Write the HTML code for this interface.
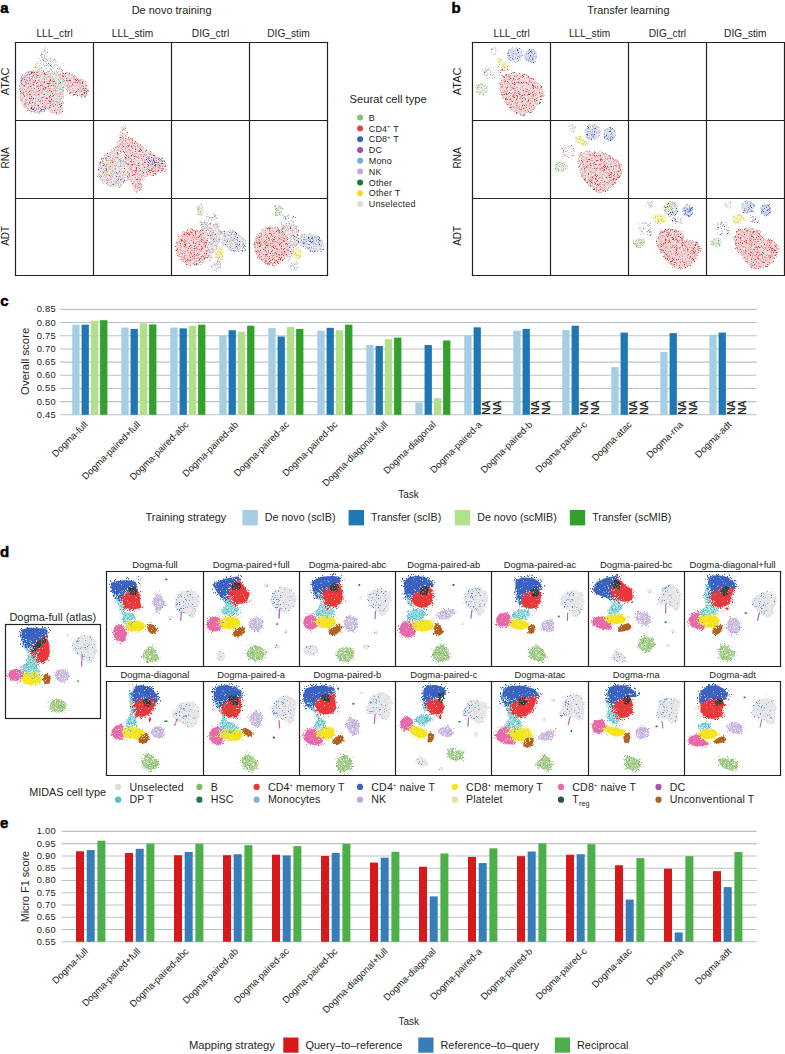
<!DOCTYPE html>
<html><head><meta charset="utf-8"><style>
html,body{margin:0;padding:0;background:#fff;}
svg{display:block;font-family:"Liberation Sans", sans-serif;}
</style></head><body>
<svg width="785" height="1054" viewBox="0 0 785 1054">
<rect width="785" height="1054" fill="#fff"/>
<path d="M22.3 76.8L28.9 73.0L40.3 72.0L47.9 73.9L54.5 81.5L55.5 89.1L53.6 98.5L48.8 107.1L41.3 111.8L33.7 111.8L25.1 108.0L21.3 100.4L20.9 87.2Z" fill="#f5e3e4"/>
<path d="M60.9 74.4L68.4 72.5L76.0 77.2L83.6 80.1L87.4 84.8L87.4 92.4L84.6 96.2L76.0 94.3L70.3 93.3L63.7 87.7L60.9 81.0Z" fill="#f5e0e2"/>
<path d="M49.3 71.8L59.7 73.7L63.5 85.1L63.5 98.4L62.6 104.1L55.9 102.2L54.1 88.9Z" fill="#f3edee"/>
<path d="M46.3 99.6L55.8 99.6L62.4 103.4L62.4 111.9L57.6 114.8L49.1 111.9Z" fill="#f2e2e4"/>
<path d="M98.1 176.0L99.9 162.9L105.5 154.4L113.0 150.7L122.4 154.4L125.2 165.7L124.3 179.7L122.4 185.3L113.0 187.2L105.5 183.5L99.9 179.7Z" fill="#f0eaed"/>
<path d="M115.0 150.2L120.6 141.8L124.3 136.2L131.8 139.9L138.4 143.7L144.9 149.3L152.4 154.9L161.8 159.6L165.5 164.3L163.6 170.8L156.1 173.6L146.8 175.5L141.2 179.3L141.2 188.6L137.4 191.4L133.7 187.7L131.8 181.1L127.1 179.3L127.1 165.2L124.3 154.0Z" fill="#f6e0e1"/>
<path d="M144.2 158.6L155.4 156.7L164.8 162.3L162.9 168.9L149.8 168.9Z" fill="#e7e2eb"/>
<path d="M208.7 247.3L208.3 251.2L207.1 254.8L205.2 258.1L202.7 260.9L199.6 262.9L196.2 264.2L192.6 264.6L189.1 264.2L185.7 262.9L182.6 260.9L180.1 258.1L178.1 254.8L176.9 251.2L176.5 247.3L176.9 243.5L178.1 239.8L180.1 236.5L182.6 233.8L185.7 231.7L189.1 230.4L192.6 230.0L196.2 230.4L199.6 231.7L202.7 233.8L205.2 236.5L207.1 239.8L208.3 243.5Z" fill="#f7ddde"/>
<path d="M200.0 222.5L217.8 224.4L220.6 230.9L218.7 245.0L213.1 252.4L210.3 260.9L207.5 256.2L210.3 240.3L201.9 230.9Z" fill="#f4edef"/>
<path d="M222.2 231.9L233.4 231.0L244.6 239.4L244.6 250.7L233.4 251.6L222.2 244.1Z" fill="#e8e9ed"/>
<path d="M214.6 247.8L221.2 246.9L223.0 253.4L222.1 259.0L218.4 260.9L215.6 257.2Z" fill="#f9f6d8"/>
<path d="M196.5 206.3L201.1 204.5L203.9 209.1L203.0 214.7L197.4 214.7Z" fill="#e9f2e4"/>
<path d="M288.3 245.8L287.9 249.9L286.7 253.7L284.7 257.2L282.0 260.1L278.9 262.3L275.4 263.6L271.6 264.1L267.9 263.6L264.4 262.3L261.3 260.1L258.6 257.2L256.6 253.7L255.4 249.9L255.0 245.8L255.4 241.7L256.6 237.9L258.6 234.4L261.3 231.5L264.4 229.4L267.9 228.0L271.6 227.6L275.4 228.0L278.9 229.4L282.0 231.5L284.7 234.4L286.7 237.9L287.9 241.7Z" fill="#f8dcdc"/>
<path d="M280.0 223.5L295.9 225.3L298.7 231.9L296.8 245.0L292.1 252.5L289.3 260.9L286.5 256.2L289.3 240.3L282.8 230.9Z" fill="#f4edef"/>
<path d="M299.2 234.8L311.4 233.9L322.6 239.5L322.6 250.7L311.4 251.7L299.2 244.2Z" fill="#e6e7f0"/>
<path d="M301.5 253.4L301.4 254.7L301.1 256.0L300.6 257.1L299.9 258.1L299.1 258.8L298.2 259.3L297.3 259.4L296.4 259.3L295.5 258.8L294.7 258.1L294.0 257.1L293.5 256.0L293.2 254.7L293.1 253.4L293.2 252.0L293.5 250.7L294.0 249.6L294.7 248.6L295.5 247.9L296.4 247.4L297.3 247.3L298.2 247.4L299.1 247.9L299.9 248.6L300.6 249.6L301.1 250.7L301.4 252.0Z" fill="#f9f6d8"/>
<path d="M274.5 206.4L279.1 204.5L281.9 209.2L281.0 215.7L275.4 215.7Z" fill="#eaf0e3"/>
<path d="M500.8 85.8L503.6 76.5L514.8 73.7L526.1 75.5L535.4 81.1L541.0 86.8L543.8 93.3L540.1 101.7L533.5 109.2L524.2 114.8L516.7 113.0L507.3 103.6L502.7 96.1Z" fill="#f7e1e1"/>
<path d="M522.3 54.6L522.1 56.1L521.5 57.6L520.6 59.0L519.4 60.1L518.0 60.9L516.4 61.4L514.8 61.6L513.1 61.4L511.5 60.9L510.1 60.1L508.9 59.0L508.0 57.6L507.5 56.1L507.3 54.6L507.5 53.0L508.0 51.5L508.9 50.2L510.1 49.1L511.5 48.3L513.1 47.7L514.8 47.6L516.4 47.7L518.0 48.3L519.4 49.1L520.6 50.2L521.5 51.5L522.1 53.0Z" fill="#e4e7f3"/>
<path d="M537.0 56.1L536.8 57.5L536.4 58.9L535.6 60.2L534.7 61.2L533.5 62.0L532.2 62.5L530.9 62.6L529.5 62.5L528.2 62.0L527.1 61.2L526.1 60.2L525.4 58.9L524.9 57.5L524.8 56.1L524.9 54.6L525.4 53.2L526.1 52.0L527.1 51.0L528.2 50.2L529.5 49.7L530.9 49.5L532.2 49.7L533.5 50.2L534.7 51.0L535.6 52.0L536.4 53.2L536.8 54.6Z" fill="#dfe4f2"/>
<path d="M497.6 58.5L500.4 58.5L508.8 66.0L507.9 69.7L505.0 68.8L497.6 62.3Z" fill="#faf7d5"/>
<path d="M487.6 89.3L487.5 90.5L487.0 91.7L486.3 92.8L485.4 93.7L484.2 94.4L482.9 94.8L481.6 94.9L480.2 94.8L478.9 94.4L477.8 93.7L476.8 92.8L476.1 91.7L475.6 90.5L475.5 89.3L475.6 88.0L476.1 86.9L476.8 85.8L477.8 84.9L478.9 84.2L480.2 83.8L481.6 83.7L482.9 83.8L484.2 84.2L485.4 84.9L486.3 85.8L487.0 86.9L487.5 88.0Z" fill="#ecf3e9"/>
<path d="M578.7 160.9L581.5 153.4L592.8 151.6L604.0 153.4L614.3 159.1L620.9 165.6L620.9 174.0L613.4 184.3L604.0 191.8L596.5 190.9L586.2 181.5L580.6 172.2Z" fill="#f7e1e1"/>
<path d="M600.3 132.1L600.1 133.7L599.5 135.3L598.6 136.7L597.4 137.9L596.0 138.8L594.4 139.4L592.8 139.6L591.1 139.4L589.5 138.8L588.1 137.9L586.9 136.7L586.0 135.3L585.5 133.7L585.3 132.1L585.5 130.4L586.0 128.8L586.9 127.4L588.1 126.2L589.5 125.3L591.1 124.8L592.8 124.6L594.4 124.8L596.0 125.3L597.4 126.2L598.6 127.4L599.5 128.8L600.1 130.4Z" fill="#e4e7f3"/>
<path d="M615.5 134.1L615.3 135.5L614.9 136.9L614.1 138.2L613.2 139.2L612.0 140.0L610.7 140.5L609.4 140.6L608.0 140.5L606.7 140.0L605.6 139.2L604.6 138.2L603.9 136.9L603.4 135.5L603.3 134.1L603.4 132.6L603.9 131.2L604.6 130.0L605.6 129.0L606.7 128.2L608.0 127.7L609.4 127.5L610.7 127.7L612.0 128.2L613.2 129.0L614.1 130.0L614.9 131.2L615.3 132.6Z" fill="#dfe4f2"/>
<path d="M575.6 136.5L580.2 136.5L586.8 142.1L585.9 145.8L582.1 145.8L575.6 141.1Z" fill="#faf7d5"/>
<path d="M567.1 166.8L567.0 167.9L566.5 169.0L565.7 170.0L564.7 170.8L563.4 171.4L562.0 171.8L560.6 171.9L559.1 171.8L557.7 171.4L556.5 170.8L555.4 170.0L554.7 169.0L554.2 167.9L554.0 166.8L554.2 165.7L554.7 164.6L555.4 163.6L556.5 162.8L557.7 162.2L559.1 161.8L560.6 161.6L562.0 161.8L563.4 162.2L564.7 162.8L565.7 163.6L566.5 164.6L567.0 165.7Z" fill="#ecf3e9"/>
<path d="M657.7 240.8L661.5 231.5L670.8 229.6L682.0 232.4L683.9 239.9L695.1 241.7L699.8 247.4L697.0 256.7L689.5 265.1L680.2 268.0L672.7 266.1L665.2 256.7L658.6 247.4Z" fill="#f8ddde"/>
<path d="M677.8 209.1L677.6 210.7L677.1 212.3L676.3 213.7L675.1 214.9L673.8 215.8L672.3 216.4L670.8 216.6L669.2 216.4L667.7 215.8L666.4 214.9L665.3 213.7L664.4 212.3L663.9 210.7L663.8 209.1L663.9 207.4L664.4 205.8L665.3 204.4L666.4 203.2L667.7 202.3L669.2 201.8L670.8 201.6L672.3 201.8L673.8 202.3L675.1 203.2L676.3 204.4L677.1 205.8L677.6 207.4Z" fill="#e7eaea"/>
<path d="M693.0 210.6L692.9 211.8L692.5 213.0L691.9 214.1L691.1 215.0L690.1 215.6L689.0 216.1L687.9 216.2L686.7 216.1L685.6 215.6L684.7 215.0L683.9 214.1L683.2 213.0L682.9 211.8L682.7 210.6L682.9 209.3L683.2 208.1L683.9 207.1L684.7 206.2L685.6 205.5L686.7 205.1L687.9 205.0L689.0 205.1L690.1 205.5L691.1 206.2L691.9 207.1L692.5 208.1L692.9 209.3Z" fill="#dbe2f2"/>
<path d="M665.8 218.6L665.6 219.7L665.2 220.7L664.5 221.6L663.5 222.3L662.3 222.9L661.1 223.2L659.7 223.3L658.3 223.2L657.1 222.9L655.9 222.3L654.9 221.6L654.2 220.7L653.8 219.7L653.6 218.6L653.8 217.6L654.2 216.6L654.9 215.7L655.9 215.0L657.1 214.4L658.3 214.1L659.7 214.0L661.1 214.1L662.3 214.4L663.5 215.0L664.5 215.7L665.2 216.6L665.6 217.6Z" fill="#faf7d5"/>
<path d="M644.7 242.8L644.5 243.7L644.1 244.6L643.5 245.4L642.6 246.1L641.5 246.6L640.3 246.9L639.1 247.0L637.8 246.9L636.6 246.6L635.6 246.1L634.7 245.4L634.0 244.6L633.6 243.7L633.5 242.8L633.6 241.9L634.0 241.0L634.7 240.2L635.6 239.5L636.6 239.0L637.8 238.7L639.1 238.6L640.3 238.7L641.5 239.0L642.6 239.5L643.5 240.2L644.1 241.0L644.5 241.9Z" fill="#eaf2e6"/>
<path d="M734.8 240.8L738.5 230.5L748.8 228.6L760.0 231.4L761.9 238.9L773.1 240.8L777.8 247.3L775.0 257.6L767.5 265.1L758.2 267.9L750.7 266.1L743.2 256.7L736.6 248.3Z" fill="#f8ddde"/>
<path d="M754.3 207.1L754.2 208.4L753.7 209.7L752.9 210.9L751.8 211.8L750.6 212.5L749.2 213.0L747.8 213.1L746.3 213.0L744.9 212.5L743.7 211.8L742.6 210.9L741.9 209.7L741.4 208.4L741.2 207.1L741.4 205.7L741.9 204.4L742.6 203.3L743.7 202.3L744.9 201.6L746.3 201.1L747.8 201.0L749.2 201.1L750.6 201.6L751.8 202.3L752.9 203.3L753.7 204.4L754.2 205.7Z" fill="#dfe4f2"/>
<path d="M771.0 210.1L770.9 211.4L770.5 212.7L769.9 213.9L769.1 214.8L768.1 215.6L767.0 216.0L765.9 216.2L764.7 216.0L763.6 215.6L762.7 214.8L761.9 213.9L761.2 212.7L760.9 211.4L760.7 210.1L760.9 208.7L761.2 207.4L761.9 206.3L762.7 205.3L763.6 204.6L764.7 204.2L765.9 204.0L767.0 204.2L768.1 204.6L769.1 205.3L769.9 206.3L770.5 207.4L770.9 208.7Z" fill="#dbe2f2"/>
<path d="M744.3 219.1L744.2 220.1L743.8 221.0L743.1 221.8L742.2 222.4L741.1 222.9L740.0 223.2L738.7 223.4L737.5 223.2L736.3 222.9L735.2 222.4L734.3 221.8L733.6 221.0L733.2 220.1L733.1 219.1L733.2 218.2L733.6 217.3L734.3 216.5L735.2 215.8L736.3 215.3L737.5 215.0L738.7 214.9L740.0 215.0L741.1 215.3L742.2 215.8L743.1 216.5L743.8 217.3L744.2 218.2Z" fill="#faf7d5"/>
<path d="M721.7 242.8L721.5 243.7L721.1 244.6L720.5 245.4L719.6 246.1L718.5 246.6L717.3 246.9L716.1 247.0L714.8 246.9L713.6 246.6L712.6 246.1L711.7 245.4L711.0 244.6L710.6 243.7L710.4 242.8L710.6 241.9L711.0 241.0L711.7 240.2L712.6 239.5L713.6 239.0L714.8 238.7L716.1 238.6L717.3 238.7L718.5 239.0L719.6 239.5L720.5 240.2L721.1 241.0L721.5 241.9Z" fill="#eaf2e6"/>
<g transform="translate(0 0.5)"><path d="M45 47h1M45 48h1M509 49h1M495 50h1M497 50h1M508 50h1M510 50h1M528 50h1M44 51h1M508 51h1M518 51h1M534 51h1M46 52h1M491 52h1M511 52h1M514 52h1M532 52h1M534 52h1M45 53h1M512 53h1M516 53h1M531 53h2M535 53h1M42 54h1M495 54h1M511 54h1M518 54h1M527 54h1M536 54h1M41 55h1M512 55h2M528 55h1M41 56h1M44 56h1M46 56h1M517 56h1M535 56h1M41 57h1M44 57h1M509 57h1M524 57h1M531 57h1M535 57h1M43 58h1M45 58h1M50 58h1M498 58h1M508 58h1M533 58h1M535 58h1M43 59h1M50 59h1M500 59h1M512 59h1M520 59h1M40 60h1M44 60h1M529 60h1M46 61h1M50 61h1M52 61h1M528 61h1M532 61h1M41 62h1M55 62h1M60 62h1M515 62h1M531 62h1M50 63h1M43 64h1M47 64h1M49 64h1M51 64h1M499 64h1M48 65h1M54 65h1M35 66h1M58 66h1M507 66h1M35 67h1M60 67h1M39 68h1M46 68h1M50 68h1M53 68h1M59 68h1M485 68h1M493 68h1M38 69h1M45 69h1M50 69h2M482 69h1M487 69h3M51 70h1M484 70h1M486 70h2M492 70h1M498 70h1M502 70h2M32 71h1M37 71h1M47 71h1M56 71h1M58 71h1M61 71h1M485 71h2M26 72h1M29 72h1M42 72h1M46 72h1M48 72h1M51 72h1M54 72h1M485 72h1M490 72h1M493 72h1M39 73h1M56 73h2M66 73h1M513 73h1M522 73h1M23 74h1M31 74h2M34 74h1M41 74h2M50 74h1M69 74h1M491 74h1M27 75h1M39 75h2M44 75h1M50 75h1M55 75h2M59 75h1M68 75h2M72 75h1M508 75h1M510 75h1M524 75h1M21 76h1M26 76h1M29 76h1M31 76h1M40 76h1M50 76h1M52 76h1M54 76h1M60 76h2M74 76h1M504 76h1M506 76h2M515 76h1M36 77h1M49 77h1M52 77h1M60 77h1M67 77h1M71 77h1M489 77h1M506 77h1M513 77h1M523 77h1M32 78h1M35 78h2M42 78h2M46 78h1M51 78h1M56 78h1M58 78h1M61 78h1M70 78h1M73 78h1M486 78h2M505 78h1M509 78h1M21 79h1M25 79h1M30 79h3M61 79h1M69 79h2M73 79h1M78 79h1M507 79h1M512 79h1M37 80h1M51 80h2M56 80h1M62 80h1M65 80h1M73 80h1M83 80h1M503 80h1M506 80h1M510 80h1M519 80h1M23 81h1M28 81h3M50 81h1M52 81h1M59 81h1M83 81h1M518 81h1M520 81h1M38 82h1M43 82h1M47 82h1M52 82h1M56 82h1M58 82h1M65 82h1M70 82h1M504 82h1M528 82h1M25 83h1M30 83h2M42 83h2M53 83h1M60 83h1M62 83h1M80 83h1M480 83h2M521 83h1M524 83h1M526 83h1M26 84h1M42 84h1M45 84h1M56 84h1M60 84h1M85 84h1M482 84h1M499 84h1M508 84h1M515 84h1M25 85h1M33 85h1M37 85h1M50 85h1M52 85h1M54 85h2M58 85h1M65 85h2M76 85h2M79 85h1M81 85h1M478 85h1M485 85h1M511 85h1M513 85h1M521 85h1M26 86h1M28 86h1M40 86h1M43 86h2M54 86h1M57 86h1M63 86h1M67 86h1M71 86h1M78 86h1M477 86h1M510 86h1M521 86h1M530 86h1M535 86h1M27 87h1M30 87h1M55 87h1M60 87h1M80 87h1M478 87h2M486 87h1M500 87h1M520 87h1M522 87h1M23 88h1M40 88h1M46 88h2M54 88h1M56 88h2M60 88h1M62 88h1M68 88h1M80 88h1M86 88h1M477 88h1M481 88h1M484 88h1M515 88h1M519 88h1M530 88h1M536 88h1M538 88h1M540 88h1M30 89h1M34 89h1M41 89h2M45 89h1M50 89h1M55 89h1M63 89h1M68 89h2M80 89h1M87 89h1M476 89h1M502 89h1M510 89h1M513 89h1M522 89h1M541 89h1M20 90h1M25 90h1M28 90h1M35 90h1M41 90h2M50 90h1M59 90h1M62 90h1M67 90h1M80 90h1M500 90h1M502 90h1M507 90h1M514 90h1M517 90h1M522 90h1M537 90h1M30 91h1M37 91h1M40 91h1M62 91h2M67 91h1M69 91h1M73 91h1M78 91h2M477 91h1M486 91h1M500 91h1M503 91h1M505 91h2M520 91h1M527 91h1M531 91h1M539 91h1M27 92h1M47 92h1M52 92h1M59 92h2M62 92h1M72 92h1M77 92h1M479 92h2M486 92h1M502 92h1M504 92h1M512 92h1M21 93h1M23 93h1M38 93h1M44 93h1M55 93h2M60 93h1M516 93h1M535 93h1M539 93h1M20 94h1M26 94h1M35 94h1M37 94h1M56 94h1M79 94h1M85 94h1M479 94h1M483 94h1M522 94h1M525 94h3M535 94h1M540 94h1M23 95h1M27 95h2M39 95h1M59 95h1M85 95h1M501 95h1M510 95h1M515 95h1M523 95h1M27 96h1M29 96h1M58 96h1M61 96h3M508 96h2M520 96h1M528 96h1M542 96h2M20 97h1M22 97h2M31 97h1M38 97h1M46 97h1M54 97h1M57 97h1M59 97h2M63 97h1M508 97h2M529 97h1M37 98h1M41 98h1M55 98h2M59 98h1M516 98h1M530 98h1M533 98h1M26 99h1M32 99h1M35 99h1M57 99h1M59 99h2M521 99h1M20 100h1M35 100h1M44 100h1M52 100h2M505 100h1M511 100h1M527 100h1M537 100h1M21 101h1M24 101h2M35 101h1M51 101h1M54 101h1M56 101h1M515 101h1M521 101h1M526 101h1M535 101h1M22 102h1M25 102h3M30 102h1M33 102h3M41 102h1M50 102h1M56 102h1M58 102h1M63 102h1M506 102h1M518 102h1M520 102h1M526 102h1M528 102h1M52 103h1M54 103h1M57 103h1M59 103h2M63 103h1M508 103h1M516 103h1M523 103h1M527 103h1M535 103h3M34 104h1M43 104h1M523 104h1M529 104h1M537 104h2M24 105h1M31 105h1M46 105h1M49 105h1M54 105h1M531 105h1M25 106h1M32 106h1M514 106h1M516 106h1M528 106h2M533 106h1M24 107h1M43 107h1M514 107h1M517 107h1M523 107h1M525 107h1M529 107h1M32 108h1M47 108h1M62 108h1M510 108h1M531 108h1M534 108h1M31 109h1M45 109h1M48 109h1M51 109h1M515 109h1M518 109h1M34 110h1M43 110h1M57 110h1M515 110h1M530 110h1M32 111h1M54 111h1M514 111h1M518 111h1M521 111h1M532 111h1M35 112h1M38 112h1M50 112h1M54 112h1M518 112h1M527 112h1M519 113h2M523 113h1M516 114h1M520 115h3M589 125h1M593 125h2M596 125h1M573 126h1M589 126h1M121 127h1M124 127h1M590 127h1M596 127h1M122 128h1M124 128h1M574 128h1M593 128h1M571 129h1M588 129h3M593 129h1M606 129h2M569 130h1M585 130h1M599 130h1M586 131h1M589 131h1M608 131h1M126 132h1M573 132h1M590 132h2M611 132h1M615 132h1M587 133h1M592 133h1M597 133h1M127 134h1M608 134h1M122 135h1M615 135h1M598 136h1M606 136h1M608 136h1M614 136h1M119 137h1M121 137h1M576 137h1M591 137h1M596 137h1M614 137h1M119 138h1M604 138h1M576 139h1M605 139h2M124 140h1M608 140h1M121 142h1M134 142h1M117 143h1M121 143h1M129 143h1M137 143h2M583 143h1M121 144h1M124 144h1M585 144h1M118 145h1M123 145h1M131 145h1M138 146h1M142 146h1M116 147h1M122 147h1M125 147h1M132 147h2M565 147h1M565 148h1M568 148h1M573 148h1M114 149h1M117 149h1M128 149h1M141 149h1M113 150h3M120 150h1M573 150h1M594 150h1M112 151h1M114 151h1M121 151h1M126 151h2M130 151h1M563 151h1M574 151h1M590 151h1M594 151h1M110 152h2M125 152h2M130 152h1M105 153h1M112 153h1M118 153h1M120 153h1M144 153h1M148 153h1M151 153h1M564 153h1M580 153h1M583 153h1M109 154h2M118 154h1M139 154h2M143 154h1M564 154h1M579 154h1M588 154h1M600 154h1M603 154h1M605 154h1M104 155h1M107 155h1M113 155h1M117 155h1M132 155h1M144 155h1M151 155h1M564 155h2M571 155h1M579 155h1M589 155h1M593 155h1M603 155h1M109 156h1M113 156h1M126 156h1M130 156h1M562 156h1M565 156h1M582 156h1M590 156h1M599 156h1M605 156h1M105 157h2M126 157h1M129 157h1M136 157h1M139 157h1M149 157h1M153 157h1M579 157h1M586 157h2M595 157h2M602 157h1M607 157h1M609 157h1M102 158h1M107 158h1M109 158h1M120 158h2M139 158h1M143 158h1M147 158h1M151 158h1M154 158h1M586 158h1M601 158h1M105 159h1M113 159h2M141 159h1M144 159h1M151 159h1M578 159h1M583 159h1M599 159h1M602 159h1M604 159h1M612 159h1M615 159h2M102 160h1M107 160h1M109 160h2M121 160h1M584 160h1M589 160h2M593 160h1M608 160h1M112 161h1M123 161h1M125 161h1M134 161h1M149 161h1M158 161h1M160 161h2M577 161h2M608 161h1M611 161h1M102 162h1M113 162h1M120 162h2M123 162h4M133 162h1M135 162h1M139 162h1M157 162h1M165 162h1M581 162h1M586 162h1M593 162h1M606 162h1M613 162h1M107 163h1M113 163h1M120 163h1M123 163h1M134 163h1M153 163h1M157 163h1M159 163h1M163 163h1M557 163h1M561 163h1M580 163h1M582 163h1M585 163h1M592 163h1M603 163h1M607 163h1M611 163h1M614 163h1M102 164h1M125 164h1M133 164h1M137 164h1M159 164h2M557 164h1M586 164h1M593 164h2M608 164h1M611 164h1M98 165h1M104 165h1M124 165h1M127 165h3M158 165h1M555 165h1M557 165h1M566 165h1M593 165h1M600 165h1M614 165h1M100 166h1M106 166h1M117 166h3M124 166h1M126 166h1M131 166h2M139 166h1M144 166h1M148 166h1M152 166h1M159 166h1M161 166h1M561 166h1M563 166h1M567 166h1M587 166h1M594 166h1M618 166h1M99 167h1M106 167h1M109 167h1M112 167h1M119 167h1M135 167h1M138 167h1M142 167h1M146 167h1M155 167h1M162 167h1M583 167h2M591 167h1M595 167h1M599 167h1M611 167h1M613 167h1M620 167h1M98 168h1M100 168h1M109 168h1M111 168h2M118 168h1M121 168h2M160 168h1M556 168h1M558 168h1M563 168h1M595 168h1M597 168h1M615 168h1M618 168h1M620 168h1M103 169h1M109 169h2M114 169h1M138 169h1M140 169h1M146 169h2M155 169h2M558 169h2M582 169h1M100 170h1M125 170h1M144 170h1M147 170h1M165 170h1M556 170h1M595 170h1M600 170h2M102 171h1M107 171h1M109 171h1M113 171h1M131 171h1M134 171h1M138 171h1M146 171h1M155 171h1M162 171h1M561 171h1M584 171h1M587 171h1M591 171h1M595 171h1M601 171h1M606 171h1M610 171h1M616 171h1M619 171h1M621 171h1M105 172h1M110 172h1M121 172h1M125 172h1M132 172h1M136 172h1M160 172h1M584 172h1M591 172h2M594 172h1M600 172h1M602 172h1M621 172h1M110 173h1M116 173h1M132 173h1M142 173h1M152 173h1M584 173h1M586 173h1M599 173h1M609 173h1M620 173h1M106 174h1M112 174h1M123 174h1M125 174h1M129 174h1M142 174h1M150 174h1M596 174h1M603 174h1M609 174h1M98 175h1M104 175h1M108 175h1M115 175h1M125 175h1M127 175h1M139 175h1M599 175h1M604 175h1M118 176h1M584 176h1M590 176h2M593 176h1M598 176h1M601 176h1M608 176h1M615 176h1M110 177h1M122 177h2M134 177h1M139 177h1M587 177h2M591 177h1M595 177h1M600 177h1M605 177h1M107 178h1M117 178h2M121 178h1M123 178h1M130 178h1M144 178h1M589 178h1M599 178h1M603 178h1M606 178h2M100 179h3M107 179h2M116 179h1M122 179h1M124 179h1M132 179h1M611 179h1M108 180h2M113 180h1M126 180h2M136 180h1M600 180h1M602 180h1M612 180h1M111 181h1M113 181h1M133 181h1M611 181h2M104 182h1M107 182h3M116 182h1M119 182h1M133 182h1M137 182h1M602 182h1M604 182h1M608 182h2M103 183h1M107 183h1M113 183h1M117 183h2M133 183h1M587 183h1M589 183h2M597 183h1M600 183h1M605 183h1M607 183h1M613 183h1M132 184h1M136 184h1M138 184h1M589 184h2M594 184h1M607 184h1M611 184h1M109 185h3M115 185h1M118 185h1M135 185h1M140 185h1M596 185h1M113 186h1M120 186h1M136 186h1M141 186h1M592 186h1M594 186h1M597 186h1M603 186h1M605 186h1M613 186h1M606 187h1M608 187h1M602 188h2M599 190h1M604 190h1M135 191h3M602 191h3M598 192h2M604 193h1M746 200h1M669 201h2M744 201h1M749 201h1M647 202h1M651 202h1M671 202h2M725 202h1M728 202h1M746 202h1M648 203h1M673 203h1M742 203h1M745 203h3M651 204h1M670 204h1M673 204h1M686 204h1M726 204h1M743 204h1M752 204h1M652 205h1M672 205h1M674 205h2M747 205h1M197 206h1M279 206h1M650 206h1M670 206h1M676 206h1M685 206h1M742 206h1M749 206h1M762 206h1M765 206h2M769 206h1M202 207h1M279 207h1M668 207h1M683 207h1M750 207h1M197 208h1M199 208h1M201 208h1M281 208h1M667 208h1M760 208h1M762 208h1M768 208h1M278 209h1M746 209h1M683 210h1M750 210h1M766 210h1M768 210h1M770 210h1M665 211h1M674 211h1M691 211h1M749 211h1M762 211h1M690 212h1M746 212h1M670 213h1M673 213h1M686 213h1M689 213h1M763 213h1M770 213h1M199 214h1M213 214h1M288 214h1M685 214h1M739 214h1M217 215h1M738 215h1M750 215h1M206 216h1M287 216h1M660 216h1M669 216h1M765 216h1M209 217h1M213 217h1M215 217h1M285 217h1M288 217h1M292 217h2M751 217h1M756 217h1M216 218h2M283 218h1M653 218h1M677 218h1M680 218h1M736 218h1M211 219h1M285 219h1M658 219h1M661 219h2M671 219h1M752 219h1M204 220h1M208 220h1M681 220h1M752 220h1M758 220h1M200 221h1M288 221h1M658 221h1M663 221h1M674 221h1M676 221h1M678 221h1M758 221h1M201 222h1M203 222h1M206 222h2M281 222h1M679 222h2M718 222h1M738 222h1M209 223h1M215 223h1M281 223h1M643 223h1M645 223h2M717 223h1M720 223h2M203 224h1M208 224h1M215 224h1M217 224h1M281 224h1M289 224h1M291 224h1M293 224h1M648 224h1M717 224h1M726 224h1M207 225h1M217 225h1M283 225h1M291 225h1M293 225h1M203 226h1M213 226h1M218 226h1M269 226h2M275 226h1M283 226h1M287 226h1M291 226h1M294 226h2M648 226h1M720 226h1M722 226h1M201 227h1M209 227h1M271 227h1M285 227h1M287 227h1M640 227h1M643 227h1M202 228h1M205 228h1M218 228h1M265 228h1M288 228h1M291 228h1M669 228h1M746 228h1M750 228h1M753 228h1M190 229h1M201 229h1M207 229h2M263 229h1M281 229h2M296 229h1M640 229h1M648 229h3M666 229h1M185 230h1M203 230h1M205 230h1M209 230h1M211 230h2M285 230h1M290 230h1M296 230h1M674 230h1M742 230h1M745 230h1M192 231h1M199 231h1M213 231h1M221 231h2M228 231h1M285 231h1M642 231h1M649 231h1M651 231h1M665 231h2M722 231h1M729 231h1M738 231h1M749 231h1M756 231h1M205 232h2M209 232h1M211 232h2M219 232h2M224 232h1M230 232h2M285 232h1M292 232h1M294 232h1M296 232h1M298 232h1M642 232h1M650 232h1M672 232h1M678 232h1M749 232h1M757 232h1M186 233h1M198 233h1M201 233h1M207 233h1M209 233h1M216 233h1M220 233h1M234 233h1M266 233h1M275 233h1M284 233h1M288 233h1M310 233h1M726 233h1M744 233h1M755 233h1M206 234h1M210 234h1M214 234h1M218 234h3M266 234h1M281 234h1M287 234h1M292 234h1M296 234h1M301 234h2M640 234h1M651 234h1M676 234h1M723 234h1M749 234h2M754 234h1M181 235h1M198 235h1M211 235h1M225 235h1M229 235h2M235 235h1M238 235h2M278 235h1M281 235h1M286 235h1M290 235h1M292 235h1M298 235h1M649 235h1M659 235h1M661 235h1M676 235h1M682 235h1M197 236h1M210 236h1M212 236h1M216 236h1M258 236h1M263 236h1M282 236h1M291 236h1M293 236h1M295 236h1M302 236h1M306 236h1M308 236h1M310 236h1M312 236h1M317 236h1M658 236h1M662 236h1M673 236h1M677 236h1M193 237h1M203 237h2M211 237h1M213 237h2M234 237h1M262 237h1M275 237h1M282 237h1M293 237h1M301 237h1M303 237h1M315 237h1M317 237h1M667 237h1M682 237h1M741 237h1M178 238h1M204 238h1M208 238h1M213 238h2M216 238h1M218 238h1M228 238h1M243 238h1M257 238h1M262 238h1M275 238h1M290 238h1M299 238h1M305 238h1M313 238h1M316 238h3M669 238h1M187 239h1M198 239h1M215 239h1M220 239h1M224 239h1M230 239h1M233 239h1M255 239h1M279 239h1M291 239h1M297 239h1M301 239h1M306 239h1M315 239h2M638 239h1M659 239h1M661 239h1M683 239h1M686 239h1M184 240h1M186 240h2M230 240h2M233 240h1M245 240h1M262 240h1M273 240h1M279 240h1M284 240h1M294 240h1M314 240h1M684 240h1M690 240h1M692 240h1M719 240h1M738 240h1M761 240h1M186 241h1M204 241h1M211 241h1M213 241h1M219 241h1M225 241h1M242 241h1M245 241h1M290 241h1M292 241h1M295 241h1M297 241h1M303 241h1M311 241h1M316 241h1M318 241h1M320 241h1M322 241h1M633 241h1M676 241h1M679 241h1M684 241h1M695 241h2M720 241h1M735 241h1M740 241h1M746 241h1M179 242h1M204 242h1M213 242h1M226 242h1M236 242h1M265 242h1M267 242h1M300 242h1M305 242h1M312 242h1M633 242h1M640 242h1M661 242h1M680 242h1M691 242h2M695 242h1M713 242h1M718 242h1M735 242h1M753 242h2M764 242h1M766 242h1M771 242h1M176 243h1M194 243h1M211 243h2M232 243h1M236 243h1M239 243h1M282 243h1M287 243h2M290 243h1M293 243h3M301 243h1M310 243h1M322 243h1M636 243h2M656 243h1M661 243h1M667 243h1M684 243h2M696 243h1M711 243h1M717 243h1M748 243h1M764 243h1M177 244h1M200 244h1M224 244h1M232 244h1M236 244h1M242 244h1M253 244h1M260 244h1M280 244h1M293 244h1M306 244h1M313 244h1M315 244h1M317 244h1M320 244h1M658 244h2M665 244h1M668 244h1M675 244h1M681 244h1M689 244h1M694 244h1M745 244h1M750 244h1M759 244h1M766 244h1M183 245h1M201 245h1M215 245h2M225 245h1M230 245h1M239 245h1M242 245h1M269 245h1M291 245h2M294 245h1M300 245h1M309 245h1M318 245h1M636 245h1M643 245h1M749 245h1M755 245h2M763 245h1M767 245h1M195 246h1M198 246h1M210 246h1M212 246h1M216 246h2M219 246h1M227 246h1M229 246h1M231 246h1M239 246h1M254 246h2M274 246h1M290 246h1M295 246h1M311 246h1M313 246h1M320 246h1M323 246h1M662 246h1M665 246h1M667 246h1M682 246h1M692 246h2M697 246h1M756 246h1M769 246h1M180 247h1M203 247h1M236 247h1M259 247h1M261 247h1M271 247h1M290 247h1M308 247h1M637 247h1M682 247h1M690 247h1M699 247h1M739 247h1M743 247h1M211 248h1M216 248h1M255 248h1M288 248h1M309 248h1M313 248h1M320 248h1M670 248h1M675 248h1M682 248h1M698 248h1M740 248h1M747 248h1M751 248h1M773 248h1M176 249h1M179 249h1M186 249h1M191 249h1M194 249h1M209 249h1M212 249h2M238 249h1M245 249h1M258 249h1M261 249h1M288 249h1M291 249h1M320 249h2M659 249h1M680 249h1M684 249h1M698 249h1M738 249h1M764 249h1M768 249h1M178 250h1M180 250h2M196 250h1M209 250h1M213 250h1M230 250h1M234 250h1M237 250h1M241 250h1M244 250h1M255 250h1M264 250h1M267 250h1M293 250h1M309 250h1M311 250h1M314 250h2M317 250h2M669 250h1M737 250h1M739 250h1M758 250h1M209 251h2M219 251h1M238 251h1M257 251h1M272 251h1M278 251h2M288 251h2M300 251h1M662 251h1M677 251h1M685 251h1M689 251h1M737 251h1M743 251h1M749 251h1M755 251h1M757 251h2M762 251h1M766 251h1M773 251h1M177 252h1M211 252h1M217 252h1M271 252h1M287 252h1M313 252h1M679 252h1M691 252h1M755 252h1M763 252h1M770 252h1M180 253h1M183 253h1M185 253h1M268 253h1M292 253h1M668 253h1M679 253h1M683 253h1M696 253h1M741 253h1M776 253h1M189 254h1M216 254h1M274 254h1M285 254h1M289 254h1M682 254h1M686 254h1M692 254h1M746 254h1M762 254h1M767 254h1M187 255h1M195 255h1M209 255h1M271 255h1M278 255h1M291 255h1M296 255h1M664 255h1M682 255h1M688 255h1M741 255h1M760 255h1M181 256h1M189 256h2M206 256h1M219 256h1M222 256h1M257 256h1M259 256h1M286 256h1M289 256h2M300 256h1M684 256h1M686 256h1M769 256h1M772 256h1M776 256h1M185 257h1M187 257h1M189 257h1M197 257h1M215 257h1M217 257h2M271 257h2M299 257h1M695 257h1M746 257h1M754 257h1M758 257h1M767 257h1M776 257h1M185 258h3M191 258h1M203 258h1M217 258h2M290 258h1M666 258h1M671 258h1M687 258h1M745 258h2M753 258h1M766 258h1M769 258h1M771 258h2M185 259h1M200 259h1M202 259h1M221 259h1M260 259h1M262 259h1M289 259h1M692 259h1M696 259h1M745 259h1M760 259h1M766 259h1M194 260h1M196 260h1M202 260h1M209 260h2M275 260h1M666 260h1M692 260h1M747 260h1M759 260h1M767 260h1M189 261h1M194 261h1M203 261h1M218 261h1M276 261h1M279 261h1M681 261h1M190 262h1M201 262h1M273 262h1M685 262h1M765 262h1M192 263h1M197 263h1M214 263h1M266 263h1M270 263h1M291 263h1M747 263h1M752 263h1M758 263h1M761 263h1M219 264h1M294 264h1M685 264h1M748 264h1M755 264h1M760 264h1M768 264h1M188 265h1M194 265h1M217 265h1M291 265h1M676 265h1M682 265h1M684 265h1M687 265h1M759 265h1M290 266h1M680 266h1M752 266h1M757 266h1M763 266h1M216 268h1M677 268h1M680 268h1M753 268h1M291 269h1" stroke="#cacaca" stroke-width="1" fill="none"/>
<path d="M38 72h1M43 73h1M39 79h1M46 79h1M24 82h1M41 84h1M48 84h1M23 86h1M39 86h1M21 90h1M27 103h1M51 104h1M34 106h1" stroke="#b2cded" stroke-width="1" fill="none"/>
<path d="M498 66h1M504 70h1M28 71h1M31 71h1M49 71h1M33 72h1M57 72h1M66 72h1M512 72h2M30 73h1M54 73h1M62 73h1M44 74h1M47 74h1M53 74h1M60 74h1M64 74h1M72 74h1M523 74h1M35 75h1M38 75h1M58 75h1M62 75h2M486 75h1M492 75h1M502 75h1M505 75h2M514 75h1M526 75h1M32 76h1M36 76h1M44 76h1M48 76h2M62 76h1M65 76h1M73 76h1M508 76h2M514 76h1M516 76h1M520 76h1M23 77h1M27 77h1M29 77h1M32 77h1M34 77h1M37 77h1M39 77h1M74 77h1M509 77h1M522 77h1M528 77h2M20 78h1M31 78h1M62 78h1M76 78h1M511 78h1M518 78h1M524 78h1M529 78h1M532 78h2M26 79h1M44 79h1M53 79h1M58 79h1M63 79h1M74 79h1M82 79h1M504 79h1M508 79h2M513 79h1M515 79h1M517 79h2M26 80h2M29 80h2M33 80h1M38 80h2M49 80h1M64 80h1M67 80h2M75 80h1M79 80h2M501 80h1M505 80h1M512 80h1M514 80h1M25 81h1M34 81h2M42 81h1M63 81h1M67 81h1M70 81h1M78 81h1M82 81h1M85 81h1M511 81h1M529 81h2M25 82h2M34 82h1M40 82h1M73 82h2M76 82h1M80 82h1M501 82h1M508 82h1M516 82h2M519 82h1M525 82h1M529 82h1M531 82h1M534 82h1M26 83h1M41 83h1M46 83h1M50 83h1M59 83h1M77 83h1M499 83h1M504 83h1M509 83h1M513 83h1M515 83h1M519 83h2M522 83h1M527 83h1M534 83h1M537 83h1M32 84h1M38 84h1M58 84h1M502 84h1M23 85h1M31 85h1M34 85h1M41 85h2M48 85h1M67 85h1M71 85h2M82 85h1M85 85h1M502 85h1M507 85h1M510 85h1M523 85h1M540 85h1M24 86h1M31 86h1M42 86h1M47 86h1M55 86h1M69 86h1M81 86h1M501 86h1M514 86h1M522 86h1M534 86h1M537 86h1M28 87h1M36 87h1M44 87h1M46 87h1M62 87h2M68 87h1M501 87h2M506 87h1M511 87h2M516 87h2M532 87h2M537 87h1M540 87h1M27 88h1M31 88h1M48 88h3M72 88h1M77 88h1M500 88h1M512 88h1M514 88h1M525 88h1M22 89h1M24 89h1M40 89h1M43 89h1M60 89h2M66 89h1M82 89h1M84 89h1M511 89h1M517 89h1M520 89h1M539 89h1M30 90h3M38 90h1M53 90h1M55 90h1M57 90h1M73 90h1M77 90h1M83 90h1M85 90h1M88 90h1M504 90h1M510 90h1M515 90h1M525 90h1M528 90h2M534 90h1M25 91h2M42 91h1M46 91h1M88 91h1M504 91h1M507 91h1M525 91h1M533 91h1M542 91h1M21 92h1M28 92h1M31 92h1M33 92h1M41 92h1M71 92h1M83 92h1M501 92h1M503 92h1M514 92h2M523 92h1M528 92h1M20 93h1M22 93h1M26 93h1M41 93h1M510 93h2M514 93h1M519 93h1M528 93h1M530 93h1M534 93h1M541 93h2M27 94h1M34 94h1M39 94h1M43 94h1M47 94h1M54 94h1M60 94h1M73 94h1M75 94h2M501 94h3M507 94h1M513 94h1M520 94h1M532 94h1M24 95h1M35 95h1M502 95h1M512 95h3M517 95h1M521 95h1M524 95h1M527 95h1M533 95h1M535 95h1M541 95h2M20 96h1M51 96h2M59 96h1M512 96h1M521 96h1M531 96h1M533 96h1M541 96h1M41 97h1M43 97h1M49 97h2M502 97h1M506 97h1M513 97h1M517 97h1M520 97h1M523 97h2M537 97h1M20 98h1M30 98h1M35 98h1M61 98h1M506 98h1M510 98h1M517 98h1M519 98h2M531 98h2M536 98h1M22 99h1M25 99h1M38 99h1M506 99h1M509 99h1M528 99h2M535 99h1M541 99h1M21 100h1M26 100h1M30 100h1M38 100h1M42 100h1M45 100h1M48 100h3M522 100h1M534 100h1M29 101h1M37 101h1M39 101h2M53 101h1M57 101h1M62 101h1M511 101h1M527 101h2M532 101h1M534 101h1M44 102h1M57 102h1M509 102h1M515 102h1M517 102h1M521 102h1M539 102h1M25 103h1M30 103h1M35 103h1M47 103h2M50 103h1M515 103h1M517 103h1M24 104h2M28 104h1M52 104h1M510 104h2M526 104h1M35 105h1M37 105h1M57 105h1M510 105h1M516 105h2M529 105h1M26 106h1M31 106h1M38 106h1M45 106h1M512 106h1M519 106h1M522 106h1M531 106h1M46 107h1M60 107h1M509 107h1M513 107h1M516 107h1M518 107h1M521 107h1M531 107h1M27 108h1M30 108h1M33 108h2M36 108h1M40 108h1M55 108h1M519 108h1M524 108h1M42 109h1M57 109h1M511 109h1M519 109h2M527 109h1M532 109h2M29 110h1M44 110h1M52 110h1M39 111h1M44 111h1M59 111h1M523 111h1M61 112h1M517 112h1M529 112h1M531 112h1M39 113h1M56 113h1M59 113h1M520 114h1M523 114h2M523 115h2M125 128h1M123 129h1M122 130h1M122 133h1M125 135h1M122 136h1M123 137h1M122 138h1M130 138h3M120 139h1M128 139h2M132 139h1M123 140h1M125 140h1M119 141h1M122 142h1M130 142h1M132 142h1M123 143h1M127 143h1M132 143h1M136 143h1M120 144h1M129 144h1M140 144h1M127 145h3M133 145h1M137 145h1M140 145h1M117 146h1M119 146h1M132 146h1M135 146h1M137 146h1M115 147h1M118 147h1M127 147h1M135 147h1M143 147h1M113 148h1M125 148h1M132 148h1M135 148h1M139 148h2M562 148h1M122 149h1M129 149h1M118 150h1M129 150h2M140 151h1M145 151h1M150 151h1M586 151h2M589 151h1M132 152h1M142 152h1M581 152h1M594 152h2M602 152h1M114 153h1M130 153h1M134 153h1M136 153h1M592 153h1M603 153h1M605 153h1M117 154h1M125 154h1M132 154h1M141 154h1M146 154h1M149 154h2M580 154h1M589 154h2M593 154h1M128 155h1M133 155h1M140 155h1M145 155h1M572 155h1M581 155h1M590 155h1M592 155h1M598 155h2M608 155h2M124 156h1M131 156h1M135 156h2M138 156h1M147 156h1M149 156h1M594 156h2M597 156h1M600 156h1M604 156h1M609 156h2M115 157h2M137 157h1M155 157h1M157 157h1M610 157h1M106 158h1M112 158h1M125 158h2M130 158h1M134 158h1M138 158h1M141 158h1M148 158h2M161 158h1M581 158h1M591 158h1M600 158h1M605 158h1M607 158h2M612 158h2M125 159h1M131 159h1M586 159h1M607 159h1M613 159h1M111 160h2M131 160h1M142 160h1M154 160h1M161 160h2M164 160h1M579 160h1M591 160h2M602 160h1M614 160h1M617 160h1M113 161h1M120 161h1M122 161h1M131 161h1M144 161h1M586 161h1M596 161h1M601 161h1M613 161h1M618 161h1M110 162h1M131 162h1M582 162h1M587 162h1M603 162h1M616 162h1M99 163h2M103 163h1M110 163h1M126 163h3M154 163h1M593 163h1M601 163h1M606 163h1M618 163h1M104 164h1M106 164h1M127 164h1M135 164h1M148 164h1M150 164h2M165 164h1M580 164h1M583 164h1M589 164h1M600 164h1M604 164h1M619 164h2M114 165h1M120 165h1M132 165h1M136 165h1M139 165h1M143 165h1M157 165h1M165 165h1M579 165h1M588 165h1M605 165h1M616 165h1M618 165h2M115 166h1M130 166h1M147 166h1M160 166h1M162 166h1M583 166h2M610 166h1M613 166h1M616 166h1M619 166h1M621 166h1M131 167h1M158 167h1M578 167h1M585 167h3M590 167h1M597 167h1M601 167h2M606 167h3M619 167h1M105 168h1M115 168h1M130 168h1M139 168h1M147 168h1M154 168h1M159 168h1M163 168h1M581 168h1M592 168h1M599 168h4M613 168h1M619 168h1M115 169h1M130 169h2M149 169h1M151 169h2M162 169h2M584 169h1M600 169h1M603 169h1M609 169h1M613 169h1M620 169h1M105 170h1M112 170h1M133 170h2M150 170h1M154 170h2M157 170h1M162 170h1M584 170h1M596 170h1M602 170h3M612 170h1M618 170h1M124 171h1M127 171h1M132 171h1M136 171h1M139 171h1M142 171h1M157 171h2M585 171h1M590 171h1M603 171h1M609 171h1M614 171h1M127 172h1M149 172h1M580 172h1M590 172h1M593 172h1M605 172h1M607 172h1M614 172h1M102 173h1M137 173h1M143 173h1M153 173h2M595 173h1M606 173h1M608 173h1M611 173h1M617 173h1M621 173h1M107 174h1M128 174h1M133 174h1M135 174h1M155 174h1M581 174h1M591 174h1M595 174h1M602 174h1M611 174h1M122 175h1M129 175h1M133 175h1M141 175h1M143 175h1M152 175h1M581 175h1M583 175h1M585 175h1M594 175h1M608 175h1M618 175h1M620 175h1M110 176h1M119 176h1M129 176h1M141 176h1M145 176h1M581 176h2M592 176h1M611 176h1M614 176h1M105 177h1M111 177h1M128 177h1M138 177h1M590 177h1M596 177h1M599 177h1M611 177h1M619 177h1M127 178h1M583 178h3M593 178h1M598 178h1M602 178h1M616 178h1M106 179h1M110 179h1M129 179h1M139 179h1M585 179h1M588 179h1M590 179h1M592 179h1M596 179h1M609 179h1M612 179h1M615 179h1M107 180h1M584 180h2M601 180h1M610 180h2M613 180h1M139 181h1M588 181h1M609 181h1M111 182h1M115 182h1M123 182h1M586 182h1M592 182h1M594 182h1M600 182h1M606 182h2M615 182h1M592 183h1M599 183h1M608 183h1M615 183h1M135 184h1M139 184h1M141 184h1M595 184h1M598 184h3M603 184h2M612 184h1M138 185h1M588 185h1M591 185h1M604 185h1M133 186h1M135 186h1M600 186h1M135 187h1M138 187h2M141 187h1M596 187h1M601 187h1M604 187h1M610 187h1M137 188h1M594 188h1M596 188h1M600 188h1M608 188h1M140 189h1M596 189h1M599 189h1M604 189h1M607 189h1M139 190h1M596 190h1M598 190h1M602 190h2M605 190h1M596 191h1M136 192h1M601 192h1M275 205h1M754 219h1M291 220h1M752 221h1M204 222h1M293 222h1M286 223h1M289 223h1M675 223h1M681 223h1M201 224h1M213 224h1M216 224h1M286 225h1M647 225h1M202 226h1M217 226h1M296 226h1M268 227h1M191 228h1M204 228h1M210 228h1M272 228h1M295 228h2M643 228h1M752 228h1M187 229h1M269 229h1M288 229h1M670 229h2M726 229h1M750 229h1M752 229h1M187 230h1M193 230h2M197 230h1M262 230h1M265 230h1M269 230h1M277 230h2M281 230h1M666 230h2M670 230h1M675 230h2M738 230h2M746 230h1M756 230h1M758 230h1M183 231h1M190 231h1M197 231h1M210 231h1M220 231h1M270 231h1M273 231h1M278 231h2M297 231h1M660 231h1M662 231h2M670 231h1M675 231h2M681 231h1M737 231h1M742 231h1M746 231h2M750 231h1M757 231h1M760 231h1M184 232h1M188 232h1M190 232h1M192 232h1M199 232h1M202 232h1M229 232h1M265 232h1M281 232h1M283 232h1M660 232h2M663 232h1M666 232h4M675 232h1M728 232h1M736 232h1M741 232h1M743 232h2M750 232h1M752 232h1M756 232h1M184 233h1M188 233h2M192 233h1M231 233h1M259 233h1M273 233h1M278 233h1M282 233h1M659 233h2M668 233h2M674 233h1M681 233h1M737 233h1M739 233h1M747 233h1M752 233h1M759 233h1M183 234h1M186 234h1M195 234h1M201 234h1M257 234h1M265 234h1M282 234h1M666 234h2M671 234h1M674 234h1M677 234h2M739 234h1M751 234h1M756 234h1M184 235h1M189 235h1M195 235h1M199 235h2M207 235h1M258 235h1M261 235h1M264 235h1M267 235h1M271 235h1M273 235h1M283 235h1M662 235h2M666 235h1M668 235h1M674 235h1M683 235h1M741 235h2M746 235h1M751 235h1M757 235h1M760 235h1M182 236h1M187 236h1M201 236h1M256 236h1M259 236h3M267 236h1M270 236h1M275 236h1M285 236h1M659 236h1M664 236h1M675 236h1M679 236h1M737 236h1M743 236h1M761 236h1M192 237h1M194 237h1M196 237h2M201 237h1M257 237h2M268 237h1M278 237h1M281 237h1M287 237h1M304 237h1M658 237h1M660 237h1M662 237h1M671 237h1M675 237h1M681 237h1M683 237h1M744 237h1M749 237h1M759 237h1M182 238h1M188 238h1M191 238h1M207 238h1M210 238h1M256 238h1M269 238h1M272 238h1M283 238h1M286 238h1M657 238h2M665 238h1M676 238h1M682 238h1M747 238h1M750 238h2M760 238h1M180 239h1M184 239h1M193 239h1M196 239h1M202 239h1M219 239h1M258 239h2M261 239h1M266 239h1M269 239h1M278 239h1M280 239h2M294 239h1M666 239h1M669 239h1M675 239h1M682 239h1M740 239h1M749 239h1M751 239h1M753 239h3M758 239h1M763 239h1M770 239h1M185 240h1M190 240h2M200 240h1M202 240h2M206 240h1M216 240h1M232 240h1M256 240h1M259 240h1M265 240h1M268 240h2M272 240h1M277 240h1M286 240h1M656 240h1M666 240h1M668 240h2M674 240h1M679 240h1M681 240h1M735 240h2M740 240h1M742 240h1M745 240h1M753 240h1M763 240h1M767 240h1M770 240h1M772 240h1M179 241h1M181 241h1M183 241h1M185 241h1M193 241h1M198 241h2M258 241h1M260 241h1M266 241h1M273 241h3M661 241h1M664 241h1M677 241h2M693 241h1M749 241h1M751 241h1M755 241h1M757 241h2M767 241h2M771 241h1M176 242h2M196 242h1M203 242h1M258 242h1M260 242h1M263 242h1M266 242h1M276 242h2M279 242h1M281 242h2M670 242h1M676 242h1M678 242h1M683 242h1M685 242h1M688 242h1M697 242h1M738 242h1M742 242h1M745 242h1M750 242h1M752 242h1M756 242h1M761 242h1M763 242h1M769 242h2M774 242h1M186 243h1M189 243h1M193 243h1M204 243h1M206 243h1M243 243h1M254 243h1M258 243h1M261 243h1M264 243h2M267 243h2M271 243h2M278 243h1M285 243h1M289 243h1M304 243h1M319 243h1M660 243h1M665 243h1M681 243h1M683 243h1M691 243h1M697 243h1M736 243h1M746 243h2M749 243h1M751 243h1M754 243h1M757 243h1M767 243h1M198 244h1M203 244h2M211 244h1M254 244h2M261 244h1M265 244h1M267 244h1M274 244h1M285 244h1M663 244h1M670 244h1M682 244h1M684 244h1M688 244h1M696 244h1M735 244h1M740 244h1M749 244h1M751 244h2M770 244h1M180 245h1M191 245h1M195 245h1M214 245h1M254 245h1M258 245h2M262 245h1M268 245h1M270 245h1M273 245h1M279 245h1M281 245h1M657 245h2M662 245h2M673 245h1M681 245h1M684 245h2M690 245h1M694 245h1M736 245h1M738 245h1M741 245h1M751 245h1M761 245h1M766 245h1M774 245h3M181 246h1M185 246h1M197 246h1M204 246h1M243 246h1M260 246h1M265 246h1M268 246h1M271 246h1M273 246h1M287 246h1M658 246h1M660 246h1M670 246h1M673 246h1M675 246h1M685 246h1M687 246h1M699 246h1M742 246h3M751 246h1M755 246h1M761 246h1M768 246h1M771 246h1M186 247h1M191 247h1M196 247h1M202 247h1M205 247h1M207 247h1M235 247h1M243 247h1M254 247h2M267 247h1M658 247h1M665 247h2M671 247h2M676 247h2M679 247h2M686 247h1M689 247h1M691 247h1M736 247h2M745 247h1M748 247h1M750 247h1M754 247h2M757 247h2M760 247h1M762 247h1M765 247h1M768 247h1M776 247h1M177 248h1M190 248h1M193 248h1M196 248h2M201 248h1M212 248h1M232 248h1M265 248h1M275 248h3M305 248h1M664 248h1M667 248h1M677 248h1M679 248h1M683 248h1M685 248h1M687 248h1M692 248h1M697 248h1M699 248h3M737 248h1M757 248h1M763 248h1M765 248h1M776 248h1M778 248h1M180 249h1M197 249h1M264 249h1M276 249h1M278 249h2M281 249h1M286 249h2M661 249h2M675 249h1M688 249h1M693 249h1M697 249h1M737 249h1M757 249h1M771 249h1M773 249h2M777 249h1M183 250h1M191 250h2M194 250h1M200 250h1M206 250h2M257 250h2M268 250h1M287 250h2M661 250h2M673 250h1M683 250h2M687 250h1M691 250h1M695 250h1M698 250h3M743 250h1M748 250h1M763 250h1M771 250h1M177 251h1M185 251h1M194 251h1M200 251h1M206 251h2M255 251h1M258 251h2M266 251h1M268 251h1M277 251h1M281 251h1M285 251h1M660 251h1M668 251h1M675 251h1M687 251h1M690 251h1M694 251h2M700 251h1M745 251h2M750 251h1M752 251h1M754 251h1M770 251h1M180 252h1M188 252h1M193 252h2M199 252h1M209 252h1M257 252h1M259 252h1M266 252h1M268 252h1M281 252h2M284 252h1M661 252h1M663 252h1M681 252h1M693 252h1M738 252h1M740 252h1M744 252h2M750 252h1M756 252h1M758 252h2M771 252h1M775 252h1M777 252h1M176 253h1M182 253h1M190 253h2M256 253h1M261 253h1M269 253h1M272 253h1M274 253h1M282 253h1M284 253h1M665 253h1M667 253h1M671 253h1M673 253h1M675 253h2M678 253h1M684 253h1M690 253h5M743 253h1M745 253h1M752 253h1M773 253h1M179 254h1M191 254h1M196 254h1M199 254h1M206 254h1M263 254h1M276 254h1M282 254h1M665 254h1M671 254h1M695 254h1M742 254h1M750 254h1M753 254h1M759 254h2M771 254h1M775 254h2M177 255h1M184 255h2M189 255h1M193 255h1M196 255h3M202 255h1M205 255h1M208 255h1M258 255h1M265 255h2M272 255h2M275 255h1M279 255h1M286 255h1M666 255h2M669 255h1M675 255h2M687 255h1M694 255h1M696 255h1M752 255h1M754 255h2M758 255h2M762 255h1M766 255h1M768 255h3M772 255h1M774 255h1M178 256h1M180 256h1M184 256h1M194 256h1M208 256h1M258 256h1M260 256h2M265 256h1M267 256h1M272 256h1M276 256h2M664 256h1M667 256h3M679 256h1M682 256h1M694 256h1M747 256h1M752 256h1M757 256h2M762 256h1M764 256h1M768 256h1M770 256h2M181 257h1M183 257h2M194 257h1M204 257h3M211 257h1M257 257h1M259 257h1M274 257h1M278 257h1M665 257h1M672 257h1M674 257h1M687 257h1M693 257h1M757 257h1M762 257h1M765 257h1M769 257h1M773 257h1M184 258h1M193 258h2M196 258h1M199 258h3M259 258h1M266 258h1M272 258h2M284 258h1M669 258h1M674 258h1M682 258h1M689 258h1M695 258h1M743 258h1M747 258h1M751 258h1M757 258h1M762 258h1M774 258h1M182 259h2M188 259h1M190 259h1M192 259h1M204 259h1M263 259h1M268 259h1M274 259h1M279 259h1M282 259h1M669 259h1M680 259h1M685 259h1M691 259h1M758 259h1M763 259h1M769 259h1M181 260h1M185 260h5M198 260h1M265 260h2M274 260h1M280 260h1M668 260h1M674 260h1M676 260h1M682 260h1M693 260h2M754 260h1M760 260h1M765 260h1M183 261h1M185 261h1M187 261h1M196 261h1M200 261h1M266 261h1M275 261h1M672 261h1M680 261h1M682 261h1M686 261h1M689 261h1M691 261h1M745 261h3M751 261h1M756 261h1M761 261h2M186 262h1M199 262h1M202 262h1M264 262h2M268 262h1M270 262h2M670 262h1M675 262h1M680 262h1M683 262h1M691 262h1M747 262h1M756 262h1M758 262h1M762 262h1M193 263h1M265 263h1M268 263h2M273 263h1M275 263h1M671 263h1M676 263h1M686 263h1M689 263h1M751 263h1M759 263h1M187 264h1M198 264h1M200 264h1M267 264h1M272 264h1M276 264h1M671 264h1M673 264h1M681 264h1M750 264h1M272 265h3M686 265h1M688 265h1M765 265h1M674 266h1M684 266h1M750 266h1M756 266h1M759 266h2M765 266h1M672 267h1M674 267h1M681 267h1M754 267h1M760 267h1M678 268h1M682 268h1M754 268h2M680 269h1" stroke="#f29090" stroke-width="1" fill="none"/>
<path d="M495 47h1M491 48h2M512 48h1M516 48h1M44 49h1M497 49h1M508 49h1M511 49h1M41 50h1M511 50h2M516 50h1M518 50h1M526 51h1M526 52h2M41 53h1M511 53h1M515 53h1M517 53h1M519 53h1M527 53h1M530 53h1M43 54h2M513 54h1M520 54h1M530 54h1M493 55h1M507 55h1M511 55h1M520 55h1M507 56h2M534 56h1M42 57h1M511 57h1M518 57h1M521 57h1M526 57h1M533 57h1M513 58h1M515 58h1M519 58h1M526 58h1M528 58h1M531 58h1M44 59h1M47 59h1M49 59h1M508 59h1M514 59h1M516 59h1M519 59h1M42 60h1M53 60h1M514 60h1M516 60h1M534 60h1M44 61h1M48 61h1M53 62h1M36 63h3M40 63h1M43 63h1M63 63h1M505 63h1M41 64h1M55 64h1M60 64h1M502 64h1M63 65h1M51 66h1M53 66h1M55 66h1M502 66h2M34 67h1M36 67h2M51 67h2M59 67h1M489 67h2M497 67h1M501 67h1M36 68h1M40 68h1M42 68h1M60 68h1M488 68h1M504 68h1M39 69h1M44 69h1M59 69h1M504 69h1M50 70h1M56 70h1M59 70h1M488 70h1M490 70h1M505 70h1M508 70h1M29 71h1M33 71h2M36 71h1M40 71h1M54 71h1M60 71h1M484 71h1M41 72h1M43 72h1M69 72h1M498 72h1M34 73h1M50 73h2M55 73h1M59 73h1M509 73h1M26 74h1M48 74h1M55 74h1M58 74h2M62 74h1M65 74h1M68 74h1M71 74h1M507 74h1M514 74h1M516 74h1M521 74h1M21 75h1M51 75h1M57 75h1M64 75h3M71 75h1M485 75h1M501 75h1M516 75h1M523 75h1M527 75h1M23 76h2M28 76h1M33 76h2M42 76h1M56 76h1M59 76h1M69 76h1M75 76h1M502 76h1M511 76h1M525 76h1M28 77h1M33 77h1M45 77h1M47 77h2M55 77h1M59 77h1M63 77h1M69 77h1M72 77h1M502 77h2M505 77h1M510 77h2M518 77h1M520 77h1M526 77h1M530 77h1M23 78h1M33 78h1M40 78h1M44 78h1M49 78h1M64 78h1M71 78h1M75 78h1M492 78h1M508 78h1M526 78h1M530 78h1M23 79h1M28 79h1M38 79h1M43 79h1M47 79h1M51 79h2M54 79h1M57 79h1M60 79h1M79 79h3M505 79h2M511 79h1M522 79h1M22 80h1M31 80h1M34 80h1M59 80h2M63 80h1M504 80h1M509 80h1M513 80h1M525 80h1M22 81h1M27 81h1M32 81h1M39 81h2M45 81h3M51 81h1M62 81h1M64 81h1M74 81h1M523 81h2M526 81h1M535 81h1M28 82h1M36 82h1M46 82h1M49 82h3M54 82h2M62 82h2M69 82h1M71 82h1M86 82h1M509 82h1M515 82h1M527 82h1M22 83h1M44 83h1M56 83h1M83 83h1M85 83h2M500 83h1M507 83h1M510 83h2M514 83h1M529 83h1M531 83h1M20 84h2M23 84h1M31 84h1M49 84h1M52 84h2M61 84h1M64 84h1M74 84h1M80 84h1M479 84h2M509 84h1M518 84h1M534 84h1M28 85h2M38 85h1M46 85h1M49 85h1M61 85h1M64 85h1M69 85h1M476 85h2M480 85h2M483 85h1M506 85h1M524 85h1M530 85h1M535 85h1M27 86h1M29 86h1M59 86h2M80 86h1M502 86h1M505 86h1M512 86h1M516 86h1M22 87h1M25 87h1M29 87h1M33 87h2M39 87h3M48 87h1M51 87h1M56 87h2M65 87h1M71 87h1M75 87h1M83 87h2M475 87h1M510 87h1M513 87h1M523 87h1M531 87h1M19 88h1M21 88h1M24 88h1M30 88h1M33 88h1M44 88h1M52 88h1M55 88h1M59 88h1M87 88h2M485 88h1M523 88h1M529 88h1M531 88h2M537 88h1M542 88h1M20 89h1M25 89h1M29 89h1M53 89h1M59 89h1M70 89h1M74 89h1M81 89h1M479 89h1M482 89h1M514 89h1M521 89h1M525 89h1M29 90h1M33 90h1M36 90h1M43 90h2M56 90h1M71 90h2M79 90h1M481 90h2M487 90h1M511 90h1M23 91h2M35 91h1M55 91h3M80 91h1M82 91h1M87 91h1M478 91h1M485 91h1M517 91h1M529 91h1M535 91h2M540 91h1M34 92h1M38 92h1M42 92h1M49 92h1M54 92h1M61 92h1M69 92h1M76 92h1M85 92h1M478 92h1M481 92h1M505 92h1M517 92h1M527 92h1M543 92h1M29 93h1M39 93h1M50 93h1M58 93h2M71 93h1M77 93h1M82 93h1M483 93h2M515 93h1M525 93h1M21 94h1M33 94h1M52 94h1M55 94h1M57 94h1M61 94h2M84 94h1M482 94h1M505 94h1M534 94h1M543 94h1M26 95h1M31 95h1M37 95h1M45 95h1M55 95h2M63 95h1M81 95h1M84 95h1M483 95h1M518 95h3M540 95h1M544 95h1M38 96h2M43 96h1M48 96h1M53 96h1M56 96h2M503 96h1M505 96h1M515 96h1M519 96h1M539 96h1M21 97h1M35 97h1M56 97h1M61 97h1M504 97h1M510 97h1M22 98h1M26 98h1M45 98h1M60 98h1M503 98h1M507 98h1M513 98h1M523 98h2M535 98h1M20 99h1M37 99h1M54 99h3M58 99h1M503 99h1M520 99h1M532 99h1M538 99h1M542 99h1M25 100h1M29 100h1M46 100h1M56 100h1M59 100h3M507 100h1M518 100h1M521 100h1M530 100h2M22 101h1M30 101h3M46 101h1M52 101h1M55 101h1M58 101h1M60 101h1M514 101h1M31 102h1M505 102h1M508 102h1M510 102h1M527 102h1M530 102h1M537 102h1M26 103h1M32 103h1M46 103h1M58 103h1M507 103h1M509 103h1M511 103h1M513 103h1M521 103h1M529 103h1M538 103h1M22 104h2M26 104h1M33 104h1M37 104h1M45 104h1M50 104h1M58 104h1M60 104h1M514 104h1M516 104h1M520 104h2M530 104h1M25 105h1M39 105h1M42 105h1M59 105h1M508 105h1M511 105h1M530 105h1M535 105h1M24 106h1M33 106h1M37 106h1M44 106h1M511 106h1M513 106h1M515 106h1M517 106h1M521 106h1M532 106h1M25 107h1M45 107h1M61 107h1M528 107h1M532 107h2M46 108h1M59 108h3M512 108h2M517 108h1M27 109h1M37 109h1M516 109h1M524 109h1M526 109h1M30 110h1M39 110h1M56 110h1M58 110h1M517 110h1M33 111h1M37 111h2M43 111h1M52 111h1M61 111h1M515 111h1M520 111h1M530 111h1M31 112h1M33 112h1M55 112h1M58 112h1M520 112h1M526 112h1M57 113h1M521 113h1M524 113h2M528 113h1M57 114h1M525 114h1M523 116h1M572 124h1M589 124h1M588 125h1M595 125h1M125 126h1M568 126h2M126 127h1M597 127h2M570 128h1M573 128h1M586 128h1M608 128h1M575 129h1M587 129h1M591 129h1M604 129h2M612 129h1M123 130h4M590 130h1M594 130h1M121 131h1M571 131h1M598 131h1M598 132h1M120 133h1M588 133h1M590 133h1M124 134h1M598 134h1M609 134h1M119 135h1M121 135h1M592 135h1M605 135h1M608 135h1M123 136h1M125 136h2M586 136h1M594 136h1M603 136h1M610 136h1M121 138h1M129 138h1M575 138h1M578 138h1M587 138h1M595 138h1M609 138h1M121 139h1M130 139h2M583 139h1M590 139h1M594 139h1M119 140h2M122 140h1M580 140h1M583 140h1M126 141h2M131 141h1M584 141h1M118 142h1M126 142h1M577 142h2M580 142h1M586 142h1M124 143h1M128 143h1M123 144h1M125 144h1M137 144h2M582 144h1M119 145h1M560 145h1M116 146h1M118 146h1M130 146h1M136 146h1M129 147h1M130 148h1M145 148h1M564 148h1M137 149h1M146 149h1M125 150h1M142 150h2M145 150h1M567 150h1M589 150h1M125 151h1M128 151h1M132 151h1M134 151h1M566 151h1M600 151h1M107 152h1M109 152h1M112 152h1M121 152h1M123 152h1M127 152h1M133 152h1M137 152h1M140 152h1M147 152h1M149 152h1M151 152h1M563 152h1M568 152h2M572 152h1M584 152h1M601 152h1M109 153h1M119 153h1M121 153h1M133 153h1M145 153h1M573 153h1M588 153h2M597 153h1M106 154h1M115 154h2M135 154h1M137 154h2M563 154h1M567 154h1M569 154h1M587 154h1M592 154h1M596 154h1M602 154h1M106 155h1M114 155h1M118 155h2M138 155h1M141 155h1M152 155h1M578 155h1M597 155h1M610 155h1M110 156h1M117 156h1M127 156h1M129 156h1M132 156h1M153 156h1M566 156h1M581 156h1M598 156h1M601 156h2M104 157h1M119 157h1M130 157h1M138 157h1M150 157h1M582 157h1M585 157h1M590 157h1M598 157h1M114 158h3M124 158h1M136 158h1M140 158h1M142 158h1M146 158h1M155 158h1M583 158h1M588 158h2M592 158h1M594 158h2M103 159h1M110 159h1M118 159h1M126 159h1M129 159h1M150 159h1M152 159h1M154 159h1M582 159h1M598 159h1M605 159h1M119 160h1M128 160h1M136 160h1M141 160h1M144 160h1M152 160h1M578 160h1M598 160h1M605 160h1M610 160h1M616 160h1M100 161h2M103 161h1M108 161h1M114 161h2M118 161h1M148 161h1M151 161h1M153 161h1M558 161h1M580 161h1M589 161h1M594 161h1M603 161h1M609 161h1M617 161h1M99 162h1M106 162h1M111 162h1M116 162h1M119 162h1M134 162h1M146 162h1M150 162h2M161 162h2M563 162h2M583 162h1M590 162h1M599 162h1M608 162h2M618 162h1M115 163h1M124 163h2M130 163h2M140 163h1M151 163h1M160 163h1M164 163h1M166 163h1M563 163h1M577 163h1M581 163h1M591 163h1M608 163h1M109 164h1M114 164h1M123 164h2M129 164h1M561 164h1M579 164h1M585 164h1M591 164h1M603 164h1M100 165h1M102 165h1M105 165h1M109 165h1M140 165h1M145 165h1M153 165h1M162 165h1M562 165h1M564 165h1M589 165h1M595 165h1M598 165h1M606 165h1M613 165h1M621 165h1M99 166h1M102 166h1M107 166h1M112 166h2M149 166h1M154 166h1M163 166h1M578 166h1M596 166h1M615 166h1M104 167h1M108 167h1M114 167h1M129 167h1M147 167h1M156 167h1M556 167h1M582 167h1M588 167h1M593 167h1M603 167h1M605 167h1M609 167h2M616 167h1M104 168h1M119 168h1M128 168h1M131 168h1M142 168h1M153 168h1M157 168h1M164 168h1M565 168h2M580 168h1M587 168h2M598 168h1M605 168h1M105 169h1M135 169h1M142 169h1M157 169h1M560 169h2M580 169h1M595 169h1M605 169h1M612 169h1M615 169h1M619 169h1M103 170h1M111 170h1M113 170h1M119 170h1M122 170h1M131 170h1M138 170h1M141 170h1M153 170h1M562 170h1M564 170h1M580 170h2M585 170h1M589 170h1M591 170h1M599 170h1M608 170h2M621 170h1M103 171h1M112 171h1M120 171h1M129 171h1M135 171h1M154 171h1M156 171h1M159 171h1M556 171h1M558 171h1M562 171h1M582 171h2M589 171h1M98 172h1M104 172h1M106 172h1M128 172h1M130 172h1M140 172h1M144 172h1M154 172h1M585 172h2M595 172h1M597 172h1M604 172h1M616 172h1M98 173h1M105 173h1M119 173h1M140 173h1M147 173h1M150 173h1M583 173h1M593 173h1M598 173h1M616 173h1M100 174h1M102 174h1M105 174h1M108 174h1M131 174h1M137 174h1M582 174h1M585 174h2M594 174h1M612 174h1M105 175h1M112 175h1M119 175h1M138 175h1M147 175h1M617 175h1M619 175h1M102 176h1M115 176h1M117 176h1M146 176h1M588 176h1M602 176h1M613 176h1M620 176h1M98 177h1M107 177h1M113 177h1M120 177h1M126 177h1M131 177h1M137 177h1M583 177h1M613 177h1M103 178h1M109 178h1M122 178h1M128 178h1M135 178h1M137 178h1M142 178h1M591 178h1M601 178h1M615 178h1M103 179h3M127 179h1M130 179h2M135 179h1M593 179h1M601 179h2M605 179h1M614 179h1M101 180h2M104 180h1M115 180h1M118 180h1M122 180h2M128 180h1M135 180h1M138 180h1M587 180h1M592 180h1M604 180h1M606 180h1M106 181h1M110 181h1M115 181h1M118 181h1M135 181h1M137 181h1M586 181h1M589 181h1M591 181h1M598 181h2M605 181h2M610 181h1M106 182h1M110 182h1M140 182h1M601 182h1M603 182h1M613 182h1M120 183h1M123 183h1M594 183h1M610 183h1M614 183h1M116 184h1M118 184h1M121 184h2M134 184h1M140 184h1M108 185h1M114 185h1M117 185h1M141 185h1M119 186h1M121 186h1M134 186h1M137 186h2M593 186h1M598 186h1M609 186h1M116 187h1M140 187h1M602 187h1M133 188h1M138 188h1M140 188h1M595 189h1M608 190h1M598 191h1M730 201h1M750 201h1M674 202h2M650 203h1M652 203h1M672 203h1M730 203h1M743 203h1M748 203h1M752 203h1M764 203h1M668 204h1M672 204h1M746 204h1M750 204h2M766 204h1M199 205h1M646 205h1M685 205h1M688 205h1M198 206h2M668 206h1M674 206h1M727 206h1M196 207h1M280 207h1M663 207h1M670 207h1M768 207h1M671 208h1M673 208h1M686 208h1M744 209h1M749 209h1M751 209h2M276 210h3M669 210h1M677 210h1M742 210h1M749 210h1M765 210h1M198 211h1M280 211h2M675 211h1M684 211h1M690 211h1M744 211h1M768 211h1M197 212h2M201 212h1M277 212h1M745 212h1M667 213h2M684 213h1M280 214h1M690 214h1M764 214h1M201 215h1M276 215h1M283 215h1M288 215h2M660 215h1M670 215h1M684 215h1M208 216h1M215 216h1M741 216h1M210 217h1M735 217h1M750 217h1M214 218h1M286 218h1M655 218h1M657 218h1M206 219h1M208 219h1M284 219h1M654 219h1M660 219h1M673 219h1M680 219h1M211 220h1M295 220h1M674 220h1M734 220h1M739 220h2M201 221h1M204 221h1M290 221h1M654 221h1M657 221h1M662 221h1M735 221h1M756 221h1M199 222h2M202 222h1M205 222h1M211 222h1M279 222h1M642 222h1M658 222h2M725 222h2M735 222h1M753 222h1M201 223h2M204 223h1M217 223h1M285 223h1M288 223h1M660 223h1M740 223h1M759 223h1M206 224h1M209 224h2M282 224h2M286 224h1M638 224h1M650 224h1M718 224h1M200 225h1M212 225h1M215 225h1M281 225h1M285 225h1M723 225h1M200 226h1M205 226h1M207 226h1M210 226h1M219 226h1M281 226h2M285 226h1M289 226h2M297 226h1M207 227h2M217 227h1M270 227h1M281 227h1M286 227h1M289 227h1M206 228h4M214 228h1M266 228h1M276 228h3M284 228h2M287 228h1M289 228h1M294 228h1M728 228h1M742 228h1M744 228h1M196 229h1M218 229h2M261 229h1M264 229h2M268 229h1M276 229h1M280 229h1M283 229h2M286 229h1M292 229h1M294 229h1M675 229h1M724 229h1M746 229h1M749 229h1M756 229h1M191 230h2M208 230h1M210 230h1M214 230h2M218 230h3M230 230h1M267 230h2M273 230h1M287 230h1M293 230h1M641 230h1M673 230h1M749 230h1M759 230h1M186 231h1M200 231h2M204 231h1M206 231h1M211 231h1M218 231h2M223 231h1M226 231h1M283 231h1M287 231h1M292 231h1M294 231h1M298 231h1M648 231h1M668 231h1M721 231h1M727 231h1M751 231h1M204 232h1M263 232h1M268 232h1M271 232h1M646 232h1M651 232h1M671 232h1M673 232h1M717 232h1M212 233h2M218 233h1M230 233h1M235 233h1M260 233h1M262 233h1M276 233h1M290 233h1M297 233h1M678 233h1M680 233h1M741 233h1M743 233h1M745 233h1M750 233h1M753 233h1M192 234h2M197 234h1M203 234h1M207 234h2M211 234h1M213 234h1M221 234h1M230 234h1M238 234h1M272 234h1M285 234h1M293 234h1M308 234h4M660 234h1M682 234h1M718 234h2M729 234h1M740 234h1M180 235h1M183 235h1M185 235h1M214 235h1M216 235h1M236 235h1M263 235h1M277 235h1M294 235h1M296 235h1M300 235h1M302 235h1M304 235h1M312 235h1M669 235h1M671 235h1M679 235h1M737 235h1M748 235h2M755 235h1M188 236h1M195 236h1M203 236h1M209 236h1M217 236h1M219 236h1M276 236h1M278 236h2M286 236h1M289 236h1M296 236h2M300 236h2M314 236h1M683 236h1M753 236h1M760 236h1M182 237h1M210 237h1M216 237h1M219 237h2M225 237h1M230 237h1M239 237h1M265 237h1M284 237h1M290 237h1M295 237h1M300 237h1M311 237h1M313 237h1M316 237h1M664 237h1M674 237h1M735 237h1M745 237h1M185 238h1M203 238h1M212 238h1M215 238h1M219 238h1M222 238h1M224 238h1M238 238h1M255 238h1M260 238h1M274 238h1M285 238h1M287 238h3M296 238h1M307 238h1M309 238h1M672 238h1M714 238h2M737 238h1M745 238h1M754 238h1M177 239h1M191 239h1M207 239h1M211 239h1M218 239h1M221 239h1M244 239h1M263 239h1M268 239h1M293 239h1M295 239h1M308 239h1M314 239h1M317 239h1M319 239h1M639 239h1M642 239h1M658 239h1M734 239h1M746 239h1M752 239h1M199 240h1M205 240h1M212 240h4M218 240h1M223 240h1M225 240h1M234 240h1M255 240h1M271 240h1M285 240h1M289 240h2M297 240h1M305 240h1M638 240h3M660 240h1M664 240h1M667 240h1M680 240h1M714 240h1M747 240h1M756 240h1M758 240h1M760 240h1M762 240h1M189 241h1M192 241h1M206 241h1M217 241h1M233 241h1M237 241h1M257 241h1M278 241h1M280 241h1M285 241h1M289 241h1M291 241h1M305 241h1M319 241h1M644 241h1M659 241h1M666 241h1M675 241h1M692 241h1M711 241h2M743 241h1M753 241h1M187 242h1M192 242h1M194 242h1M198 242h1M201 242h1M208 242h1M210 242h1M215 242h1M217 242h2M228 242h1M230 242h1M238 242h1M243 242h1M262 242h1M283 242h1M294 242h1M297 242h1M301 242h1M319 242h1M637 242h2M657 242h1M659 242h1M664 242h1M672 242h1M693 242h1M714 242h1M737 242h1M744 242h1M772 242h1M182 243h1M190 243h1M209 243h2M216 243h1M222 243h1M229 243h1M279 243h1M296 243h2M312 243h1M641 243h2M682 243h1M715 243h2M737 243h1M755 243h1M759 243h1M768 243h1M774 243h1M179 244h1M182 244h1M190 244h1M210 244h1M212 244h1M215 244h1M218 244h1M238 244h1M259 244h1M269 244h1M276 244h2M282 244h1M292 244h1M294 244h1M297 244h1M301 244h3M305 244h1M307 244h1M316 244h1M322 244h1M634 244h1M636 244h1M662 244h1M679 244h1M697 244h1M713 244h1M746 244h1M765 244h1M775 244h1M176 245h1M181 245h2M192 245h1M202 245h2M212 245h1M223 245h1M234 245h3M261 245h1M288 245h2M293 245h1M296 245h1M302 245h1M323 245h1M638 245h1M668 245h1M672 245h1M698 245h1M713 245h1M715 245h1M720 245h1M748 245h1M773 245h1M176 246h1M213 246h1M226 246h1M232 246h1M237 246h1M240 246h2M262 246h1M270 246h1M294 246h1M296 246h1M301 246h1M314 246h1M316 246h1M668 246h1M745 246h1M749 246h1M752 246h1M762 246h1M765 246h1M774 246h1M776 246h2M176 247h1M178 247h1M182 247h2M189 247h1M201 247h1M206 247h1M209 247h1M216 247h1M258 247h1M272 247h1M280 247h1M288 247h1M669 247h1M738 247h1M763 247h2M774 247h1M185 248h1M189 248h1M192 248h1M208 248h1M219 248h1M228 248h1M231 248h1M256 248h2M283 248h1M312 248h1M314 248h1M316 248h1M659 248h1M680 248h1M694 248h2M753 248h2M762 248h1M182 249h1M189 249h1M198 249h1M211 249h1M215 249h1M220 249h1M228 249h2M239 249h1M270 249h1M293 249h1M311 249h1M316 249h1M679 249h1M694 249h2M741 249h2M745 249h1M758 249h1M760 249h1M770 249h1M179 250h1M189 250h1M197 250h1M205 250h1M214 250h1M238 250h1M263 250h1M278 250h1M286 250h1M289 250h1M292 250h1M321 250h1M681 250h1M686 250h1M694 250h1M740 250h1M749 250h1M753 250h1M756 250h1M760 250h1M181 251h1M190 251h1M193 251h1M212 251h1M214 251h1M236 251h1M261 251h1M263 251h2M283 251h1M291 251h2M315 251h1M317 251h1M669 251h1M671 251h1M676 251h1M680 251h1M682 251h1M753 251h1M759 251h1M767 251h1M769 251h1M778 251h1M183 252h1M191 252h2M203 252h1M206 252h1M213 252h1M235 252h1M255 252h1M265 252h1M270 252h1M272 252h1M286 252h1M289 252h3M293 252h1M665 252h1M748 252h1M178 253h1M192 253h1M205 253h1M262 253h1M281 253h1M288 253h1M290 253h1M664 253h1M666 253h1M756 253h2M764 253h2M185 254h1M195 254h1M207 254h2M288 254h1M664 254h1M675 254h1M680 254h1M685 254h1M752 254h1M764 254h1M768 254h1M772 254h1M774 254h1M178 255h1M190 255h1M203 255h1M210 255h2M219 255h1M259 255h2M267 255h1M277 255h1M285 255h1M300 255h1M695 255h1M767 255h1M771 255h1M776 255h1M195 256h1M200 256h1M204 256h1M270 256h1M285 256h1M288 256h1M672 256h1M677 256h1M687 256h1M693 256h1M749 256h1M765 256h1M186 257h1M188 257h1M196 257h1M198 257h1M201 257h1M209 257h1M221 257h1M270 257h1M287 257h1M289 257h1M668 257h1M682 257h1M697 257h1M742 257h1M751 257h1M764 257h1M768 257h1M181 258h1M183 258h1M195 258h1M198 258h1M205 258h1M258 258h1M267 258h1M298 258h1M696 258h1M748 258h2M760 258h1M184 259h1M191 259h1M198 259h1M210 259h1M220 259h1M266 259h1M271 259h1M288 259h1M674 259h1M682 259h1M690 259h1M746 259h2M770 259h1M774 259h1M271 260h1M289 260h1M678 260h1M690 260h1M750 260h1M753 260h1M198 261h1M217 261h1M262 261h1M288 261h1M748 261h1M754 261h1M758 261h1M766 261h1M768 261h1M772 261h1M191 262h1M212 262h1M269 262h1M291 262h1M668 262h1M682 262h1M689 262h1M748 262h1M752 262h1M195 263h1M277 263h1M190 264h1M215 264h1M217 264h1M220 264h1M295 264h1M678 264h1M687 264h1M758 264h1M193 265h1M213 265h1M292 265h1M762 265h1M764 265h1M293 266h1M675 266h2M758 266h1M213 267h1M215 267h1M220 267h1M289 267h1M293 267h1M296 267h2M676 267h1M684 267h1M686 267h1M763 267h1M675 268h1M756 268h1M296 269h1M214 270h2M295 270h1" stroke="#d9d9d9" stroke-width="1" fill="none"/>
<path d="M502 68h1M39 70h1M30 72h1M45 72h1M47 72h1M62 72h1M67 72h1M27 73h3M37 73h1M41 73h1M48 73h1M52 73h1M60 73h1M515 73h2M520 73h1M22 74h1M30 74h1M43 74h1M46 74h1M61 74h1M67 74h1M70 74h1M505 74h1M508 74h2M517 74h1M519 74h1M522 74h1M525 74h2M24 75h1M29 75h1M36 75h1M47 75h1M60 75h2M509 75h1M511 75h2M521 75h1M27 76h1M39 76h1M47 76h1M64 76h1M76 76h1M510 76h1M521 76h2M527 76h1M25 77h1M46 77h1M50 77h1M62 77h1M64 77h1M73 77h1M508 77h1M516 77h1M521 77h1M527 77h1M26 78h2M45 78h1M50 78h1M53 78h2M59 78h2M63 78h1M67 78h3M72 78h1M74 78h1M77 78h1M80 78h1M514 78h1M528 78h1M29 79h1M36 79h1M41 79h2M45 79h1M66 79h1M501 79h1M514 79h1M520 79h1M525 79h1M527 79h1M535 79h1M23 80h2M28 80h1M46 80h1M48 80h1M54 80h2M81 80h1M502 80h1M521 80h3M531 80h2M534 80h1M20 81h1M24 81h1M33 81h1M41 81h1M43 81h1M55 81h1M60 81h1M69 81h1M71 81h3M79 81h1M503 81h1M508 81h2M512 81h1M516 81h2M528 81h1M531 81h2M536 81h1M23 82h1M32 82h1M53 82h1M66 82h1M83 82h2M500 82h1M502 82h1M512 82h1M524 82h1M530 82h1M27 83h1M40 83h1M52 83h1M58 83h1M65 83h1M67 83h1M72 83h1M74 83h1M78 83h2M505 83h2M516 83h1M525 83h1M528 83h1M536 83h1M538 83h1M34 84h1M44 84h1M47 84h1M50 84h1M54 84h1M63 84h1M67 84h2M73 84h1M76 84h1M78 84h2M503 84h1M511 84h1M513 84h1M517 84h1M524 84h1M530 84h1M535 84h1M539 84h1M20 85h2M36 85h1M43 85h2M60 85h1M68 85h1M70 85h1M74 85h2M88 85h1M501 85h1M505 85h1M515 85h1M518 85h3M526 85h2M531 85h1M36 86h1M56 86h1M68 86h1M70 86h1M74 86h2M77 86h1M79 86h1M82 86h1M500 86h1M503 86h1M508 86h2M513 86h1M527 86h1M531 86h1M21 87h1M43 87h1M50 87h1M54 87h1M67 87h1M69 87h1M79 87h1M81 87h1M503 87h3M526 87h1M529 87h1M538 87h2M28 88h2M32 88h1M58 88h1M67 88h1M69 88h1M74 88h1M78 88h2M82 88h1M84 88h1M503 88h1M518 88h1M520 88h2M526 88h2M535 88h1M539 88h1M26 89h2M32 89h1M36 89h1M38 89h1M46 89h1M51 89h1M65 89h1M73 89h1M75 89h1M499 89h1M506 89h4M515 89h1M523 89h2M526 89h1M528 89h1M530 89h1M533 89h1M537 89h1M542 89h1M26 90h1M52 90h1M68 90h1M74 90h2M81 90h1M516 90h1M527 90h1M532 90h1M536 90h1M541 90h1M28 91h1M33 91h2M38 91h2M45 91h1M50 91h1M53 91h1M60 91h1M72 91h1M74 91h2M84 91h1M501 91h1M509 91h1M514 91h2M519 91h1M523 91h1M530 91h1M541 91h1M544 91h1M24 92h1M35 92h1M48 92h1M50 92h2M55 92h1M73 92h1M87 92h1M518 92h4M531 92h1M533 92h1M536 92h1M540 92h1M35 93h2M42 93h1M49 93h1M54 93h1M57 93h1M61 93h3M70 93h1M75 93h2M78 93h2M501 93h1M503 93h1M513 93h1M526 93h1M529 93h1M532 93h1M537 93h2M540 93h1M24 94h1M32 94h1M36 94h1M41 94h1M58 94h2M83 94h1M86 94h1M508 94h1M511 94h1M514 94h1M530 94h1M536 94h1M542 94h1M20 95h1M22 95h1M25 95h1M30 95h1M32 95h1M36 95h1M48 95h2M504 95h1M506 95h3M525 95h2M529 95h3M534 95h1M538 95h1M543 95h1M44 96h2M50 96h1M80 96h1M502 96h1M506 96h1M534 96h2M26 97h3M32 97h1M36 97h1M40 97h1M45 97h1M52 97h2M503 97h1M511 97h1M532 97h2M536 97h1M34 98h1M40 98h1M49 98h1M53 98h1M502 98h1M508 98h2M511 98h1M514 98h2M521 98h1M526 98h1M528 98h2M539 98h2M21 99h1M27 99h1M30 99h1M39 99h1M42 99h1M45 99h2M49 99h1M52 99h1M512 99h1M517 99h1M522 99h1M524 99h1M27 100h1M31 100h2M43 100h1M54 100h1M506 100h1M509 100h1M513 100h1M515 100h3M519 100h1M523 100h1M525 100h1M541 100h1M42 101h1M47 101h2M59 101h1M504 101h3M508 101h1M516 101h1M518 101h3M523 101h2M529 101h2M536 101h1M39 102h1M45 102h1M47 102h2M62 102h1M507 102h1M511 102h1M514 102h1M529 102h1M531 102h1M535 102h1M21 103h1M28 103h1M39 103h2M43 103h1M53 103h1M62 103h1M506 103h1M514 103h1M524 103h2M531 103h1M534 103h1M540 103h1M27 104h1M31 104h1M40 104h1M44 104h1M56 104h1M506 104h1M508 104h1M515 104h1M517 104h3M522 104h1M524 104h1M528 104h1M533 104h1M26 105h1M28 105h1M32 105h3M43 105h3M47 105h1M56 105h1M513 105h1M519 105h1M523 105h1M526 105h3M532 105h1M536 105h1M23 106h1M36 106h1M48 106h2M59 106h1M61 106h1M518 106h1M523 106h1M525 106h1M23 107h1M30 107h1M32 107h1M35 107h1M38 107h1M40 107h3M55 107h1M57 107h1M62 107h1M519 107h1M524 107h1M534 107h1M28 108h1M35 108h1M37 108h1M41 108h1M49 108h3M514 108h3M518 108h1M521 108h1M525 108h1M533 108h1M28 109h1M35 109h1M55 109h1M58 109h1M512 109h1M525 109h1M529 109h2M36 110h3M50 110h1M512 110h1M514 110h1M516 110h1M520 110h3M527 110h2M531 110h1M36 111h1M41 111h2M49 111h1M57 111h1M513 111h1M517 111h1M519 111h1M524 111h1M526 111h1M531 111h1M36 112h2M39 112h1M41 112h1M52 112h2M521 112h1M524 112h2M41 113h1M53 113h1M60 113h1M56 114h1M125 125h1M123 126h2M122 127h1M123 128h1M122 129h1M124 129h1M120 131h1M120 132h1M122 132h1M123 133h2M121 134h1M120 135h1M120 136h1M123 138h1M128 138h1M123 139h1M125 139h1M127 139h1M121 140h1M126 140h1M128 140h2M133 140h1M118 141h1M120 141h1M122 141h1M129 141h1M132 141h1M136 141h1M117 142h1M120 142h1M127 142h1M131 142h1M135 142h2M119 143h2M135 143h1M118 144h2M122 144h1M127 144h1M130 144h1M132 144h1M135 144h1M117 145h1M120 145h1M136 145h1M138 145h1M115 146h1M124 146h1M134 146h1M141 146h1M572 146h1M119 147h2M124 147h1M138 147h2M141 147h2M115 148h1M120 148h2M126 148h1M133 148h1M146 148h1M119 149h1M123 149h1M126 149h1M131 149h1M139 149h1M142 149h1M144 149h1M116 150h2M123 150h1M131 150h1M135 150h2M144 150h1M147 150h1M591 150h1M136 151h1M143 151h1M571 151h1M585 151h1M122 152h1M128 152h1M136 152h1M141 152h1M143 152h1M150 152h1M580 152h1M587 152h1M591 152h1M597 152h2M605 152h1M111 153h1M124 153h1M127 153h1M129 153h1M135 153h1M143 153h1M146 153h1M149 153h1M152 153h1M584 153h1M590 153h1M602 153h1M604 153h1M124 154h1M127 154h1M134 154h1M136 154h1M151 154h3M582 154h1M585 154h2M591 154h1M598 154h2M604 154h1M123 155h2M129 155h2M135 155h1M143 155h1M148 155h1M155 155h1M580 155h1M584 155h1M587 155h2M120 156h1M128 156h1M133 156h1M140 156h2M144 156h1M150 156h1M154 156h1M579 156h2M583 156h2M586 156h1M589 156h1M593 156h1M112 157h1M122 157h1M140 157h1M142 157h2M145 157h2M158 157h1M580 157h2M583 157h2M592 157h2M600 157h1M608 157h1M612 157h1M117 158h2M127 158h3M145 158h1M152 158h1M158 158h1M578 158h1M584 158h2M593 158h1M596 158h1M598 158h1M602 158h1M606 158h1M609 158h1M112 159h1M117 159h1M128 159h1M132 159h2M135 159h1M142 159h2M585 159h1M587 159h1M590 159h1M593 159h1M595 159h1M606 159h1M610 159h1M614 159h1M125 160h1M127 160h1M137 160h1M139 160h1M155 160h1M583 160h1M585 160h1M587 160h2M595 160h1M607 160h1M609 160h1M615 160h1M106 161h1M124 161h1M126 161h1M129 161h1M138 161h1M155 161h2M579 161h1M583 161h1M590 161h1M595 161h1M598 161h1M605 161h1M615 161h2M101 162h1M107 162h1M117 162h1M129 162h1M132 162h1M137 162h1M140 162h1M142 162h1M147 162h1M580 162h1M585 162h1M591 162h1M600 162h1M610 162h1M615 162h1M102 163h1M129 163h1M133 163h1M141 163h1M146 163h1M150 163h1M578 163h1M583 163h1M588 163h1M600 163h1M604 163h2M612 163h1M615 163h1M619 163h1M115 164h1M126 164h1M130 164h1M143 164h1M157 164h1M163 164h2M587 164h1M590 164h1M592 164h1M601 164h2M612 164h3M616 164h2M621 164h1M111 165h1M130 165h2M146 165h1M161 165h1M582 165h1M584 165h1M587 165h1M592 165h1M599 165h1M603 165h1M607 165h1M617 165h1M620 165h1M135 166h1M150 166h1M580 166h1M591 166h1M597 166h1M599 166h2M608 166h1M127 167h1M137 167h1M140 167h1M143 167h1M145 167h1M148 167h2M151 167h2M589 167h1M594 167h1M617 167h2M102 168h1M114 168h1M127 168h1M135 168h1M141 168h1M143 168h1M165 168h1M585 168h2M590 168h2M604 168h1M609 168h2M107 169h1M125 169h2M128 169h2M144 169h1M150 169h1M158 169h3M166 169h1M579 169h1M581 169h1M583 169h1M586 169h4M592 169h1M596 169h1M599 169h1M601 169h1M606 169h1M610 169h1M614 169h1M616 169h1M98 170h1M114 170h1M130 170h1M132 170h1M137 170h1M142 170h2M156 170h1M579 170h1M583 170h1M586 170h2M592 170h1M610 170h1M619 170h1M143 171h1M161 171h1M613 171h1M120 172h1M124 172h1M131 172h1M148 172h1M581 172h1M588 172h2M599 172h1M601 172h1M603 172h1M608 172h3M612 172h1M618 172h1M620 172h1M120 173h2M126 173h1M128 173h1M139 173h1M141 173h1M146 173h1M592 173h1M597 173h1M603 173h1M613 173h3M619 173h1M116 174h1M122 174h1M124 174h1M130 174h1M132 174h1M136 174h1M139 174h2M146 174h1M149 174h1M152 174h1M154 174h1M583 174h1M589 174h1M597 174h1M600 174h2M604 174h1M607 174h2M613 174h1M616 174h1M618 174h2M103 175h1M110 175h1M126 175h1M128 175h1M130 175h2M134 175h1M151 175h1M588 175h1M601 175h1M605 175h1M607 175h1M610 175h1M616 175h1M130 176h1M137 176h1M144 176h1M587 176h1M594 176h1M600 176h1M605 176h3M609 176h1M612 176h1M617 176h2M101 177h1M119 177h1M127 177h1M130 177h1M140 177h1M585 177h1M589 177h1M602 177h1M138 178h3M597 178h1M600 178h1M128 179h1M138 179h1M142 179h1M591 179h1M603 179h1M618 179h1M106 180h1M114 180h1M121 180h1M130 180h2M137 180h1M140 180h1M586 180h1M588 180h1M594 180h1M607 180h3M614 180h2M102 181h1M119 181h1M122 181h1M124 181h1M134 181h1M138 181h1M140 181h1M585 181h1M587 181h1M595 181h1M602 181h1M608 181h1M615 181h1M112 182h1M134 182h1M589 182h1M595 182h2M610 182h1M131 183h1M135 183h1M139 183h1M593 183h1M598 183h1M601 183h1M611 183h2M111 184h1M588 184h1M592 184h1M601 184h1M606 184h1M608 184h2M120 185h1M133 185h1M136 185h1M139 185h1M589 185h1M592 185h1M601 185h1M603 185h1M605 185h1M607 185h1M609 185h1M612 185h1M599 186h1M611 186h1M592 187h2M595 187h1M603 187h1M609 187h1M135 188h2M139 188h1M595 188h1M599 188h1M605 188h1M133 189h2M141 189h1M603 189h1M606 189h1M134 190h1M595 190h1M600 190h1M595 191h1M597 191h1M599 191h1M600 192h1M275 208h1M681 217h1M674 219h1M679 219h1M680 221h1M750 221h1M291 222h1M752 222h1M205 223h1M207 223h1M218 223h1M214 224h1M642 224h1M288 225h1M214 226h1M216 226h1M206 227h1M216 227h1M265 227h2M269 227h1M274 227h1M276 227h1M749 227h1M201 228h1M212 228h1M215 228h1M263 228h1M271 228h1M274 228h2M281 228h1M747 228h2M751 228h1M188 229h2M191 229h1M212 229h1M216 229h1M267 229h1M275 229h1M277 229h1M290 229h1M667 229h1M673 229h2M747 229h2M751 229h1M196 230h1M199 230h1M261 230h1M264 230h1M270 230h1M272 230h1M275 230h2M291 230h1M671 230h1M677 230h1M679 230h1M740 230h2M743 230h2M748 230h1M751 230h1M755 230h1M757 230h1M184 231h1M193 231h2M196 231h1M198 231h1M205 231h1M233 231h1M261 231h1M265 231h2M269 231h1M272 231h1M274 231h1M277 231h1M280 231h1M284 231h1M667 231h1M672 231h2M740 231h2M748 231h1M752 231h1M755 231h1M759 231h1M182 232h1M200 232h1M203 232h1M217 232h1M260 232h1M269 232h1M272 232h1M274 232h1M280 232h1M282 232h1M676 232h1M681 232h1M745 232h1M747 232h1M754 232h1M760 232h1M182 233h2M200 233h1M263 233h3M268 233h1M279 233h3M283 233h1M291 233h1M662 233h1M664 233h1M666 233h2M671 233h1M676 233h2M679 233h1M736 233h1M742 233h1M746 233h1M748 233h2M182 234h1M185 234h1M205 234h1M228 234h1M264 234h1M273 234h2M276 234h1M289 234h1M659 234h1M664 234h1M669 234h2M730 234h1M736 234h1M741 234h2M746 234h2M752 234h2M186 235h1M191 235h1M196 235h1M201 235h4M212 235h2M260 235h1M270 235h1M272 235h1M279 235h1M285 235h1M315 235h1M660 235h1M665 235h1M667 235h1M673 235h1M735 235h1M739 235h1M750 235h1M752 235h2M761 235h1M183 236h3M189 236h1M191 236h1M193 236h2M196 236h1M200 236h1M205 236h1M265 236h1M273 236h1M277 236h1M280 236h1M660 236h2M665 236h2M668 236h3M672 236h1M674 236h1M681 236h1M736 236h1M739 236h1M744 236h2M748 236h2M756 236h2M759 236h1M184 237h1M187 237h1M191 237h1M199 237h1M202 237h1M205 237h1M255 237h2M264 237h1M267 237h1M269 237h1M280 237h1M283 237h1M286 237h1M665 237h2M669 237h1M736 237h1M747 237h2M750 237h1M752 237h1M760 237h1M179 238h1M186 238h1M190 238h1M192 238h1M194 238h4M199 238h1M201 238h1M206 238h1M235 238h1M263 238h1M265 238h1M276 238h3M280 238h3M294 238h1M668 238h1M671 238h1M675 238h1M677 238h2M735 238h1M738 238h2M741 238h1M743 238h2M746 238h1M749 238h1M755 238h1M757 238h3M761 238h1M763 238h1M185 239h1M195 239h1M197 239h1M203 239h3M216 239h1M240 239h1M270 239h1M276 239h1M284 239h2M660 239h1M664 239h1M667 239h1M678 239h2M681 239h1M687 239h1M733 239h1M745 239h1M764 239h2M177 240h1M180 240h1M192 240h2M219 240h1M240 240h1M243 240h1M261 240h1M263 240h1M266 240h2M274 240h1M280 240h2M658 240h1M661 240h2M671 240h1M675 240h1M678 240h1M683 240h1M686 240h2M689 240h1M733 240h1M741 240h1M748 240h1M757 240h1M765 240h1M768 240h1M176 241h1M178 241h1M180 241h1M182 241h1M184 241h1M196 241h2M200 241h1M203 241h1M208 241h1M210 241h1M255 241h2M259 241h1M262 241h1M265 241h1M267 241h1M276 241h2M279 241h1M282 241h1M286 241h3M657 241h1M660 241h1M662 241h1M667 241h1M670 241h1M673 241h2M680 241h1M682 241h1M687 241h2M690 241h1M747 241h2M750 241h1M752 241h1M754 241h1M759 241h1M762 241h2M769 241h1M773 241h2M178 242h1M183 242h1M185 242h1M188 242h2M195 242h1M199 242h2M255 242h1M257 242h1M261 242h1M264 242h1M270 242h2M273 242h2M278 242h1M286 242h2M658 242h1M669 242h1M673 242h1M677 242h1M679 242h1M684 242h1M736 242h1M741 242h1M743 242h1M765 242h1M767 242h1M773 242h1M178 243h2M183 243h1M185 243h1M192 243h1M196 243h1M199 243h1M203 243h1M231 243h1M245 243h1M262 243h2M266 243h1M269 243h1M273 243h1M275 243h1M281 243h1M313 243h1M318 243h1M657 243h1M659 243h1M662 243h1M666 243h1M670 243h1M672 243h1M676 243h2M679 243h1M689 243h2M692 243h1M694 243h2M744 243h2M750 243h1M752 243h1M760 243h1M762 243h1M769 243h2M775 243h1M183 244h1M202 244h1M205 244h2M209 244h1M257 244h1M270 244h1M272 244h1M275 244h1M283 244h1M286 244h1M660 244h1M666 244h2M672 244h3M676 244h1M678 244h1M686 244h2M692 244h2M698 244h1M736 244h1M742 244h1M756 244h1M763 244h1M774 244h1M777 244h1M177 245h2M188 245h2M194 245h1M198 245h2M204 245h1M257 245h1M263 245h3M276 245h3M280 245h1M283 245h1M285 245h2M295 245h1M656 245h1M659 245h2M665 245h2M669 245h1M671 245h1M683 245h1M691 245h2M735 245h1M737 245h1M746 245h2M753 245h1M760 245h1M765 245h1M778 245h1M177 246h3M183 246h1M187 246h1M193 246h1M276 246h1M283 246h2M286 246h1M288 246h2M292 246h1M657 246h1M659 246h1M663 246h2M666 246h1M676 246h1M678 246h1M683 246h1M686 246h1M690 246h1M701 246h1M737 246h2M740 246h2M746 246h1M753 246h1M757 246h1M760 246h1M763 246h2M766 246h2M773 246h1M778 246h2M179 247h1M181 247h1M184 247h2M188 247h1M198 247h1M256 247h1M262 247h1M264 247h1M266 247h1M269 247h2M276 247h1M278 247h1M281 247h1M285 247h2M660 247h1M663 247h1M667 247h2M670 247h1M684 247h2M688 247h1M692 247h2M697 247h1M740 247h1M744 247h1M747 247h1M766 247h2M769 247h1M771 247h2M775 247h1M176 248h1M184 248h1M200 248h1M207 248h1M259 248h1M262 248h1M280 248h1M285 248h1M293 248h1M307 248h1M310 248h1M661 248h1M665 248h1M668 248h1M671 248h1M678 248h1M688 248h2M736 248h1M738 248h1M741 248h1M745 248h2M748 248h2M759 248h1M766 248h1M769 248h1M774 248h1M777 248h1M779 248h1M175 249h1M185 249h1M188 249h1M192 249h2M203 249h1M206 249h1M234 249h1M260 249h1M265 249h1M269 249h1M272 249h1M284 249h1M307 249h1M313 249h1M663 249h2M666 249h1M672 249h1M677 249h1M683 249h1M691 249h1M699 249h1M739 249h1M747 249h2M756 249h1M761 249h1M765 249h2M772 249h1M775 249h1M778 249h1M175 250h1M177 250h1M185 250h1M190 250h1M193 250h1M195 250h1M199 250h1M201 250h2M204 250h1M208 250h1M254 250h1M266 250h1M275 250h1M280 250h1M282 250h4M291 250h1M666 250h1M672 250h1M682 250h1M688 250h1M690 250h1M746 250h1M751 250h1M754 250h1M757 250h1M761 250h1M768 250h1M770 250h1M773 250h1M776 250h1M178 251h1M180 251h1M182 251h1M184 251h1M188 251h1M191 251h2M196 251h1M199 251h1M201 251h1M203 251h1M205 251h1M208 251h1M254 251h1M260 251h1M262 251h1M265 251h1M275 251h2M286 251h2M661 251h1M663 251h1M666 251h2M674 251h1M681 251h1M684 251h1M688 251h1M691 251h2M738 251h1M742 251h1M760 251h2M764 251h1M768 251h1M771 251h2M774 251h1M178 252h1M185 252h2M198 252h1M205 252h1M256 252h1M258 252h1M260 252h3M274 252h1M276 252h1M278 252h2M283 252h1M285 252h1M288 252h1M660 252h1M667 252h2M682 252h1M685 252h1M687 252h4M695 252h1M743 252h1M753 252h1M774 252h1M177 253h1M181 253h1M187 253h1M189 253h1M193 253h2M196 253h1M201 253h1M203 253h1M207 253h1M210 253h1M257 253h1M260 253h1M263 253h1M273 253h1M277 253h1M280 253h1M283 253h1M285 253h1M662 253h1M674 253h1M680 253h2M685 253h1M695 253h1M697 253h1M739 253h1M742 253h1M746 253h2M749 253h1M751 253h1M754 253h1M759 253h2M767 253h1M771 253h1M177 254h2M183 254h2M190 254h1M193 254h1M197 254h1M203 254h1M256 254h2M260 254h2M275 254h1M277 254h1M280 254h1M284 254h1M291 254h1M667 254h1M669 254h1M672 254h1M674 254h1M676 254h1M678 254h2M681 254h1M687 254h1M690 254h1M694 254h1M696 254h2M743 254h3M749 254h1M751 254h1M754 254h2M765 254h2M770 254h1M182 255h1M186 255h1M188 255h1M191 255h2M204 255h1M206 255h1M262 255h2M270 255h1M274 255h1M276 255h1M280 255h3M668 255h1M670 255h1M673 255h1M678 255h1M681 255h1M683 255h1M690 255h2M697 255h2M743 255h7M756 255h2M765 255h1M182 256h2M191 256h1M197 256h1M210 256h1M264 256h1M275 256h1M278 256h1M284 256h1M666 256h1M670 256h1M676 256h1M678 256h1M680 256h1M743 256h1M748 256h1M750 256h1M754 256h3M760 256h1M763 256h1M199 257h1M203 257h1M261 257h3M265 257h2M268 257h2M275 257h1M277 257h1M282 257h1M284 257h1M664 257h1M667 257h1M669 257h3M677 257h1M680 257h1M689 257h1M691 257h2M747 257h1M752 257h1M755 257h2M760 257h1M763 257h1M766 257h1M772 257h1M774 257h1M189 258h1M192 258h1M197 258h1M202 258h1M261 258h1M264 258h2M268 258h1M270 258h1M279 258h1M281 258h2M285 258h1M673 258h1M676 258h5M684 258h1M688 258h1M693 258h2M744 258h1M754 258h1M756 258h1M759 258h1M764 258h1M767 258h1M770 258h1M773 258h1M179 259h3M189 259h1M195 259h1M267 259h1M269 259h2M273 259h1M275 259h1M283 259h1M666 259h1M670 259h1M679 259h1M686 259h1M750 259h1M752 259h1M759 259h1M761 259h2M765 259h1M767 259h2M772 259h1M184 260h1M191 260h1M195 260h1M261 260h2M269 260h1M680 260h1M684 260h1M687 260h2M744 260h3M748 260h1M752 260h1M756 260h2M763 260h1M768 260h1M771 260h1M773 260h1M182 261h1M186 261h1M197 261h1M199 261h1M267 261h2M270 261h1M272 261h2M668 261h1M676 261h1M679 261h1M683 261h1M688 261h1M750 261h1M752 261h1M755 261h1M763 261h2M767 261h1M769 261h1M771 261h1M188 262h1M195 262h1M197 262h1M200 262h1M267 262h1M276 262h1M280 262h1M669 262h1M676 262h2M679 262h1M681 262h1M686 262h2M746 262h1M749 262h1M757 262h1M759 262h1M761 262h1M770 262h3M186 263h1M190 263h1M199 263h1M271 263h2M274 263h1M669 263h2M672 263h1M675 263h1M680 263h2M683 263h1M691 263h2M750 263h1M754 263h2M757 263h1M763 263h1M769 263h2M192 264h1M197 264h1M265 264h1M268 264h1M670 264h1M672 264h1M675 264h3M682 264h2M686 264h1M688 264h2M759 264h1M761 264h1M763 264h1M769 264h1M195 265h1M672 265h1M681 265h1M754 265h3M758 265h1M761 265h1M768 265h1M672 266h1M751 266h1M753 266h2M762 266h1M680 267h1M682 267h2M752 267h1M759 267h1M761 267h2M681 268h1M757 268h1" stroke="#f9cac9" stroke-width="1" fill="none"/>
<path d="M502 69h1M507 69h1M32 72h1M34 72h1M500 72h1M514 72h1M63 73h1M65 73h1M69 73h1M511 73h1M519 73h1M29 74h1M36 74h1M45 74h1M506 74h1M524 74h1M37 75h1M517 75h1M522 75h1M63 76h1M503 76h1M523 76h1M528 76h1M504 77h1M22 78h1M29 78h1M66 78h1M510 78h1M513 78h1M519 78h1M531 78h1M24 79h1M50 79h1M75 79h1M77 79h1M533 79h1M35 80h1M50 80h1M66 80h1M70 80h1M78 80h1M44 81h1M49 81h1M53 81h2M505 81h1M507 81h1M33 82h1M37 82h1M44 82h1M77 82h1M82 82h1M518 82h1M521 82h1M523 82h1M526 82h1M21 83h1M28 83h1M36 83h1M47 83h1M49 83h1M55 83h1M82 83h1M512 83h1M72 84h1M500 84h1M528 84h1M532 84h1M24 85h1M40 85h1M51 85h1M53 85h1M86 85h1M532 85h2M30 86h1M37 86h1M48 86h1M83 86h1M533 86h1M541 86h1M45 87h1M507 87h1M535 87h1M541 87h1M34 88h1M38 88h1M43 88h1M83 88h1M85 88h1M506 88h1M513 88h1M533 88h1M78 89h1M527 89h1M39 90h1M49 90h1M84 90h1M523 90h1M20 91h1M29 91h1M51 91h1M76 91h1M81 91h1M518 91h1M526 91h1M23 92h1M70 92h1M75 92h1M532 92h1M539 92h1M52 93h1M69 93h1M84 93h1M86 93h1M506 93h1M518 93h1M23 94h1M29 94h2M38 94h1M44 94h1M81 94h1M504 94h1M506 94h1M519 94h1M524 94h1M528 94h1M533 94h1M50 95h1M53 95h1M77 95h1M516 95h1M24 96h1M31 96h1M49 96h1M513 96h1M517 96h1M540 96h1M514 97h1M31 98h1M33 98h1M46 98h2M505 98h1M522 98h1M505 99h1M507 99h1M510 99h1M516 99h1M534 99h1M540 99h1M528 100h1M49 101h2M512 101h1M522 101h1M29 102h1M32 102h1M42 103h1M61 103h1M530 103h1M539 103h1M55 104h1M507 104h1M50 105h1M61 105h1M522 105h1M524 105h1M533 105h1M42 106h1M53 106h1M60 106h1M49 107h1M510 107h2M526 107h1M523 108h1M529 108h1M43 109h1M521 109h1M27 110h1M54 110h1M525 110h1M62 111h1M528 111h1M56 112h1M516 112h1M530 112h1M516 113h1M127 132h1M120 137h1M128 137h1M125 138h1M132 140h1M135 141h1M134 143h1M123 146h1M128 146h1M131 146h1M135 149h1M140 149h1M139 150h1M141 150h1M146 150h1M563 150h1M120 151h1M123 151h1M135 151h1M139 151h1M117 152h1M124 152h1M107 153h1M117 153h1M594 153h1M126 155h1M153 155h2M594 155h1M596 155h1M600 155h1M108 156h1M134 156h1M143 156h1M117 157h1M103 158h1M159 158h1M162 158h1M610 158h1M153 159h1M160 159h1M588 159h2M600 159h2M581 160h1M596 160h2M600 160h1M130 161h1M164 161h1M582 161h1M587 161h1M604 161h1M100 162h1M112 162h1M144 162h2M154 162h2M158 162h1M594 162h1M138 163h1M161 163h1M590 163h1M128 164h1M131 164h2M142 164h1M152 164h1M595 164h2M599 164h1M138 165h1M148 165h1M154 165h2M159 165h1M590 165h1M604 165h1M110 166h1M155 166h1M165 166h1M586 166h1M603 166h1M605 166h1M607 166h1M611 166h1M136 167h1M144 167h1M604 167h1M124 168h1M136 168h1M584 168h1M594 168h1M596 168h1M606 168h1M106 169h1M148 169h1M604 169h1M106 170h1M135 170h2M140 170h1M149 170h1M151 170h1M158 170h1M161 170h1M620 170h1M119 171h1M148 171h1M152 171h2M618 171h1M135 172h1M143 172h1M146 172h1M150 172h1M611 172h1M129 173h1M155 173h1M588 173h1M134 174h1M147 174h1M588 174h1M610 174h1M614 174h1M617 174h1M109 175h1M132 175h1M153 175h1M595 175h1M597 175h1M609 175h1M613 175h1M127 176h1M596 176h1M619 176h1M592 177h1M606 177h1M609 177h2M617 177h2M595 178h1M613 178h2M118 179h1M120 179h1M136 179h2M140 179h1M584 179h1M595 179h1M613 179h1M616 179h1M589 180h1M591 180h1M597 180h1M590 181h1M596 181h1M604 181h1M587 182h1M591 182h1M614 182h1M132 183h1M138 183h1M595 183h1M113 184h1M597 184h1M613 184h1M598 185h1M590 186h1M593 189h2M600 189h1M605 191h1M675 219h1M755 219h1M210 223h1M267 228h3M282 228h1M290 228h1M745 228h1M192 229h1M278 229h1M665 229h1M668 229h1M672 229h1M738 229h1M740 229h1M744 229h1M200 230h1M202 230h1M747 230h1M195 231h1M276 231h1M282 231h1M664 231h1M674 231h1M678 231h1M736 231h1M753 231h2M186 232h1M191 232h1M195 232h1M279 232h1M662 232h1M753 232h1M187 233h1M195 233h1M203 233h1M269 233h2M727 233h1M758 233h1M184 234h1M188 234h2M200 234h1M271 234h1M284 234h1M297 234h1M668 234h1M680 234h1M720 234h1M738 234h1M744 234h1M759 234h1M193 235h1M208 235h1M210 235h1M293 235h1M670 235h1M178 236h1M199 236h1M667 236h1M678 236h1M735 236h1M751 236h1M758 236h1M198 237h1M259 237h1M266 237h1M274 237h1M672 237h1M680 237h1M734 237h1M738 237h1M740 237h1M753 237h1M756 237h1M762 237h1M268 238h1M279 238h1M284 238h1M673 238h1M681 238h1M740 238h1M181 239h1M201 239h1M213 239h1M273 239h2M287 239h1M665 239h1M672 239h2M676 239h1M736 239h1M760 239h1M768 239h1M181 240h2M207 240h1M283 240h1M296 240h1M665 240h1M677 240h1M746 240h1M750 240h1M769 240h1M771 240h1M201 241h1M264 241h1M272 241h1M284 241h1M656 241h1M669 241h1M686 241h1M744 241h1M184 242h1M193 242h1M205 242h2M254 242h1M256 242h1M259 242h1M665 242h1M668 242h1M682 242h1M696 242h1M740 242h1M746 242h1M180 243h1M195 243h1M257 243h1M259 243h1M270 243h1M280 243h1M286 243h1M303 243h1M663 243h1M735 243h1M738 243h1M742 243h1M184 244h2M199 244h1M279 244h1M287 244h1M661 244h1M695 244h1M754 244h1M764 244h1M185 245h1M190 245h1M205 245h1M260 245h1M266 245h2M676 245h1M769 245h1M175 246h1M184 246h1M189 246h1M194 246h1M201 246h1M272 246h1M275 246h1M281 246h1M661 246h1M698 246h1M758 246h1M775 246h1M273 247h1M289 247h1M674 247h1M694 247h1M756 247h1M759 247h1M770 247h1M188 248h1M194 248h1M202 248h1M274 248h1M281 248h1M284 248h1M693 248h1M735 248h1M771 248h2M177 249h1M199 249h1M201 249h1M263 249h1M283 249h1M660 249h1M676 249h1M687 249h1M740 249h1M750 249h1M753 249h2M769 249h1M176 250h1M187 250h1M260 250h1M265 250h1M272 250h1M665 250h1M676 250h1M692 250h1M745 250h1M767 250h1M772 250h1M775 250h1M256 251h1M290 251h1M670 251h1M693 251h1M741 251h1M190 252h1M275 252h1M664 252h1M676 252h1M694 252h1M698 252h1M751 252h1M757 252h1M762 252h1M773 252h1M776 252h1M197 253h1M204 253h1M206 253h1M270 253h1M276 253h1M748 253h1M763 253h1M194 254h1M259 254h1M265 254h2M279 254h1M281 254h1M286 254h1M666 254h1M677 254h1M688 254h1M756 254h1M761 254h1M283 255h1M750 255h1M775 255h1M192 256h1M201 256h1M203 256h1M269 256h1M663 256h1M690 256h1M190 257h1M207 257h1M279 257h1M281 257h1M690 257h1M744 257h1M770 257h1M204 258h1M269 258h1M280 258h1M665 258h1M667 258h1M672 258h1M692 258h1M758 258h1M187 259h1M199 259h1M261 259h1M272 259h1M278 259h1M280 259h1M667 259h1M673 259h1M678 259h1M693 259h1M751 259h1M755 259h1M190 260h1M270 260h1M276 260h1M282 260h1M672 260h1M265 261h1M269 261h1M277 261h1M670 261h2M694 261h1M773 261h1M277 262h1M674 262h1M684 262h1M753 262h1M763 262h2M769 262h1M196 263h1M267 263h1M278 263h1M186 264h1M196 264h1M269 264h1M674 264h1M684 264h1M754 264h1M767 264h1M190 265h1M679 265h1M752 265h1M687 266h1M766 266h2M679 267h1M685 267h1M758 268h1" stroke="#e8403f" stroke-width="1" fill="none"/>
<path d="M533 49h1M531 50h1M513 51h1M521 51h1M531 51h1M508 52h1M529 52h1M531 52h1M507 53h2M513 53h1M526 53h1M534 53h1M516 54h1M533 54h1M508 55h1M522 55h1M518 56h1M530 56h1M533 56h1M536 56h1M510 57h1M515 57h1M519 57h1M529 57h1M525 58h1M529 58h1M532 58h1M46 59h1M54 59h1M509 59h1M513 59h1M526 59h1M530 59h1M510 60h1M518 60h1M526 60h1M528 60h1M530 61h1M535 61h1M44 65h1M46 65h1M61 69h1M62 70h1M30 71h1M28 72h1M36 72h2M44 72h1M33 73h1M27 74h1M26 75h1M74 75h1M25 76h1M21 77h1M24 77h1M22 79h1M529 80h1M21 81h1M504 81h1M20 82h1M75 82h1M79 82h1M68 83h1M22 84h1M25 84h1M19 85h1M19 86h1M38 86h1M20 88h1M45 88h1M19 89h1M44 89h1M54 90h1M63 90h1M87 90h1M36 91h1M505 93h1M508 93h1M73 95h1M83 95h1M84 96h2M81 97h1M84 97h1M525 98h1M40 100h1M51 102h1M24 103h1M29 103h1M34 107h1M39 107h1M44 107h1M50 107h1M58 107h1M38 108h1M36 109h1M60 109h1M35 110h1M40 110h2M31 111h1M34 111h1M40 111h1M594 124h1M592 126h1M609 127h1M587 128h2M594 128h1M610 128h1M592 129h1M611 129h1M610 130h1M614 130h1M587 131h2M590 131h1M614 131h1M594 132h1M596 132h1M599 132h1M611 133h1M591 134h3M604 134h1M610 134h1M587 135h1M591 135h1M593 135h1M599 135h1M592 136h2M604 136h2M611 136h1M589 137h1M593 137h1M610 137h1M588 138h1M591 138h1M610 138h1M608 139h1M610 139h3M125 141h1M122 145h1M126 146h1M111 150h1M138 151h1M150 153h1M144 154h1M606 154h1M148 157h1M101 158h1M153 158h1M156 158h1M101 159h1M119 159h1M148 159h1M106 160h1M120 160h1M145 160h1M151 160h1M156 160h1M159 160h1M102 161h1M133 161h1M147 161h1M152 161h1M152 162h1M149 163h1M152 163h1M134 164h1M147 164h1M158 164h1M610 164h1M116 165h1M591 165h1M615 165h1M164 166h1M579 166h1M153 167h1M159 167h1M101 168h1M106 168h1M151 168h2M161 168h2M136 169h1M608 169h1M164 171h1M617 171h1M123 172h1M582 173h1M97 176h1M99 176h1M101 176h1M112 176h1M100 177h1M135 177h1M117 180h1M120 180h1M116 181h1M131 181h1M106 183h1M140 183h1M107 184h1M112 184h1M590 185h1M119 187h1M607 190h1M745 201h1M747 202h1M674 203h1M750 203h1M667 204h1M675 204h1M687 204h1M753 204h1M669 205h1M754 205h1M762 205h2M767 205h1M664 206h1M669 206h1M750 206h1M754 206h1M764 206h1M666 207h1M684 207h1M689 207h1M691 207h1M748 207h1M769 207h1M672 208h1M684 208h1M687 208h1M689 208h2M744 208h1M749 208h1M769 208h2M665 209h1M671 209h1M686 209h2M689 209h1M692 209h1M762 209h1M767 209h3M664 210h1M684 210h1M688 210h2M691 210h1M751 210h1M762 210h1M769 210h1M668 211h1M672 211h1M682 211h1M685 211h1M687 211h2M747 211h1M750 211h4M673 212h1M685 212h1M688 212h1M692 212h1M747 212h1M761 212h1M765 212h1M770 212h1M669 213h1M676 213h1M692 213h1M761 213h1M768 213h1M214 214h1M684 214h1M687 214h1M766 214h2M215 215h1M674 215h1M687 215h1M690 215h1M764 215h1M766 215h1M688 216h1M752 216h1M212 217h1M295 217h1M753 217h1M674 218h1M755 218h1M675 220h1M753 220h1M672 221h1M675 221h1M677 221h1M751 221h1M754 222h1M202 224h1M720 224h1M723 224h1M649 225h1M277 227h1M283 227h1M270 228h1M232 230h1M648 230h1M661 230h1M664 230h1M727 230h2M234 231h1M647 231h1M221 232h1M232 232h1M224 233h1M261 233h1M274 233h1M231 234h1M234 234h1M236 234h1M261 234h1M304 234h1M224 235h1M228 235h1M297 235h1M225 236h1M235 236h1M272 236h1M318 236h1M231 237h1M296 237h1M309 237h1M314 237h1M234 238h1M293 238h1M312 238h1M319 238h1M236 239h1M271 239h1M303 239h2M309 239h1M312 239h1M757 239h1M224 240h1M227 240h1M237 240h1M301 240h1M308 240h1M310 240h1M313 240h1M316 240h1M320 240h1M682 240h1M214 241h1M227 241h1M229 241h1M283 241h1M306 241h1M689 241h1M202 242h1M209 242h1M235 242h1M303 242h2M313 242h1M318 242h1M315 243h1M664 243h1M208 244h1M235 244h1M237 244h1M243 244h1M296 244h1M308 244h2M776 244h1M238 245h1M290 245h1M321 245h1M205 246h1M245 246h1M672 246h1M230 247h1M237 247h1M257 247h1M307 247h1M309 247h1M311 247h1M195 248h1M237 248h1M244 248h1M308 248h1M676 248h1M208 249h1M277 249h1M231 250h1M245 250h1M310 250h1M234 251h1M242 251h1M312 251h1M321 251h1M212 252h1M184 253h1M291 253h1M198 254h1M267 254h1M278 254h1M199 260h1M194 262h1M194 264h2M751 265h1" stroke="#8da2da" stroke-width="1" fill="none"/>
<path d="M515 48h1M518 48h1M520 49h1M531 49h2M515 50h1M529 50h2M532 50h3M509 51h2M528 51h1M532 51h1M535 51h1M509 52h1M515 52h1M530 52h1M535 52h2M514 53h1M521 53h1M533 53h1M512 54h1M524 54h2M529 54h1M532 54h1M515 55h1M519 55h1M521 55h1M524 55h1M531 55h1M533 55h1M509 56h1M512 56h1M515 56h1M519 56h1M521 56h1M525 56h1M527 56h2M531 56h2M507 57h1M527 57h1M530 57h1M532 57h1M536 58h1M527 59h2M533 59h1M535 59h1M531 60h1M533 60h1M511 61h1M514 61h1M517 61h2M529 61h1M533 61h1M532 62h1M44 66h1M41 67h1M54 67h1M38 71h1M66 71h1M27 72h1M25 73h1M24 74h1M28 74h1M22 75h1M25 75h1M21 78h1M24 78h2M52 78h1M503 78h1M34 79h1M76 79h1M20 80h1M58 80h1M66 81h1M75 81h1M81 81h1M21 82h2M64 82h1M71 83h1M81 83h1M533 83h1M28 84h1M30 84h1M22 85h1M66 86h1M20 87h1M86 87h1M509 87h1M528 87h1M42 88h1M53 88h1M507 88h1M69 90h1M22 91h1M32 91h1M20 92h1M36 92h1M86 92h1M526 92h1M31 94h1M50 94h1M33 95h1M57 95h1M70 95h1M79 95h2M86 95h1M77 96h1M81 96h2M33 99h1M51 100h1M40 102h1M49 102h1M54 102h1M59 102h1M34 103h1M49 103h1M61 104h2M22 105h1M51 105h1M53 105h1M47 106h1M52 106h1M48 107h1M43 108h2M48 108h1M34 109h1M38 109h1M44 109h1M49 109h1M42 110h1M55 110h1M62 110h1M524 110h1M30 111h1M51 112h1M522 114h1M590 124h1M592 124h1M594 126h1M597 126h2M593 127h1M595 127h1M599 127h1M606 128h2M585 129h1M594 129h2M597 129h1M609 129h2M613 129h1M595 130h1M598 130h1M604 130h3M597 131h1M604 131h1M607 131h1M585 132h1M592 132h1M612 132h1M589 133h1M591 133h1M596 133h1M600 133h1M604 133h1M607 133h1M606 134h1M611 134h2M615 134h1M589 135h1M595 135h1M607 135h1M612 135h2M595 136h1M607 136h1M609 136h1M612 136h2M587 137h1M594 137h1M608 137h2M127 138h1M589 138h1M593 138h2M597 138h1M613 138h1M589 139h1M609 139h1M611 140h1M125 143h1M131 147h1M128 150h1M599 151h1M108 153h1M115 153h1M581 153h1M157 156h1M102 157h1M152 157h1M154 157h1M156 157h1M120 159h1M145 159h1M155 159h1M147 160h2M160 160h1M163 160h1M118 162h1M159 162h2M143 163h1M121 164h1M139 164h1M153 164h1M156 164h1M161 164h2M106 165h1M112 165h1M123 165h1M150 165h2M156 165h1M160 165h1M163 165h1M121 166h1M151 166h1M153 166h1M156 166h1M158 166h1M110 167h1M154 167h1M157 167h1M99 168h1M129 168h1M603 168h1M165 169h1M594 170h1M115 171h1M108 172h1M114 172h1M161 172h1M113 173h1M115 173h1M98 174h1M117 174h1M119 174h1M120 175h1M124 175h1M584 175h1M103 176h1M106 176h1M120 176h1M108 177h1M124 177h1M109 179h1M111 179h1M104 181h1M114 183h1M116 183h1M134 185h1M110 186h1M599 187h1M597 189h1M597 192h1M672 201h1M750 202h2M751 203h1M753 203h1M741 204h2M749 204h1M754 204h1M764 204h1M767 204h1M686 205h1M689 205h2M746 205h1M751 205h1M753 205h1M764 205h2M677 206h1M690 206h1M745 206h2M753 206h1M763 206h1M767 206h2M675 207h1M686 207h1M742 207h1M744 207h1M747 207h1M749 207h1M760 207h1M770 207h1M682 208h2M692 208h1M742 208h1M745 208h2M751 208h1M674 209h1M683 209h2M742 209h1M747 209h1M750 209h1M761 209h1M765 209h1M770 209h1M665 210h1M671 210h2M687 210h1M746 210h1M763 210h2M771 210h1M666 211h1M671 211h1M745 211h1M765 211h2M769 211h2M671 212h1M676 212h2M684 212h1M687 212h1M744 212h1M748 212h1M762 212h1M764 212h1M767 212h1M690 213h1M746 213h1M762 213h1M764 213h3M282 214h1M669 214h1M672 214h2M686 214h1M689 214h1M762 214h1M765 214h1M769 214h1M672 215h1M685 215h1M689 215h1M765 215h1M768 215h1M670 216h1M753 216h1M755 216h1M211 217h1M673 217h1M211 218h1M292 218h1M672 218h1M675 218h1M753 221h1M676 222h1M638 223h1M639 226h1M272 227h1M275 227h1M293 227h1M728 227h1M718 228h1M202 229h1M643 229h1M195 230h1M229 230h1M725 230h1M188 231h1M230 231h1M232 231h1M646 231h1M277 232h1M722 232h1M202 233h1M211 233h1M221 233h2M309 233h1M644 233h1M661 233h1M757 233h1M224 234h1M227 234h1M229 234h1M259 234h1M650 234h1M658 234h1M194 235h1M223 235h1M233 235h1M291 235h1M223 236h2M240 236h1M304 236h1M311 236h1M315 236h1M663 236h1M676 236h1M233 237h1M242 237h1M260 237h1M226 238h1M230 238h1M237 238h1M241 238h2M188 239h1M227 239h2M231 239h1M235 239h1M237 239h1M243 239h1M300 239h1M302 239h1M305 239h1M307 239h1M310 239h1M677 239h1M680 239h1M298 240h1M304 240h1M321 240h1M205 241h1M216 241h1M218 241h1M226 241h1M238 241h1M240 241h2M270 241h1M301 241h2M307 241h1M221 242h1M223 242h1M231 242h1M234 242h1M302 242h1M321 242h1M759 242h1M223 243h1M230 243h1M233 243h1M237 243h1M242 243h1M298 243h1M302 243h1M305 243h3M314 243h1M196 244h2M222 244h1M227 244h1M263 244h1M291 244h1M304 244h1M318 244h1M237 245h1M299 245h1M310 245h1M316 245h1M319 245h1M244 246h1M305 246h1M317 246h1M321 246h1M680 246h1M227 247h1M229 247h1M306 247h1M742 247h1M229 248h1M233 248h1M242 248h1M271 248h1M311 248h1M315 248h1M322 248h1M658 248h1M230 249h1M235 249h1M308 249h1M319 249h1M322 249h1M235 250h1M240 250h1M279 250h1M312 250h1M233 251h1M239 251h1M320 251h1M208 253h1M259 253h1M264 253h1M275 253h1M286 253h1M766 253h1M680 255h1M202 256h1M745 256h1M267 257h1M679 257h1M749 257h1M689 259h1M766 260h1M264 261h1M278 261h1M184 262h1M767 262h1M188 263h1M679 263h1M679 266h1" stroke="#c8d2ed" stroke-width="1" fill="none"/>
<path d="M519 48h1M517 49h1M529 49h1M517 50h1M530 51h1M518 52h1M528 53h1M509 55h1M530 55h1M512 58h1M517 58h1M532 59h1M533 62h1M48 63h1M50 65h1M31 72h1M31 73h1M44 73h1M33 75h1M21 80h1M69 80h1M76 80h1M60 82h1M514 82h1M48 83h1M33 84h1M514 84h1M86 91h1M84 92h1M509 92h1M74 94h1M82 94h1M529 94h1M522 95h1M42 97h1M29 98h1M51 99h1M525 99h1M536 100h1M540 102h1M59 104h1M38 105h1M31 107h1M31 108h1M45 108h1M32 109h2M41 109h1M587 126h1M588 127h1M610 127h1M595 128h1M612 128h1M594 131h1M609 131h2M586 134h2M594 134h1M606 135h1M604 137h1M612 137h1M607 138h1M591 139h1M610 140h1M131 155h1M125 157h1M128 157h1M151 157h1M146 159h1M158 159h1M149 160h1M153 160h1M150 161h1M154 161h1M162 161h1M148 162h1M156 162h1M162 163h1M155 164h1M103 165h1M98 169h1M103 172h1M116 172h1M116 176h1M124 180h1M668 203h1M769 204h1M750 205h1M768 205h1M667 206h1M665 207h1M692 207h1M751 207h1M766 207h1M676 208h1M691 208h1M764 208h1M690 209h1M748 209h1M685 210h1M690 210h1M744 210h1M767 210h1M677 211h1M689 211h1M761 211h1M763 211h1M670 212h1M672 212h1M743 212h1M769 212h1M685 213h1M668 214h1M671 214h1M675 214h1M691 214h1M688 215h1M689 216h1M285 218h1M672 220h1M721 222h1M757 222h1M724 226h1M290 227h1M718 227h1M279 230h1M298 230h1M224 231h1M235 232h1M236 233h1M215 234h1M294 236h1M752 236h1M237 237h1M308 237h1M312 237h1M319 237h1M298 238h1M308 238h1M311 238h1M318 239h1M319 240h1M239 241h1M298 241h1M309 241h2M312 241h1M298 242h1M311 242h1M225 244h1M239 244h1M319 244h1M244 245h1M682 245h1M695 245h1M236 246h1M259 246h1M303 246h1M265 247h1M323 249h1M233 250h1M242 250h1M663 250h1M774 250h1M271 251h1M284 251h1M310 251h1M314 251h1M676 259h1M274 262h1M690 265h1M751 267h1" stroke="#3a5fbf" stroke-width="1" fill="none"/>
<path d="M512 47h1M516 47h1M495 48h1M491 50h1M494 54h1M35 64h1M501 70h1M39 71h1M499 71h1M489 73h1M504 74h1M487 75h1M571 125h2M575 126h1M572 127h1M574 127h2M572 128h1M596 129h1M574 130h1M573 131h1M595 131h1M600 131h1M568 146h1M110 155h1M115 156h1M114 160h1M118 160h1M119 161h1M104 163h1M108 163h1M121 163h1M103 164h1M117 164h1M101 165h1M107 165h1M115 165h1M122 165h1M109 166h1M101 167h1M124 167h1M103 168h1M108 168h1M120 169h1M104 170h1M121 170h1M106 171h1M113 172h1M111 173h1M111 174h1M113 174h1M106 175h1M105 176h1M118 177h1M124 178h1M121 179h1M117 181h1M121 181h1M102 182h1M115 183h1M648 202h1M650 202h1M648 205h2M730 205h1M651 206h1M726 206h1M649 207h1M730 207h1M729 208h1M207 214h1M282 215h1M287 215h1M207 216h1M216 217h1M214 219h1M216 221h1M293 221h1M206 225h1M282 227h1M288 231h1M217 244h1M211 253h1M217 260h1M294 261h1M215 262h1M219 262h1M292 262h1M218 263h1M220 263h1M295 263h1M297 263h1M216 264h1M296 264h1M212 265h1M215 265h1M220 265h1M290 265h1M220 266h1M291 266h1M297 266h1M219 267h1M294 267h1M298 267h1M212 268h1M217 268h1M220 268h1M214 269h1M293 270h1M216 271h1" stroke="#d6c8e6" stroke-width="1" fill="none"/>
<path d="M47 90h1" stroke="#7aa8e0" stroke-width="1" fill="none"/>
<path d="M38 78h1M31 82h1M47 89h1M24 90h1M37 92h1M46 94h1M23 101h1M25 108h1M29 109h1M34 113h1M211 216h1M206 220h1" stroke="#dae7f6" stroke-width="1" fill="none"/>
<path d="M491 49h2M513 56h1M38 61h1M46 63h1M501 69h1M41 70h1M500 70h1M48 71h1M52 71h1M484 74h1M592 131h1M586 137h1M561 148h1M110 157h1M105 158h1M106 159h1M123 160h1M99 164h1M105 166h1M120 166h1M100 171h1M118 172h1M117 173h1M100 175h1M114 178h1M123 181h1M651 201h1M730 202h1M725 204h1M650 205h1M214 216h1M285 216h1M209 218h1M205 224h1M284 226h1M211 228h1M283 228h1M206 230h1M292 230h1M213 232h1M212 234h1M211 238h1M293 247h1M219 261h1M217 262h1M296 262h1M216 263h1M214 264h1M211 266h1M218 267h1M294 268h1" stroke="#b9a0d4" stroke-width="1" fill="none"/>
<path d="M43 71h1M484 72h1M571 145h1M293 216h1M721 233h1M650 235h1" stroke="#a64ca6" stroke-width="1" fill="none"/>
<path d="M44 48h1M44 50h1M43 51h1M47 51h1M43 52h1M42 56h1M44 58h1M42 59h1M483 83h1M481 84h1M478 86h2M482 88h1M477 89h1M486 89h2M478 90h1M476 91h1M483 92h1M485 92h1M479 93h1M480 94h2M561 161h1M557 162h2M560 163h1M555 164h1M565 164h1M557 166h1M562 166h1M564 166h1M557 167h1M560 167h1M565 167h2M554 168h1M567 168h1M554 169h1M556 169h1M278 204h2M200 205h1M278 205h1M197 207h1M275 207h1M278 207h1M198 208h1M200 208h1M278 208h1M199 209h1M281 209h1M199 210h1M201 210h1M280 210h1M200 212h1M280 212h1M199 213h1M201 213h1M277 213h1M279 213h1M197 214h1M200 215h1M278 215h1M635 239h1M716 239h1M633 240h1M643 240h1M711 240h1M713 240h1M715 240h1M643 241h1M713 241h1M719 241h1M721 241h1M635 242h2M639 242h1M642 242h1M644 242h1M715 242h2M710 244h1M714 244h2M720 244h1M712 245h1M714 245h1M716 245h2M719 246h1M639 247h1" stroke="#ddedd5" stroke-width="1" fill="none"/>
<path d="M47 49h1M45 50h1M45 51h1M41 52h1M40 55h1M44 55h1M39 58h1M478 84h1M479 85h1M484 86h1M487 86h1M486 88h1M484 90h1M480 91h1M476 92h1M482 92h1M560 161h1M556 162h1M560 164h1M558 165h1M563 165h1M556 166h1M565 166h1M562 167h1M555 168h1M557 168h1M555 169h1M563 169h1M565 169h1M563 170h1M275 206h1M278 206h1M280 206h1M199 207h1M281 207h1M280 208h1M197 209h1M277 209h1M198 210h1M203 210h1M275 211h2M278 212h1M281 212h1M200 213h1M276 213h1M201 214h2M275 214h2M277 215h1M280 215h1M638 238h1M716 238h1M640 239h1M643 239h1M713 239h2M720 239h1M636 240h1M641 240h1M644 240h1M635 241h1M641 241h2M710 241h1M718 241h1M712 242h1M633 243h2M639 243h1M644 243h1M719 243h1M635 244h1M641 244h1M711 244h2M716 244h1M718 244h2M639 245h2M642 245h1M715 246h1" stroke="#b9daa9" stroke-width="1" fill="none"/>
<path d="M47 52h1M41 54h1M43 60h1M477 87h1M481 87h1M559 162h1M562 163h1M556 164h1M564 164h1M559 166h1M558 170h1M201 204h1M274 206h1M276 208h1M282 208h1M198 209h1M275 209h1M200 211h1M275 212h1M279 212h1M198 214h1M279 214h1M275 215h1M718 238h1M718 240h1M641 242h1M643 242h1M635 243h1M640 243h1M713 243h1M718 243h1M637 245h1M719 245h1M636 246h1M638 247h1M640 247h1" stroke="#86c06a" stroke-width="1" fill="none"/>
<path d="M55 60h1M57 62h1M54 64h1M490 71h1M485 73h1M487 73h1M487 74h1M493 74h1M490 75h1M494 75h1M563 146h1M569 146h2M562 149h1M562 152h1M287 219h1M289 221h1M642 223h1M717 225h1M726 225h1M650 227h1M726 227h1M644 228h2M724 228h1M648 234h1M728 234h1" stroke="#e6cde6" stroke-width="1" fill="none"/>
<path d="M53 59h1M501 59h1M498 62h1M39 65h1M504 66h1M41 68h1M33 70h1M37 70h1M580 136h1M580 137h1M579 138h1M579 139h2M584 142h1M581 143h1M586 143h1M583 145h1M108 160h1M107 164h1M98 167h1M104 171h1M106 173h1M104 174h1M111 175h1M120 184h1M666 203h1M671 204h1M671 206h1M664 207h1M667 207h1M671 207h1M670 208h1M668 209h1M676 210h1M654 215h1M740 215h1M655 216h1M657 216h1M661 216h1M733 216h1M655 217h1M741 217h1M743 218h1M740 219h1M658 220h1M661 220h1M655 221h1M733 221h1M737 221h1M736 222h1M657 223h1M226 234h1M232 239h1M228 244h1M220 252h1M222 252h1M295 252h1M295 253h1M221 254h1M298 255h1M216 256h1M219 257h1" stroke="#ecdc1c" stroke-width="1" fill="none"/>
<path d="M47 60h1M45 61h1M57 68h1M485 69h1M43 70h1M490 74h1M494 77h1M565 151h1M573 155h1M567 156h1M568 157h1M284 216h1M288 218h1M645 222h1M650 223h1M722 225h1M717 227h1M639 228h1M721 228h1M717 229h1M641 231h1M650 231h1M649 232h1M647 234h1" stroke="#cb97cb" stroke-width="1" fill="none"/>
<path d="M497 58h1M55 59h1M501 60h1M501 61h1M500 62h1M503 62h1M62 63h1M499 63h1M502 63h1M501 64h1M37 65h1M505 65h2M33 66h2M37 66h3M505 66h2M32 67h1M38 67h1M503 67h1M508 67h1M37 68h2M47 68h1M505 68h1M35 69h1M576 136h1M578 136h1M577 137h1M582 137h1M576 138h1M580 138h1M575 139h1M577 139h1M581 140h2M576 141h1M583 141h1M576 142h1M579 142h1M582 142h1M584 143h1M580 144h1M581 145h1M586 145h1M113 151h1M111 154h1M103 156h1M108 157h1M122 159h1M103 162h1M105 162h1M110 165h1M111 166h1M111 167h1M117 167h1M113 168h1M123 168h1M108 169h1M112 169h1M123 169h1M107 170h1M109 170h1M109 173h1M125 173h1M113 176h1M112 178h1M99 179h1M123 179h1M105 182h1M117 182h1M119 184h1M121 185h1M670 205h1M673 205h1M666 206h1M677 207h1M666 212h1M674 212h1M671 213h1M656 214h1M658 214h1M657 215h1M663 215h1M669 215h1M736 215h1M742 215h1M738 216h1M740 216h1M742 216h1M654 217h1M658 217h1M660 217h1M662 217h3M736 217h1M738 217h1M743 217h1M664 218h1M732 218h1M735 218h1M737 218h1M655 219h1M732 219h1M736 219h1M741 219h1M743 219h1M655 220h1M659 220h2M662 220h1M664 220h1M733 220h1M735 220h2M741 220h1M739 221h1M741 221h1M655 222h1M657 222h1M663 222h1M737 222h1M658 223h1M661 223h1M738 223h1M236 232h1M233 233h1M237 235h1M232 236h1M239 238h1M232 241h1M234 243h1M245 244h1M224 246h1M217 247h3M241 247h1M295 247h2M220 248h1M297 248h1M299 248h2M214 249h1M237 249h1M294 249h3M216 250h1M236 250h1M217 251h1M295 251h1M218 252h2M223 252h1M294 252h1M300 252h1M218 253h1M294 253h1M217 254h1M222 254h2M295 254h1M297 254h1M216 255h1M218 255h1M295 255h1M299 255h1M301 255h1M215 256h1M218 256h1M220 256h1M295 256h2M295 257h1M297 257h1M219 258h1M221 258h1M296 258h1M299 258h1M297 259h2M219 260h1" stroke="#faf5bf" stroke-width="1" fill="none"/>
<path d="M495 46h1M492 47h2M494 48h1M511 48h1M493 49h1M495 51h1M495 52h2M512 52h1M495 53h1M520 53h1M492 54h1M520 56h1M508 57h1M52 58h1M509 58h1M40 61h1M55 61h2M49 62h1M56 64h1M36 65h1M56 65h2M499 66h1M39 67h1M491 67h1M57 69h2M495 70h1M487 72h1M491 77h1M570 125h1M573 125h1M590 128h1M572 130h1M591 130h1M591 131h1M564 145h1M568 145h1M572 149h1M113 152h1M115 152h1M106 153h1M105 154h1M121 155h1M105 156h1M113 158h1M119 158h1M123 159h1M115 160h1M109 162h1M109 163h1M119 163h1M113 165h1M104 166h1M102 167h1M107 167h1M118 167h1M120 167h1M110 168h1M110 170h1M108 171h1M111 171h1M117 171h1M121 171h1M107 172h1M109 172h1M103 173h1M118 173h1M102 175h1M112 177h1M115 177h1M125 177h1M119 178h1M110 180h1M103 182h1M113 182h1M121 182h1M119 183h1M109 184h1M729 201h1M647 203h1M724 203h1M731 203h1M649 204h1M729 204h1M724 205h3M728 205h1M652 206h1M729 206h1M651 207h1M725 207h1M727 207h1M729 207h1M649 208h1M209 215h1M292 215h1M294 217h1M215 219h1M284 222h1M216 223h1M213 225h1M284 225h1M213 227h1M284 227h1M291 227h1M292 228h1M203 231h1M286 231h1M290 231h1M285 233h1M288 234h1M288 237h1M211 245h1M290 248h1M290 254h1M207 255h1M215 260h1M218 260h1M216 261h1M293 263h1M213 264h1M218 264h1M297 264h1M293 265h1M212 266h1M218 266h1M292 266h1M211 267h1M217 267h1M295 267h1M290 268h2M296 268h1M216 269h1M218 269h1M293 269h3M216 270h2M291 270h1" stroke="#ebe4f3" stroke-width="1" fill="none"/>
<path d="M499 58h1M49 60h1M497 60h1M499 60h2M498 61h3M502 61h1M503 63h1M503 64h2M501 65h1M503 65h1M504 67h3M507 68h1M34 69h1M35 71h1M579 136h1M575 137h1M577 138h1M578 139h1M581 139h1M576 140h1M575 141h1M577 141h1M582 141h1M585 141h2M582 143h1M583 144h1M584 145h1M110 161h1M111 163h1M112 164h2M120 164h1M103 166h1M108 166h1M108 170h1M99 174h1M109 174h2M113 175h1M669 203h1M671 203h1M669 204h1M664 205h1M675 208h1M663 209h1M667 209h1M667 212h1M658 213h1M672 213h1M660 214h1M665 214h1M664 215h1M735 215h1M737 215h1M739 215h1M741 215h1M658 216h1M665 216h1M668 216h1M734 216h1M653 217h1M665 217h1M733 217h1M739 217h2M742 217h1M659 218h1M661 218h2M734 218h1M741 218h1M734 219h1M738 219h1M663 220h1M665 220h1M737 220h1M743 220h2M656 221h1M659 221h1M661 221h1M664 221h1M662 222h1M734 222h1M735 223h1M737 223h1M233 232h1M238 236h1M241 236h1M236 240h1M234 241h1M226 244h1M238 246h1M221 247h1M242 247h1M217 248h1M235 248h1M243 248h1M296 248h1M216 249h1M218 249h1M221 249h2M217 250h1M221 250h1M296 250h1M298 250h1M300 250h1M218 251h1M220 251h1M293 251h1M297 251h1M299 251h1M301 251h1M215 252h1M216 253h1M219 253h3M300 253h1M215 254h1M218 254h2M294 254h1M296 254h1M298 254h1M217 255h1M221 255h2M293 255h1M297 255h1M298 256h2M222 258h1M295 258h1M219 259h1M222 259h1M296 259h1" stroke="#f4eb7b" stroke-width="1" fill="none"/></g>
<path d="M72.3 642.2L80.3 635.5L91.0 635.5L96.3 642.2L97.0 651.6L93.6 659.6L89.6 663.6L84.3 660.9L80.3 655.6L74.9 652.9L72.3 647.6Z" fill="#e6e6e8"/>
<path d="M22.8 640.3L28.4 644.3L34.8 650.7L38.0 660.3L36.4 666.7L41.2 671.5L34.8 674.7L22.0 673.1L20.4 666.7L26.8 661.9L28.4 653.9L23.6 647.5Z" fill="#8dd7dc"/>
<path d="M21.6 629.8L28.3 627.8L45.7 628.4L47.7 631.1L47.7 637.1L41.7 640.5L35.0 645.8L31.6 650.5L27.0 648.5L23.0 644.5L21.6 637.8Z" fill="#3a62c0"/>
<path d="M31.1 649.4L34.4 644.8L41.1 639.4L47.1 638.1L49.1 643.4L49.8 652.8L47.8 659.4L43.8 662.1L37.1 662.1L33.8 659.4L31.1 654.1Z" fill="#e8383a"/>
<path d="M23.1 674.9L22.8 676.5L22.1 677.9L20.9 679.1L19.4 680.1L17.6 680.7L15.7 680.9L13.8 680.7L12.1 680.1L10.5 679.1L9.4 677.9L8.6 676.5L8.4 674.9L8.6 673.3L9.4 671.9L10.5 670.7L12.1 669.7L13.8 669.1L15.7 668.9L17.6 669.1L19.4 669.7L20.9 670.7L22.1 671.9L22.8 673.3Z" fill="#e868a8"/>
<path d="M41.8 678.6L41.5 680.2L40.5 681.6L38.9 682.9L36.8 683.8L34.4 684.4L31.8 684.6L29.2 684.4L26.8 683.8L24.7 682.9L23.1 681.6L22.1 680.2L21.8 678.6L22.1 677.1L23.1 675.6L24.7 674.4L26.8 673.4L29.2 672.8L31.8 672.6L34.4 672.8L36.8 673.4L38.9 674.4L40.5 675.6L41.5 677.1Z" fill="#f5e41a"/>
<path d="M50.4 678.9L50.2 680.2L49.9 681.4L49.3 682.4L48.5 683.2L47.6 683.8L46.6 683.9L45.7 683.8L44.8 683.2L44.0 682.4L43.4 681.4L43.0 680.2L42.9 678.9L43.0 677.5L43.4 676.3L44.0 675.3L44.8 674.5L45.7 674.0L46.6 673.8L47.6 674.0L48.5 674.5L49.3 675.3L49.9 676.3L50.2 677.5Z" fill="#b06020"/>
<path d="M69.0 675.5L68.8 677.2L68.1 678.7L67.0 680.0L65.5 681.1L63.9 681.7L62.1 681.9L60.3 681.7L58.6 681.1L57.2 680.0L56.1 678.7L55.4 677.2L55.1 675.5L55.4 673.9L56.1 672.3L57.2 671.0L58.6 670.0L60.3 669.3L62.1 669.1L63.9 669.3L65.5 670.0L67.0 671.0L68.1 672.3L68.8 673.9Z" fill="#cfbfe2"/>
<line x1="82.1" y1="655.1" x2="81.6" y2="666.2" stroke="#b050b0" stroke-width="1.26" stroke-linecap="round" opacity="0.85"/>
<path d="M78.9 681.1L78.8 681.3L78.7 681.4L78.6 681.6L78.4 681.7L78.1 681.8L77.9 681.8L77.6 681.8L77.4 681.7L77.2 681.6L77.0 681.4L76.9 681.3L76.9 681.1L76.9 680.9L77.0 680.7L77.2 680.6L77.4 680.4L77.6 680.4L77.9 680.3L78.1 680.4L78.4 680.4L78.6 680.6L78.7 680.7L78.8 680.9Z" fill="#1f7a40"/>
<path d="M65.8 705.8L65.5 707.5L64.7 709.1L63.4 710.5L61.8 711.6L59.8 712.2L57.8 712.5L55.7 712.2L53.7 711.6L52.1 710.5L50.8 709.1L50.0 707.5L49.7 705.8L50.0 704.1L50.8 702.5L52.1 701.1L53.7 700.0L55.7 699.3L57.8 699.1L59.8 699.3L61.8 700.0L63.4 701.1L64.7 702.5L65.5 704.1Z" fill="#a8d191"/>
<path d="M69.2 635.4L69.2 635.8L69.0 636.2L68.8 636.5L68.4 636.7L68.1 636.9L67.6 637.0L67.2 636.9L66.8 636.7L66.5 636.5L66.3 636.2L66.1 635.8L66.0 635.4L66.1 634.9L66.3 634.6L66.5 634.2L66.8 634.0L67.2 633.8L67.6 633.8L68.1 633.8L68.4 634.0L68.8 634.2L69.0 634.6L69.2 634.9Z" fill="#e6e6e8"/>
<path d="M175.6 598.0L180.3 591.9L187.1 589.9L195.2 591.3L199.2 595.3L199.9 603.4L196.5 610.1L193.8 618.2L189.8 616.9L185.7 612.8L180.3 614.2L174.9 607.4Z" fill="#e6e6e8"/>
<path d="M113.3 593.3L119.7 596.6L123.0 601.4L126.2 607.9L124.6 612.7L132.7 612.7L135.9 617.6L131.1 622.4L123.0 623.2L123.0 616.0Z" fill="#8dd7dc"/>
<path d="M110.6 583.0L116.7 581.0L126.2 580.1L135.6 581.7L137.6 587.1L132.9 589.8L128.8 592.5L124.8 596.5L120.8 600.6L115.4 597.9L112.0 591.1Z" fill="#3a62c0"/>
<path d="M121.5 597.6L125.5 592.9L130.9 590.2L137.0 588.9L139.7 594.3L140.3 602.4L141.7 607.8L136.3 609.1L129.6 609.1L124.2 607.8L122.8 603.7Z" fill="#e8383a"/>
<path d="M113.0 630.7L115.7 626.0L121.1 624.7L125.1 628.0L126.4 636.1L125.1 640.9L119.7 641.5L114.3 637.5Z" fill="#e868a8"/>
<path d="M125.3 623.9L129.3 621.2L138.8 620.5L144.2 623.2L144.2 628.6L138.8 631.3L130.7 631.3L126.0 628.6Z" fill="#f5e41a"/>
<path d="M146.8 625.7L149.5 623.7L153.6 625.0L157.6 629.7L154.9 633.1L150.9 633.8L148.2 631.1Z" fill="#b06020"/>
<path d="M153.0 600.1L155.7 595.4L159.8 594.0L162.5 598.1L165.2 603.5L162.5 607.5L159.8 611.6L156.4 612.9L155.1 607.5L153.0 603.5Z" fill="#cfbfe2"/>
<line x1="181.5" y1="612.2" x2="180.7" y2="620.3" stroke="#b050b0" stroke-width="1.27" stroke-linecap="round" opacity="0.85"/>
<path d="M167.5 579.5L167.5 579.7L167.4 579.9L167.2 580.1L166.9 580.2L166.6 580.3L166.3 580.4L166.0 580.3L165.7 580.2L165.4 580.1L165.2 579.9L165.1 579.7L165.0 579.5L165.1 579.3L165.2 579.1L165.4 578.9L165.7 578.7L166.0 578.6L166.3 578.6L166.6 578.6L166.9 578.7L167.2 578.9L167.4 579.1L167.5 579.3Z" fill="#1f7a40"/>
<path d="M142.2 656.0L145.5 650.6L148.2 646.6L152.3 646.6L156.3 652.0L159.0 657.4L156.3 661.4L148.2 662.1Z" fill="#a8d191"/>
<path d="M141.8 578.5L141.7 579.2L141.4 579.8L141.0 580.4L140.4 580.8L139.8 581.1L139.1 581.2L138.4 581.1L137.7 580.8L137.2 580.4L136.7 579.8L136.5 579.2L136.4 578.5L136.5 577.8L136.7 577.1L137.2 576.6L137.7 576.2L138.4 575.9L139.1 575.8L139.8 575.9L140.4 576.2L141.0 576.6L141.4 577.1L141.7 577.8Z" fill="#e6e6e8"/>
<path d="M173.0 617.8L172.9 618.3L172.6 618.8L172.2 619.2L171.6 619.6L171.0 619.8L170.3 619.8L169.6 619.8L168.9 619.6L168.4 619.2L168.0 618.8L167.7 618.3L167.6 617.8L167.7 617.3L168.0 616.8L168.4 616.4L168.9 616.1L169.6 615.9L170.3 615.8L171.0 615.9L171.6 616.1L172.2 616.4L172.6 616.8L172.9 617.3Z" fill="#e6e6e8"/>
<path d="M296.0 599.4L295.6 602.7L294.3 605.8L292.3 608.4L289.7 610.4L286.6 611.7L283.3 612.1L280.0 611.7L277.0 610.4L274.4 608.4L272.3 605.8L271.1 602.7L270.6 599.4L271.1 596.1L272.3 593.1L274.4 590.5L277.0 588.4L280.0 587.2L283.3 586.7L286.6 587.2L289.7 588.4L292.3 590.5L294.3 593.1L295.6 596.1Z" fill="#e6e6e8"/>
<path d="M222.6 595.5L232.2 598.7L238.6 609.9L237.0 614.7L224.2 614.7L221.0 611.5L225.8 605.1Z" fill="#8dd7dc"/>
<path d="M212.4 584.3L223.7 579.0L238.4 576.3L240.4 580.3L234.4 583.0L231.7 588.3L230.4 597.7L227.7 600.3L221.0 597.7L217.0 592.3Z" fill="#3a62c0"/>
<path d="M228.9 595.8L230.9 587.8L233.6 582.5L240.2 581.1L245.6 589.1L249.6 594.5L246.9 601.2L240.2 603.8L234.9 605.2L230.9 602.5Z" fill="#e8383a"/>
<path d="M222.7 624.1L222.5 626.0L221.7 627.8L220.4 629.3L218.7 630.5L216.8 631.2L214.7 631.5L212.7 631.2L210.7 630.5L209.1 629.3L207.8 627.8L207.0 626.0L206.7 624.1L207.0 622.2L207.8 620.5L209.1 618.9L210.7 617.8L212.7 617.0L214.7 616.8L216.8 617.0L218.7 617.8L220.4 618.9L221.7 620.5L222.5 622.2Z" fill="#e868a8"/>
<path d="M240.2 622.9L239.9 624.6L238.9 626.1L237.3 627.4L235.2 628.4L232.8 629.1L230.2 629.3L227.6 629.1L225.2 628.4L223.1 627.4L221.5 626.1L220.5 624.6L220.2 622.9L220.5 621.2L221.5 619.7L223.1 618.4L225.2 617.4L227.6 616.7L230.2 616.5L232.8 616.7L235.2 617.4L237.3 618.4L238.9 619.7L239.9 621.2Z" fill="#f5e41a"/>
<path d="M232.8 634.2L234.8 630.1L241.5 626.8L244.8 628.8L244.2 632.8L238.8 636.8L234.2 636.8Z" fill="#b06020"/>
<path d="M262.8 624.1L262.6 625.9L261.9 627.5L260.9 628.9L259.5 629.9L257.9 630.6L256.1 630.8L254.4 630.6L252.8 629.9L251.4 628.9L250.4 627.5L249.7 625.9L249.5 624.1L249.7 622.4L250.4 620.8L251.4 619.4L252.8 618.4L254.4 617.7L256.1 617.5L257.9 617.7L259.5 618.4L260.9 619.4L261.9 620.8L262.6 622.4Z" fill="#cfbfe2"/>
<line x1="279.6" y1="609.3" x2="279.0" y2="618.0" stroke="#b050b0" stroke-width="1.47" stroke-linecap="round" opacity="0.85"/>
<path d="M278.1 624.1L278.1 624.4L278.0 624.6L277.8 624.8L277.6 625.0L277.4 625.1L277.1 625.1L276.9 625.1L276.6 625.0L276.4 624.8L276.3 624.6L276.2 624.4L276.2 624.1L276.2 623.9L276.3 623.6L276.4 623.4L276.6 623.3L276.9 623.2L277.1 623.1L277.4 623.2L277.6 623.3L277.8 623.4L278.0 623.6L278.1 623.9Z" fill="#1f7a40"/>
<path d="M264.8 653.2L264.5 655.1L263.6 656.8L262.3 658.4L260.5 659.5L258.4 660.3L256.1 660.5L253.9 660.3L251.8 659.5L250.0 658.4L248.6 656.8L247.8 655.1L247.5 653.2L247.8 651.3L248.6 649.5L250.0 648.0L251.8 646.8L253.9 646.1L256.1 645.8L258.4 646.1L260.5 646.8L262.3 648.0L263.6 649.5L264.5 651.3Z" fill="#a8d191"/>
<path d="M224.9 656.3L224.8 657.6L224.4 658.9L223.7 660.0L222.9 660.9L222.0 661.4L220.9 661.6L219.9 661.4L218.9 660.9L218.1 660.0L217.5 658.9L217.1 657.6L216.9 656.3L217.1 654.9L217.5 653.6L218.1 652.5L218.9 651.6L219.9 651.1L220.9 650.9L222.0 651.1L222.9 651.6L223.7 652.5L224.4 653.6L224.8 654.9Z" fill="#e6e6e8"/>
<path d="M279.8 646.4L279.7 647.0L279.5 647.6L279.0 648.1L278.5 648.5L277.8 648.7L277.1 648.8L276.4 648.7L275.8 648.5L275.3 648.1L274.8 647.6L274.6 647.0L274.5 646.4L274.6 645.8L274.8 645.2L275.3 644.7L275.8 644.3L276.4 644.1L277.1 644.0L277.8 644.1L278.5 644.3L279.0 644.7L279.5 645.2L279.7 645.8Z" fill="#e6e6e8"/>
<path d="M287.8 631.5L287.7 632.1L287.5 632.5L287.2 633.0L286.8 633.3L286.3 633.5L285.8 633.5L285.3 633.5L284.8 633.3L284.4 633.0L284.1 632.5L283.9 632.1L283.8 631.5L283.9 631.0L284.1 630.5L284.4 630.1L284.8 629.8L285.3 629.6L285.8 629.5L286.3 629.6L286.8 629.8L287.2 630.1L287.5 630.5L287.7 631.0Z" fill="#e6e6e8"/>
<path d="M268.0 585.8L268.0 586.3L267.8 586.8L267.4 587.2L267.0 587.6L266.5 587.8L266.0 587.8L265.5 587.8L265.0 587.6L264.6 587.2L264.3 586.8L264.1 586.3L264.0 585.8L264.1 585.3L264.3 584.8L264.6 584.4L265.0 584.1L265.5 583.9L266.0 583.8L266.5 583.9L267.0 584.1L267.4 584.4L267.8 584.8L268.0 585.3Z" fill="#e6e6e8"/>
<path d="M367.3 593.9L373.9 589.9L383.3 588.6L390.0 592.6L392.0 599.2L388.6 607.2L386.0 613.9L380.6 615.2L376.6 609.9L371.3 607.2L367.3 601.9Z" fill="#e6e6e8"/>
<path d="M315.8 595.7L322.2 594.1L324.6 602.1L331.8 608.5L335.1 613.3L330.2 616.5L317.4 616.5L315.0 611.7L319.8 606.9L320.6 600.5Z" fill="#8dd7dc"/>
<path d="M311.6 581.8L319.6 577.1L331.6 575.8L339.6 577.1L341.0 581.8L337.0 584.5L330.3 587.1L324.9 592.5L321.6 597.8L316.9 598.5L313.6 592.5L312.3 587.1Z" fill="#3a62c0"/>
<path d="M321.6 597.0L324.9 591.0L330.9 586.4L336.3 583.7L340.3 584.4L342.3 591.7L343.0 598.4L340.3 603.7L335.0 606.4L328.3 607.1L324.3 603.7Z" fill="#e8383a"/>
<path d="M318.1 622.3L317.8 624.2L317.1 626.0L315.9 627.5L314.4 628.6L312.6 629.4L310.7 629.6L308.8 629.4L307.1 628.6L305.5 627.5L304.4 626.0L303.6 624.2L303.4 622.3L303.6 620.4L304.4 618.6L305.5 617.1L307.1 615.9L308.8 615.2L310.7 614.9L312.6 615.2L314.4 615.9L315.9 617.1L317.1 618.6L317.8 620.4Z" fill="#e868a8"/>
<path d="M335.6 622.3L335.2 623.8L334.2 625.3L332.6 626.5L330.6 627.5L328.2 628.1L325.6 628.3L323.0 628.1L320.6 627.5L318.5 626.5L316.9 625.3L315.9 623.8L315.6 622.3L315.9 620.7L316.9 619.3L318.5 618.0L320.6 617.1L323.0 616.5L325.6 616.3L328.2 616.5L330.6 617.1L332.6 618.0L334.2 619.3L335.2 620.7Z" fill="#f5e41a"/>
<path d="M328.2 630.3L334.9 626.3L340.2 623.6L340.9 630.3L336.2 634.3L332.2 635.6L328.9 633.6Z" fill="#b06020"/>
<path d="M357.6 623.5L357.3 625.6L356.7 627.5L355.6 629.2L354.2 630.5L352.6 631.3L350.9 631.5L349.2 631.3L347.6 630.5L346.2 629.2L345.1 627.5L344.5 625.6L344.2 623.5L344.5 621.4L345.1 619.5L346.2 617.9L347.6 616.6L349.2 615.8L350.9 615.5L352.6 615.8L354.2 616.6L355.6 617.9L356.7 619.5L357.3 621.4Z" fill="#cfbfe2"/>
<line x1="375.6" y1="610.5" x2="375.0" y2="618.6" stroke="#b050b0" stroke-width="1.26" stroke-linecap="round" opacity="0.85"/>
<path d="M360.3 585.0L360.3 585.2L360.2 585.5L360.0 585.7L359.8 585.8L359.6 585.9L359.3 586.0L359.0 585.9L358.8 585.8L358.6 585.7L358.4 585.5L358.3 585.2L358.3 585.0L358.3 584.7L358.4 584.5L358.6 584.3L358.8 584.1L359.0 584.0L359.3 584.0L359.6 584.0L359.8 584.1L360.0 584.3L360.2 584.5L360.3 584.7Z" fill="#1f7a40"/>
<path d="M354.0 654.4L353.7 656.3L352.8 658.1L351.5 659.6L349.7 660.8L347.6 661.5L345.3 661.7L343.1 661.5L341.0 660.8L339.2 659.6L337.8 658.1L337.0 656.3L336.7 654.4L337.0 652.5L337.8 650.7L339.2 649.2L341.0 648.1L343.1 647.3L345.3 647.1L347.6 647.3L349.7 648.1L351.5 649.2L352.8 650.7L353.7 652.5Z" fill="#a8d191"/>
<path d="M318.1 650.1L317.8 651.5L317.1 652.8L315.9 653.9L314.4 654.7L312.6 655.2L310.7 655.4L308.8 655.2L307.1 654.7L305.5 653.9L304.4 652.8L303.6 651.5L303.4 650.1L303.6 648.7L304.4 647.4L305.5 646.3L307.1 645.5L308.8 644.9L310.7 644.7L312.6 644.9L314.4 645.5L315.9 646.3L317.1 647.4L317.8 648.7Z" fill="#e6e6e8"/>
<path d="M369.1 647.0L368.9 647.7L368.6 648.3L368.1 648.9L367.4 649.3L366.6 649.6L365.7 649.7L364.9 649.6L364.1 649.3L363.4 648.9L362.8 648.3L362.5 647.7L362.4 647.0L362.5 646.3L362.8 645.7L363.4 645.1L364.1 644.7L364.9 644.4L365.7 644.3L366.6 644.4L367.4 644.7L368.1 645.1L368.6 645.7L368.9 646.3Z" fill="#e6e6e8"/>
<path d="M377.8 632.8L377.8 633.3L377.6 633.8L377.4 634.2L377.0 634.5L376.6 634.7L376.2 634.8L375.8 634.7L375.4 634.5L375.1 634.2L374.8 633.8L374.7 633.3L374.6 632.8L374.7 632.3L374.8 631.8L375.1 631.4L375.4 631.0L375.8 630.8L376.2 630.8L376.6 630.8L377.0 631.0L377.4 631.4L377.6 631.8L377.8 632.3Z" fill="#e6e6e8"/>
<path d="M362.1 597.6L362.1 598.0L361.9 598.4L361.7 598.7L361.5 599.0L361.1 599.1L360.8 599.2L360.4 599.1L360.1 599.0L359.8 598.7L359.6 598.4L359.5 598.0L359.4 597.6L359.5 597.2L359.6 596.8L359.8 596.4L360.1 596.2L360.4 596.0L360.8 596.0L361.1 596.0L361.5 596.2L361.7 596.4L361.9 596.8L362.1 597.2Z" fill="#e6e6e8"/>
<path d="M463.8 594.6L469.9 588.6L479.2 587.2L486.5 591.2L488.5 597.9L485.9 605.9L484.5 612.6L479.2 615.9L475.2 611.3L468.5 608.6L464.5 603.3Z" fill="#e6e6e8"/>
<path d="M408.2 612.5L414.6 609.3L422.6 609.3L425.8 614.1L421.0 620.5L409.8 621.3L406.6 617.3Z" fill="#8dd7dc"/>
<path d="M404.4 589.8L410.0 596.2L414.1 605.8L410.0 605.8L406.8 599.4Z" fill="#8dd7dc"/>
<path d="M403.8 581.7L409.2 577.0L417.2 575.7L426.5 577.7L432.5 581.7L433.2 587.1L429.2 588.4L422.5 589.7L415.9 593.7L411.9 601.7L408.5 599.1L404.5 592.4Z" fill="#3a62c0"/>
<path d="M411.4 599.5L414.1 594.2L420.8 590.2L427.5 587.5L432.1 588.9L432.8 596.9L431.5 603.5L426.1 607.5L419.5 607.5L414.1 604.9Z" fill="#e8383a"/>
<path d="M416.2 629.1L416.0 631.2L415.1 633.2L413.8 634.9L412.1 636.2L410.1 637.1L408.0 637.4L405.8 637.1L403.8 636.2L402.1 634.9L400.8 633.2L400.0 631.2L399.7 629.1L400.0 626.9L400.8 624.9L402.1 623.2L403.8 621.9L405.8 621.1L408.0 620.8L410.1 621.1L412.1 621.9L413.8 623.2L415.1 624.9L416.0 626.9Z" fill="#e868a8"/>
<path d="M433.5 625.4L433.1 626.9L432.0 628.4L430.4 629.6L428.1 630.6L425.6 631.2L422.8 631.4L420.0 631.2L417.5 630.6L415.3 629.6L413.6 628.4L412.5 626.9L412.1 625.4L412.5 623.8L413.6 622.4L415.3 621.1L417.5 620.2L420.0 619.6L422.8 619.4L425.6 619.6L428.1 620.2L430.4 621.1L432.0 622.4L433.1 623.8Z" fill="#f5e41a"/>
<path d="M434.2 626.4L436.9 623.0L440.9 626.4L443.6 632.4L439.6 635.7L434.2 633.7Z" fill="#b06020"/>
<path d="M437.6 612.9L444.3 608.9L452.3 609.6L455.7 612.3L452.3 614.9L447.0 619.6L440.3 618.9L437.0 616.3Z" fill="#cfbfe2"/>
<line x1="471.9" y1="610.5" x2="471.0" y2="618.0" stroke="#b050b0" stroke-width="1.26" stroke-linecap="round" opacity="0.85"/>
<path d="M454.6 585.0L454.5 585.3L454.4 585.5L454.2 585.7L454.0 585.9L453.7 586.0L453.4 586.1L453.2 586.0L452.9 585.9L452.7 585.7L452.5 585.5L452.4 585.3L452.3 585.0L452.4 584.7L452.5 584.4L452.7 584.2L452.9 584.0L453.2 583.9L453.4 583.9L453.7 583.9L454.0 584.0L454.2 584.2L454.4 584.4L454.5 584.7Z" fill="#1f7a40"/>
<path d="M432.7 652.5L436.7 646.4L442.0 644.4L447.4 648.5L450.1 656.5L446.1 661.1L438.0 661.8L433.4 659.1Z" fill="#a8d191"/>
<path d="M464.3 624.1L464.3 624.5L464.1 624.8L463.8 625.1L463.3 625.3L462.9 625.4L462.3 625.5L461.8 625.4L461.3 625.3L460.9 625.1L460.6 624.8L460.4 624.5L460.3 624.1L460.4 623.8L460.6 623.5L460.9 623.2L461.3 623.0L461.8 622.8L462.3 622.8L462.9 622.8L463.3 623.0L463.8 623.2L464.1 623.5L464.3 623.8Z" fill="#e6e6e8"/>
<path d="M561.2 596.4L567.2 591.7L576.5 590.4L583.2 595.0L583.9 603.1L581.2 611.1L577.9 617.7L573.9 617.1L569.9 611.1L564.5 608.4L561.2 603.1Z" fill="#e6e6e8"/>
<path d="M512.8 613.3L519.2 609.3L527.2 609.3L529.6 614.1L525.6 618.9L516.0 620.5L512.0 617.3Z" fill="#8dd7dc"/>
<path d="M515.7 589.7L519.7 597.7L522.1 605.8L518.9 605.8L516.5 599.3Z" fill="#8dd7dc"/>
<path d="M515.5 580.1L522.8 577.5L533.5 578.1L540.2 582.8L542.2 589.5L537.5 591.5L530.8 592.1L525.5 594.8L522.2 600.1L520.2 605.5L517.5 600.1L515.5 592.1Z" fill="#3a62c0"/>
<path d="M521.8 599.4L524.5 594.1L530.5 590.7L537.2 590.1L541.2 592.7L540.5 600.7L537.2 607.4L530.5 608.8L523.8 607.4L521.8 603.4Z" fill="#e8383a"/>
<path d="M496.0 619.1L499.3 613.8L506.0 612.5L510.0 615.1L510.7 621.8L508.7 625.8L500.7 626.5L496.7 624.5Z" fill="#e868a8"/>
<path d="M509.5 621.4L512.9 619.4L522.2 620.1L528.9 623.4L527.5 628.1L520.9 630.1L512.9 628.1L509.5 625.4Z" fill="#f5e41a"/>
<path d="M528.5 625.8L533.8 624.4L535.2 627.1L533.8 633.1L528.5 633.8L527.8 629.1Z" fill="#b06020"/>
<path d="M541.9 622.0L545.9 620.0L551.9 619.4L553.9 624.0L552.6 631.4L547.9 632.0L542.6 630.0L541.2 625.4Z" fill="#cfbfe2"/>
<line x1="567.6" y1="613.0" x2="567.4" y2="620.4" stroke="#b050b0" stroke-width="1.16" stroke-linecap="round" opacity="0.85"/>
<path d="M559.7 616.5L559.7 616.7L559.6 617.0L559.4 617.2L559.2 617.3L559.0 617.4L558.7 617.5L558.5 617.4L558.2 617.3L558.0 617.2L557.9 617.0L557.8 616.7L557.7 616.5L557.8 616.2L557.9 616.0L558.0 615.8L558.2 615.6L558.5 615.5L558.7 615.5L559.0 615.5L559.2 615.6L559.4 615.8L559.6 616.0L559.7 616.2Z" fill="#1f7a40"/>
<path d="M528.7 652.4L532.0 647.1L538.0 645.8L543.4 649.8L546.1 656.5L542.1 661.1L534.7 660.5L529.4 657.8Z" fill="#a8d191"/>
<path d="M542.8 578.4L542.7 579.0L542.5 579.6L542.1 580.1L541.6 580.5L541.0 580.7L540.4 580.8L539.8 580.7L539.2 580.5L538.7 580.1L538.3 579.6L538.1 579.0L538.0 578.4L538.1 577.8L538.3 577.2L538.7 576.7L539.2 576.3L539.8 576.1L540.4 576.0L541.0 576.1L541.6 576.3L542.1 576.7L542.5 577.2L542.7 577.8Z" fill="#e6e6e8"/>
<path d="M658.2 600.1L661.5 594.1L662.9 587.4L669.6 584.8L677.6 587.4L680.9 594.1L680.2 602.1L678.9 608.8L676.2 611.5L672.2 607.4L666.9 603.4L661.5 604.8L657.5 603.4Z" fill="#e6e6e8"/>
<path d="M606.1 595.3L612.5 596.9L618.9 600.9L622.1 607.3L617.3 613.7L609.3 613.7L608.5 608.9L612.5 604.1Z" fill="#8dd7dc"/>
<path d="M593.1 589.7L595.8 583.0L603.8 578.4L615.8 575.7L618.5 577.7L617.2 583.0L613.8 588.4L612.5 596.4L609.8 599.0L602.5 596.4L595.8 593.7Z" fill="#3a62c0"/>
<path d="M611.3 596.0L612.0 586.7L616.0 581.3L620.0 580.0L625.4 585.3L632.0 589.4L632.7 597.4L629.4 601.4L621.4 601.4L614.7 599.4Z" fill="#e8383a"/>
<path d="M592.2 621.5L594.9 617.5L602.9 616.2L606.9 618.2L610.9 624.2L612.2 628.2L606.9 629.5L598.9 628.2L592.9 625.5Z" fill="#e868a8"/>
<path d="M605.2 616.5L609.9 614.5L620.6 614.5L625.9 617.9L624.6 622.5L617.9 623.9L608.5 623.2L605.9 620.5Z" fill="#f5e41a"/>
<path d="M617.8 627.9L621.1 625.2L627.8 623.2L631.1 625.2L630.5 629.2L623.8 631.2L619.1 631.9Z" fill="#b06020"/>
<path d="M635.6 613.3L639.7 611.3L646.3 613.3L650.3 616.6L649.7 623.3L646.3 625.9L639.7 623.3L636.3 619.3Z" fill="#cfbfe2"/>
<line x1="665.8" y1="604.4" x2="665.6" y2="613.0" stroke="#b050b0" stroke-width="1.26" stroke-linecap="round" opacity="0.85"/>
<path d="M666.6 622.3L666.6 622.5L666.5 622.8L666.3 623.0L666.1 623.1L665.9 623.2L665.6 623.3L665.3 623.2L665.1 623.1L664.9 623.0L664.7 622.8L664.6 622.5L664.6 622.3L664.6 622.0L664.7 621.8L664.9 621.6L665.1 621.4L665.3 621.3L665.6 621.3L665.9 621.3L666.1 621.4L666.3 621.6L666.5 621.8L666.6 622.0Z" fill="#1f7a40"/>
<path d="M638.1 645.2L640.8 638.5L646.1 635.9L652.8 639.2L654.8 645.2L650.8 650.5L644.8 651.2L639.4 648.5Z" fill="#a8d191"/>
<path d="M610.9 657.5L616.2 648.2L620.2 652.2L625.6 656.2L626.9 661.5L620.2 662.9L612.2 660.2Z" fill="#e6e6e8"/>
<path d="M675.3 631.5L675.2 632.1L675.0 632.5L674.7 633.0L674.3 633.3L673.8 633.5L673.3 633.5L672.7 633.5L672.3 633.3L671.8 633.0L671.5 632.5L671.3 632.1L671.3 631.5L671.3 631.0L671.5 630.5L671.8 630.1L672.3 629.8L672.7 629.6L673.3 629.5L673.8 629.6L674.3 629.8L674.7 630.1L675.0 630.5L675.2 631.0Z" fill="#e6e6e8"/>
<path d="M670.3 645.8L670.3 646.1L670.1 646.4L669.7 646.7L669.3 646.9L668.8 647.0L668.3 647.1L667.8 647.0L667.3 646.9L666.9 646.7L666.6 646.4L666.4 646.1L666.3 645.8L666.4 645.4L666.6 645.1L666.9 644.8L667.3 644.6L667.8 644.5L668.3 644.4L668.8 644.5L669.3 644.6L669.7 644.8L670.1 645.1L670.3 645.4Z" fill="#e6e6e8"/>
<path d="M652.5 590.8L652.4 591.2L652.1 591.6L651.7 591.9L651.1 592.2L650.5 592.3L649.8 592.4L649.1 592.3L648.4 592.2L647.9 591.9L647.5 591.6L647.2 591.2L647.1 590.8L647.2 590.4L647.5 590.0L647.9 589.6L648.4 589.4L649.1 589.2L649.8 589.2L650.5 589.2L651.1 589.4L651.7 589.6L652.1 590.0L652.4 590.4Z" fill="#e6e6e8"/>
<path d="M752.2 599.0L757.6 595.0L762.9 591.7L770.9 591.7L776.3 596.3L776.3 603.0L773.6 608.3L772.9 615.0L769.6 618.3L765.6 616.3L761.6 613.7L756.2 609.7L751.6 604.3Z" fill="#e6e6e8"/>
<path d="M705.5 583.9L710.3 587.1L711.9 596.7L713.5 604.7L710.3 611.2L705.5 604.7L704.7 595.1Z" fill="#8dd7dc"/>
<path d="M699.1 612.0L704.7 607.2L713.5 605.6L718.3 608.8L715.1 613.6L708.7 615.2L700.7 615.2Z" fill="#8dd7dc"/>
<path d="M707.8 581.8L709.8 576.5L717.1 575.1L727.8 577.1L734.5 582.5L735.8 588.5L731.8 589.8L726.5 589.8L721.1 591.1L714.4 593.8L710.4 597.8L709.1 589.8Z" fill="#3a62c0"/>
<path d="M710.4 595.6L714.4 591.6L721.0 588.9L729.0 587.6L734.4 588.3L731.7 595.6L730.4 602.3L725.0 606.3L718.4 607.6L712.4 604.9L710.4 600.9Z" fill="#e8383a"/>
<path d="M688.3 619.0L692.3 613.7L699.0 612.3L700.3 617.7L704.3 625.7L704.3 629.0L697.6 629.0L690.3 625.7Z" fill="#e868a8"/>
<path d="M698.7 617.7L702.0 615.1L710.0 614.4L716.7 616.4L719.4 620.4L718.0 625.1L712.7 627.7L704.7 626.4L699.3 623.1Z" fill="#f5e41a"/>
<path d="M712.7 629.0L716.0 625.7L721.4 625.0L722.7 627.7L720.0 633.0L716.0 635.0L712.3 633.0Z" fill="#b06020"/>
<path d="M727.4 621.4L730.7 618.0L736.1 618.0L740.1 622.7L740.7 628.0L737.4 633.4L731.4 633.4L727.4 629.4Z" fill="#cfbfe2"/>
<line x1="759.4" y1="613.0" x2="757.5" y2="620.4" stroke="#b050b0" stroke-width="1.26" stroke-linecap="round" opacity="0.85"/>
<path d="M747.2 613.5L747.1 613.7L746.9 613.8L746.6 613.9L746.3 613.9L745.9 613.8L745.5 613.7L745.2 613.6L744.9 613.4L744.6 613.1L744.4 612.9L744.4 612.7L744.4 612.5L744.5 612.3L744.7 612.2L745.0 612.2L745.3 612.2L745.7 612.2L746.0 612.3L746.4 612.5L746.7 612.7L746.9 612.9L747.1 613.1L747.2 613.3Z" fill="#1f7a40"/>
<path d="M718.0 651.2L720.6 645.9L726.0 645.2L731.3 649.2L735.3 652.5L734.0 657.9L727.3 660.6L720.6 658.6Z" fill="#a8d191"/>
<path d="M728.6 608.7L728.5 609.1L728.4 609.5L728.2 609.8L727.9 610.1L727.6 610.2L727.2 610.3L726.9 610.2L726.6 610.1L726.3 609.8L726.1 609.5L726.0 609.1L725.9 608.7L726.0 608.3L726.1 607.9L726.3 607.6L726.6 607.3L726.9 607.1L727.2 607.1L727.6 607.1L727.9 607.3L728.2 607.6L728.4 607.9L728.5 608.3Z" fill="#e8383a"/>
<path d="M172.3 713.6L177.0 709.0L179.7 703.6L186.3 701.6L194.3 702.3L199.0 707.6L199.7 715.6L197.0 723.7L193.0 727.7L187.7 727.7L182.3 723.7L177.0 721.0L173.0 718.3Z" fill="#e6e6e8"/>
<path d="M128.9 692.5L133.8 694.9L134.6 706.9L137.0 716.5L135.4 724.5L130.5 727.7L125.7 726.9L126.5 719.7L130.5 713.3L129.7 703.7Z" fill="#8dd7dc"/>
<path d="M132.3 693.1L135.0 686.4L141.7 685.1L151.0 687.7L157.0 694.4L157.7 701.1L154.4 705.1L149.7 701.8L143.0 701.8L137.7 702.4L133.7 703.8L132.3 698.4Z" fill="#3a62c0"/>
<path d="M133.0 702.9L137.7 700.9L145.7 698.9L152.4 699.6L155.7 704.2L152.4 709.6L148.4 714.9L141.7 716.9L135.7 715.6L133.0 710.9Z" fill="#e8383a"/>
<path d="M111.7 730.3L115.7 725.6L122.4 724.9L123.7 730.3L123.7 736.9L121.1 739.6L114.4 738.3L111.4 734.3Z" fill="#e868a8"/>
<path d="M123.1 729.5L127.8 727.5L138.5 728.2L143.8 731.5L143.8 735.5L138.5 738.9L129.2 738.2L123.8 736.2Z" fill="#f5e41a"/>
<path d="M138.3 739.1L143.0 734.4L147.7 733.7L149.0 737.7L147.0 742.4L143.0 743.8L138.7 741.8Z" fill="#b06020"/>
<path d="M151.9 729.0L155.2 726.3L160.6 726.3L164.3 730.3L164.6 735.6L160.6 738.3L155.2 737.6L151.9 734.3Z" fill="#cfbfe2"/>
<line x1="177.1" y1="719.3" x2="174.6" y2="725.5" stroke="#b050b0" stroke-width="1.26" stroke-linecap="round" opacity="0.85"/>
<path d="M167.8 721.2L167.7 721.4L167.5 721.5L167.2 721.7L166.9 721.8L166.4 721.9L165.9 721.9L165.5 721.9L165.0 721.8L164.6 721.7L164.3 721.5L164.1 721.4L164.1 721.2L164.1 721.0L164.3 720.8L164.6 720.6L165.0 720.5L165.5 720.4L165.9 720.4L166.4 720.4L166.9 720.5L167.2 720.6L167.5 720.8L167.7 721.0Z" fill="#1f7a40"/>
<path d="M141.9 761.3L145.2 754.6L149.2 753.9L153.9 757.3L158.5 761.9L156.5 768.6L150.5 770.6L143.2 767.3Z" fill="#a8d191"/>
<path d="M151.2 719.3L151.2 719.8L151.0 720.2L150.8 720.6L150.5 720.9L150.2 721.1L149.9 721.2L149.5 721.1L149.2 720.9L148.9 720.6L148.7 720.2L148.6 719.8L148.5 719.3L148.6 718.8L148.7 718.4L148.9 718.0L149.2 717.7L149.5 717.5L149.9 717.4L150.2 717.5L150.5 717.7L150.8 718.0L151.0 718.4L151.2 718.8Z" fill="#e8383a"/>
<path d="M271.2 706.7L275.2 702.0L279.2 697.3L287.2 695.3L293.9 698.7L296.6 705.3L295.2 713.3L293.9 720.0L291.2 724.0L287.2 722.7L281.9 718.7L276.5 718.7L271.9 713.3Z" fill="#e6e6e8"/>
<path d="M214.2 698.8L219.8 704.4L223.8 711.6L227.0 721.2L233.4 722.8L238.3 727.6L231.8 731.6L220.6 730.8L219.0 724.4L223.0 718.0L219.0 710.0Z" fill="#8dd7dc"/>
<path d="M213.8 691.8L217.1 686.4L226.4 685.1L235.8 687.1L241.1 691.8L241.8 697.1L238.5 699.1L233.1 699.8L227.8 701.8L223.8 705.8L220.4 708.4L215.8 703.8L213.8 698.4Z" fill="#3a62c0"/>
<path d="M222.0 705.5L227.4 700.9L234.1 698.9L240.7 697.5L241.4 704.2L240.1 712.2L236.7 716.9L230.1 717.5L224.0 714.9L222.0 710.9Z" fill="#e8383a"/>
<path d="M209.3 734.0L212.6 728.0L218.6 726.6L222.0 730.0L223.3 738.0L222.0 743.3L217.3 745.3L211.3 742.0L209.3 738.0Z" fill="#e868a8"/>
<path d="M219.5 734.1L223.5 730.7L231.5 729.4L239.5 730.1L242.2 734.1L240.8 739.4L234.1 740.7L224.8 738.7L220.1 736.7Z" fill="#f5e41a"/>
<path d="M242.1 729.6L244.8 727.6L250.2 730.3L252.8 732.9L251.5 736.3L248.2 736.3L242.8 732.9Z" fill="#b06020"/>
<path d="M249.5 718.0L252.1 712.7L256.1 710.7L261.5 714.0L262.1 719.3L260.1 724.7L256.1 727.4L251.5 723.4Z" fill="#cfbfe2"/>
<line x1="279.0" y1="720.5" x2="279.6" y2="728.0" stroke="#b050b0" stroke-width="1.26" stroke-linecap="round" opacity="0.85"/>
<path d="M274.9 737.6L274.9 737.9L274.8 738.1L274.6 738.4L274.4 738.6L274.1 738.7L273.8 738.7L273.5 738.7L273.2 738.6L273.0 738.4L272.8 738.1L272.7 737.9L272.7 737.6L272.7 737.3L272.8 737.0L273.0 736.8L273.2 736.6L273.5 736.5L273.8 736.5L274.1 736.5L274.4 736.6L274.6 736.8L274.8 737.0L274.9 737.3Z" fill="#1f7a40"/>
<path d="M241.3 761.3L244.6 755.9L248.6 753.9L252.6 757.2L257.3 761.3L256.7 767.9L251.3 771.3L244.6 768.6Z" fill="#a8d191"/>
<path d="M216.8 709.4L216.7 709.9L216.4 710.4L216.0 710.8L215.5 711.2L214.8 711.4L214.1 711.4L213.4 711.4L212.8 711.2L212.2 710.8L211.8 710.4L211.5 709.9L211.5 709.4L211.5 708.9L211.8 708.4L212.2 708.0L212.8 707.7L213.4 707.5L214.1 707.4L214.8 707.5L215.5 707.7L216.0 708.0L216.4 708.4L216.7 708.9Z" fill="#e6e6e8"/>
<path d="M366.0 709.5L368.6 702.9L372.6 694.9L380.6 692.2L388.6 694.2L392.0 701.5L390.6 709.5L390.0 716.2L386.0 720.2L382.0 718.9L378.0 714.9L372.6 714.2L367.3 714.2Z" fill="#e6e6e8"/>
<path d="M304.9 701.5L311.3 704.8L317.8 712.0L319.4 716.8L325.8 721.6L325.8 728.0L317.8 730.4L313.8 725.6L317.8 718.4L313.8 712.0Z" fill="#8dd7dc"/>
<path d="M303.5 694.4L305.5 688.4L314.9 685.8L325.5 685.8L334.2 687.8L334.9 693.1L329.5 695.1L324.2 696.4L318.9 699.1L316.2 702.4L315.5 706.5L312.2 708.5L306.9 706.5L303.5 701.1Z" fill="#3a62c0"/>
<path d="M314.8 705.8L316.8 700.5L323.5 696.5L328.8 694.5L334.1 693.8L335.5 701.8L336.1 708.5L332.8 713.2L326.1 714.5L319.5 713.2Z" fill="#e8383a"/>
<path d="M303.9 735.2L307.2 729.9L313.9 728.5L319.2 732.5L323.2 739.2L321.9 743.2L315.2 745.2L307.9 743.2L303.9 739.2Z" fill="#e868a8"/>
<path d="M316.2 731.5L320.3 728.2L328.9 726.9L334.3 729.5L334.3 735.5L328.9 739.5L322.3 738.9L316.9 735.5Z" fill="#f5e41a"/>
<path d="M332.6 740.3L335.9 737.0L340.6 735.0L343.9 737.0L342.6 741.7L338.6 744.4L333.9 743.7Z" fill="#b06020"/>
<path d="M346.8 720.1L350.1 717.4L354.8 718.8L359.4 722.8L358.8 729.4L356.1 734.8L352.1 734.8L348.1 730.8L346.1 725.4Z" fill="#cfbfe2"/>
<line x1="375.0" y1="714.4" x2="374.4" y2="723.6" stroke="#b050b0" stroke-width="1.26" stroke-linecap="round" opacity="0.85"/>
<path d="M354.6 703.9L354.6 704.1L354.4 704.3L354.2 704.5L354.0 704.6L353.7 704.7L353.4 704.7L353.0 704.7L352.8 704.6L352.5 704.5L352.3 704.3L352.2 704.1L352.1 703.9L352.2 703.6L352.3 703.4L352.5 703.2L352.8 703.1L353.0 703.0L353.4 703.0L353.7 703.0L354.0 703.1L354.2 703.2L354.4 703.4L354.6 703.6Z" fill="#1f7a40"/>
<path d="M336.8 761.2L339.4 757.2L344.1 754.5L348.8 756.5L352.1 761.2L351.5 767.9L346.1 771.2L339.4 770.5L336.8 766.5Z" fill="#a8d191"/>
<path d="M363.4 692.7L363.3 693.1L363.1 693.4L362.8 693.7L362.4 693.9L361.9 694.0L361.4 694.1L360.9 694.0L360.4 693.9L360.0 693.7L359.7 693.4L359.5 693.1L359.4 692.7L359.5 692.4L359.7 692.1L360.0 691.8L360.4 691.6L360.9 691.4L361.4 691.4L361.9 691.4L362.4 691.6L362.8 691.8L363.1 692.1L363.3 692.4Z" fill="#e6e6e8"/>
<path d="M462.0 711.9L466.0 706.5L469.3 701.2L476.6 699.2L484.6 701.9L488.0 707.2L486.7 713.9L483.3 718.5L484.0 722.5L478.0 723.2L472.6 719.9L467.3 717.2L462.6 715.2Z" fill="#e6e6e8"/>
<path d="M423.2 697.7L426.9 704.1L428.5 710.6L424.5 711.4L422.9 704.1Z" fill="#8dd7dc"/>
<path d="M416.4 716.8L422.0 714.4L430.0 715.2L431.6 720.8L425.2 724.8L418.8 724.0L415.6 720.8Z" fill="#8dd7dc"/>
<path d="M423.3 690.5L426.7 685.8L436.0 685.1L444.0 687.8L446.0 693.2L443.4 695.8L438.7 697.2L433.3 699.8L428.7 702.5L426.7 706.5L424.0 706.5L422.9 699.8Z" fill="#3a62c0"/>
<path d="M427.1 702.9L430.4 700.3L437.1 698.9L442.4 701.6L444.5 706.9L442.4 712.3L438.4 714.3L431.8 714.3L427.8 711.0Z" fill="#e8383a"/>
<path d="M400.1 721.6L403.4 717.6L408.7 717.0L412.7 720.3L413.4 725.6L410.1 729.6L404.7 730.3L400.7 727.0Z" fill="#e868a8"/>
<path d="M409.2 728.3L413.2 725.6L419.2 727.6L426.5 731.0L427.9 734.3L423.9 737.6L419.2 738.3L413.2 735.0L409.8 731.6Z" fill="#f5e41a"/>
<path d="M428.2 733.8L430.9 732.5L434.2 735.2L432.9 740.5L430.2 742.5L427.5 741.9Z" fill="#b06020"/>
<path d="M439.0 730.3L443.0 727.0L448.3 726.3L453.0 730.3L453.6 734.3L449.6 737.0L443.6 736.3L439.0 733.0Z" fill="#cfbfe2"/>
<line x1="468.5" y1="718.1" x2="467.9" y2="726.1" stroke="#b050b0" stroke-width="1.26" stroke-linecap="round" opacity="0.85"/>
<path d="M460.6 721.8L460.6 722.0L460.5 722.2L460.3 722.4L460.1 722.5L459.8 722.6L459.5 722.6L459.2 722.6L458.9 722.5L458.7 722.4L458.5 722.2L458.4 722.0L458.4 721.8L458.4 721.6L458.5 721.3L458.7 721.2L458.9 721.0L459.2 720.9L459.5 720.9L459.8 720.9L460.1 721.0L460.3 721.2L460.5 721.3L460.6 721.6Z" fill="#1f7a40"/>
<path d="M447.6 749.9L452.9 748.5L459.6 749.9L462.9 751.9L462.9 759.2L456.9 760.5L450.2 759.2L447.6 755.9Z" fill="#a8d191"/>
<path d="M415.5 759.9L419.5 755.9L426.2 759.9L428.8 763.9L426.2 766.6L419.5 765.3Z" fill="#e6e6e8"/>
<path d="M443.3 768.7L443.3 769.3L443.1 769.7L442.8 770.1L442.3 770.5L441.9 770.7L441.3 770.7L440.8 770.7L440.3 770.5L439.9 770.1L439.6 769.7L439.4 769.3L439.3 768.7L439.4 768.2L439.6 767.7L439.9 767.3L440.3 767.0L440.8 766.8L441.3 766.7L441.9 766.8L442.3 767.0L442.8 767.3L443.1 767.7L443.3 768.2Z" fill="#e6e6e8"/>
<path d="M477.9 734.1L477.9 734.8L477.7 735.5L477.4 736.0L476.9 736.4L476.5 736.7L475.9 736.8L475.4 736.7L474.9 736.4L474.5 736.0L474.2 735.5L474.0 734.8L473.9 734.1L474.0 733.4L474.2 732.8L474.5 732.2L474.9 731.8L475.4 731.6L475.9 731.5L476.5 731.6L476.9 731.8L477.4 732.2L477.7 732.8L477.9 733.4Z" fill="#e6e6e8"/>
<path d="M441.4 717.5L441.4 717.9L441.3 718.4L441.0 718.8L440.8 719.1L440.4 719.3L440.1 719.3L439.8 719.3L439.4 719.1L439.2 718.8L438.9 718.4L438.8 717.9L438.8 717.5L438.8 717.0L438.9 716.5L439.2 716.1L439.4 715.8L439.8 715.6L440.1 715.6L440.4 715.6L440.8 715.8L441.0 716.1L441.3 716.5L441.4 717.0Z" fill="#e8383a"/>
<path d="M558.6 714.1L561.9 709.4L563.3 702.7L567.3 696.1L575.3 693.4L581.9 696.1L584.6 704.1L583.9 713.4L583.3 718.7L579.3 720.7L575.3 717.4L569.9 716.1L564.6 716.7L559.3 716.7Z" fill="#e6e6e8"/>
<path d="M501.9 697.7L510.8 702.5L512.4 712.1L518.8 718.5L522.0 723.3L515.6 729.7L507.5 731.3L504.3 724.9L509.2 718.5L505.9 708.9Z" fill="#8dd7dc"/>
<path d="M502.2 694.5L503.5 688.5L511.5 685.8L523.5 685.8L534.2 689.1L539.6 695.1L536.9 698.5L528.9 698.5L520.9 699.8L514.2 702.5L510.2 705.8L505.5 706.5L502.9 701.1Z" fill="#3a62c0"/>
<path d="M509.9 705.0L513.9 701.6L521.9 698.3L529.9 697.0L536.6 697.6L534.6 705.6L531.2 712.3L525.9 716.3L517.9 717.0L511.9 714.3L509.9 709.6Z" fill="#e8383a"/>
<path d="M495.8 735.3L499.2 729.3L505.8 726.6L509.9 728.6L512.5 736.6L515.2 742.0L511.2 744.6L503.2 743.3L497.2 740.0Z" fill="#e868a8"/>
<path d="M508.7 730.1L512.7 727.5L522.1 727.5L530.1 730.1L532.1 735.5L528.7 739.5L520.7 741.5L514.0 739.5L509.4 735.5Z" fill="#f5e41a"/>
<path d="M523.4 741.5L526.7 738.1L532.0 737.5L534.0 740.1L532.0 745.5L527.4 748.1L523.4 746.1Z" fill="#b06020"/>
<path d="M537.3 736.7L541.3 734.0L549.3 730.0L553.3 729.3L554.6 735.4L551.9 739.4L545.3 740.7L539.9 739.4Z" fill="#cfbfe2"/>
<line x1="570.1" y1="716.8" x2="568.2" y2="724.9" stroke="#b050b0" stroke-width="1.26" stroke-linecap="round" opacity="0.85"/>
<path d="M572.3 731.0L572.3 731.3L572.2 731.5L572.0 731.7L571.8 731.9L571.6 732.0L571.3 732.0L571.1 732.0L570.8 731.9L570.6 731.7L570.5 731.5L570.4 731.3L570.3 731.0L570.4 730.8L570.5 730.6L570.6 730.3L570.8 730.2L571.1 730.1L571.3 730.1L571.6 730.1L571.8 730.2L572.0 730.3L572.2 730.6L572.3 730.8Z" fill="#1f7a40"/>
<path d="M534.7 763.8L540.1 759.8L544.1 754.5L548.1 757.2L552.1 762.5L551.4 769.2L546.8 771.2L540.1 767.8Z" fill="#a8d191"/>
<path d="M554.8 700.2L554.7 700.6L554.5 701.0L554.2 701.3L553.8 701.5L553.3 701.7L552.8 701.8L552.3 701.7L551.8 701.5L551.4 701.3L551.0 701.0L550.8 700.6L550.8 700.2L550.8 699.7L551.0 699.4L551.4 699.0L551.8 698.8L552.3 698.6L552.8 698.6L553.3 698.6L553.8 698.8L554.2 699.0L554.5 699.4L554.7 699.7Z" fill="#e6e6e8"/>
<path d="M545.7 719.3L545.7 719.7L545.5 720.1L545.3 720.4L544.9 720.7L544.5 720.9L544.1 720.9L543.7 720.9L543.3 720.7L543.0 720.4L542.7 720.1L542.6 719.7L542.5 719.3L542.6 718.9L542.7 718.5L543.0 718.2L543.3 717.9L543.7 717.8L544.1 717.7L544.5 717.8L544.9 717.9L545.3 718.2L545.5 718.5L545.7 718.9Z" fill="#e6e6e8"/>
<path d="M656.3 713.3L658.3 706.6L659.0 701.2L665.6 697.9L675.0 697.2L680.3 701.9L680.3 707.9L677.7 714.6L677.7 719.9L673.6 723.3L669.6 722.6L665.6 718.6L661.6 718.6L657.0 717.9Z" fill="#e6e6e8"/>
<path d="M607.2 695.6L612.9 702.0L615.3 711.6L619.3 719.6L617.7 724.4L611.2 722.8L606.4 716.4L608.0 710.0Z" fill="#8dd7dc"/>
<path d="M607.4 693.1L609.5 687.1L617.5 684.9L628.1 686.5L635.5 691.8L636.8 696.5L632.1 697.2L626.8 697.2L621.5 699.8L616.1 702.5L613.5 705.8L609.5 705.2L607.4 699.8Z" fill="#3a62c0"/>
<path d="M613.1 704.8L617.1 700.8L623.8 698.8L630.5 697.5L632.5 702.8L631.8 709.5L633.2 712.2L629.2 716.2L622.5 718.2L617.1 716.9L613.8 712.2Z" fill="#e8383a"/>
<path d="M591.8 725.4L594.5 720.7L600.5 719.4L604.5 721.4L605.8 726.8L603.1 732.1L597.8 733.4L593.1 731.4Z" fill="#e868a8"/>
<path d="M603.2 728.4L607.2 726.4L615.2 727.0L623.2 729.7L625.9 732.4L621.9 735.7L615.2 736.4L607.2 732.4Z" fill="#f5e41a"/>
<path d="M624.3 735.9L626.3 733.2L628.9 732.5L630.3 737.2L628.9 742.5L624.9 743.2L623.6 739.2Z" fill="#b06020"/>
<path d="M635.7 731.6L638.4 727.6L643.7 726.9L648.4 728.9L649.7 732.9L646.4 737.6L639.7 738.3L635.7 735.6Z" fill="#cfbfe2"/>
<line x1="661.9" y1="721.2" x2="663.0" y2="728.0" stroke="#b050b0" stroke-width="1.05" stroke-linecap="round" opacity="0.85"/>
<path d="M657.8 726.5L657.8 726.7L657.6 726.9L657.5 727.1L657.2 727.2L656.9 727.3L656.6 727.3L656.3 727.3L656.0 727.2L655.7 727.1L655.5 726.9L655.4 726.7L655.3 726.5L655.4 726.2L655.5 726.0L655.7 725.9L656.0 725.7L656.3 725.6L656.6 725.6L656.9 725.6L657.2 725.7L657.5 725.9L657.6 726.0L657.8 726.2Z" fill="#1f7a40"/>
<path d="M624.5 759.8L627.2 756.5L633.2 757.8L638.5 759.8L640.5 763.8L639.2 769.2L633.9 770.5L627.2 768.5L624.5 765.2Z" fill="#a8d191"/>
<path d="M751.6 711.8L753.6 705.2L757.6 699.8L765.6 697.8L773.6 699.8L776.9 706.5L775.6 713.2L774.9 718.5L773.6 723.9L769.6 724.5L765.6 721.2L761.6 718.5L756.9 717.8L752.3 716.5Z" fill="#e6e6e8"/>
<path d="M698.9 725.2L703.7 722.8L710.1 723.6L710.1 728.4L703.7 730.0L698.1 729.2Z" fill="#8dd7dc"/>
<path d="M699.1 697.1L701.1 690.4L708.4 685.8L716.4 685.1L724.4 689.1L727.8 694.4L726.4 699.8L721.8 699.8L716.4 701.1L711.1 701.8L705.8 703.1L701.8 705.1L699.1 702.4Z" fill="#3a62c0"/>
<path d="M700.4 705.4L704.4 702.1L712.4 700.1L721.7 698.8L724.4 704.1L722.4 709.4L721.7 716.1L716.4 718.8L709.7 718.8L704.4 716.1L700.4 712.1Z" fill="#e8383a"/>
<path d="M688.2 740.2L690.9 736.2L697.6 734.2L701.6 737.6L706.9 742.2L709.6 744.2L702.9 746.2L694.9 746.2L688.9 743.6Z" fill="#e868a8"/>
<path d="M698.7 732.8L703.4 730.1L711.4 728.8L715.4 730.1L718.1 734.2L714.1 738.2L707.4 739.5L700.7 737.5Z" fill="#f5e41a"/>
<path d="M713.8 741.0L718.5 737.6L723.8 736.3L726.5 739.0L723.8 742.3L718.5 743.6L714.5 743.0Z" fill="#b06020"/>
<path d="M727.3 726.6L730.6 723.3L736.0 721.9L742.0 725.3L742.7 730.0L739.3 734.0L733.3 733.3L728.0 730.0Z" fill="#cfbfe2"/>
<line x1="761.8" y1="719.3" x2="760.0" y2="727.3" stroke="#b050b0" stroke-width="1.05" stroke-linecap="round" opacity="0.85"/>
<path d="M745.7 697.4L745.6 697.7L745.5 697.9L745.3 698.0L745.1 698.2L744.8 698.3L744.5 698.3L744.3 698.3L744.0 698.2L743.8 698.0L743.6 697.9L743.5 697.7L743.4 697.4L743.5 697.2L743.6 697.0L743.8 696.8L744.0 696.7L744.3 696.6L744.5 696.6L744.8 696.6L745.1 696.7L745.3 696.8L745.5 697.0L745.6 697.2Z" fill="#1f7a40"/>
<path d="M718.6 761.1L720.6 757.8L725.9 757.8L732.6 759.8L737.9 763.1L736.6 768.5L731.2 770.5L724.6 768.5L719.9 765.1Z" fill="#a8d191"/>
<g transform="translate(0 0.5)"><path d="M136 578h1M542 579h1M140 580h1M265 586h1M267 586h1M665 586h1M673 586h1M280 587h1M476 588h1M480 588h1M662 588h1M285 589h1M475 589h2M190 590h1M477 590h1M481 590h1M651 590h1M186 591h1M194 591h1M276 591h1M376 591h1M386 591h1M470 591h1M472 591h1M571 591h2M381 592h1M468 592h1M567 592h1M667 592h1M762 592h1M181 593h1M375 593h1M377 593h1M484 593h1M178 594h1M180 594h1M182 594h1M192 594h1M283 594h1M285 594h1M388 594h1M479 594h1M484 594h1M574 594h1M664 594h1M670 594h2M764 594h1M768 594h1M770 594h1M178 595h1M292 595h1M388 595h1M479 595h1M563 595h1M572 595h1M582 595h1M662 595h1M668 595h1M671 595h1M677 595h1M679 595h1M188 596h1M197 596h1M291 596h1M384 596h1M471 596h1M565 596h1M661 596h1M675 596h1M757 596h1M195 597h1M274 597h1M277 597h1M281 597h1M369 597h1M376 597h2M384 597h1M387 597h2M480 597h1M678 597h1M770 597h1M187 598h1M274 598h1M290 598h1M372 598h1M385 598h1M465 598h1M561 598h1M667 598h1M758 598h2M767 598h1M770 598h1M775 598h1M190 599h1M192 599h2M274 599h1M285 599h1M292 599h1M294 599h1M374 599h1M377 599h1M386 599h1M475 599h1M578 599h1M176 600h1M181 600h1M192 600h1M292 600h1M375 600h1M380 600h1M384 600h1M391 600h1M487 600h1M569 600h1M674 600h1M774 600h1M198 601h1M273 601h1M276 601h1M285 601h1M294 601h1M372 601h1M479 601h1M561 601h1M582 601h1M669 601h2M673 601h1M677 601h1M752 601h1M758 601h2M766 601h1M186 602h1M193 602h1M277 602h1M369 602h1M465 602h1M572 602h1M666 602h1M760 602h1M276 603h1M284 603h1M468 603h1M480 603h2M485 603h1M562 603h1M568 603h1M180 604h1M284 604h1M286 604h1M372 604h1M377 604h1M475 604h1M480 604h1M567 604h1M574 604h1M578 604h1M760 604h1M772 604h1M775 604h1M175 605h1M179 605h1M480 605h1M484 605h1M582 605h1M672 605h1M757 605h1M770 605h1M187 606h1M194 606h3M278 606h1M283 606h1M385 606h1M474 606h1M483 606h1M574 606h1M577 606h1M762 606h1M766 606h1M177 607h1M289 607h1M759 607h1M765 607h1M471 608h1M476 608h1M675 608h1M771 608h1M276 609h1M180 610h1M192 610h1M384 610h1M477 610h2M571 610h1M765 610h1M283 611h1M382 611h1M386 611h1M771 611h1M180 612h1M574 612h1M763 612h1M772 612h1M191 613h1M478 613h1M579 613h1M190 614h1M192 614h1M380 614h1M577 614h1M575 615h1M766 615h1M286 630h1M376 632h1M89 636h1M79 637h1M85 637h1M82 638h1M78 640h2M91 640h1M73 641h1M80 641h1M94 641h1M76 642h1M72 643h1M77 643h1M83 643h1M87 643h1M91 643h1M74 644h1M91 644h1M76 645h1M312 645h1M364 645h1M667 645h1M77 646h1M94 646h1M316 646h1M73 648h1M81 648h1M86 648h1M94 648h1M304 648h1M87 649h1M95 649h1M303 649h1M308 649h1M312 649h1M83 651h1M93 651h1M305 651h1M614 651h1M617 651h1M86 652h1M88 652h1M94 652h1M306 653h1M79 654h2M94 654h1M621 654h1M87 657h1M219 657h1M613 657h1M615 657h1M619 658h1M625 658h1M83 659h1M222 659h1M619 659h1M624 660h1M91 661h1M616 661h1M382 692h1M372 694h1M379 694h2M374 695h1M576 695h1M388 696h1M569 696h1M579 696h1M576 697h1M578 697h1M282 698h1M372 698h1M379 698h1M388 698h1M667 698h2M290 699h1M384 699h1M575 700h1M664 700h1M673 700h2M767 700h1M384 701h1M475 701h1M573 701h1M660 701h1M663 701h1M673 701h1M676 701h1M678 701h1M757 701h1M290 702h1M379 702h1M478 702h1M582 702h1M669 702h1M764 702h1M180 703h1M183 703h1M189 703h1M277 703h1M285 703h1M476 703h1M478 703h1M565 703h1M661 703h1M673 703h1M766 703h1M195 704h1M280 704h1M293 704h1M382 704h1M569 704h1M575 704h1M577 704h1M582 704h1M670 704h1M190 705h1M288 705h1M379 705h1M467 705h1M570 705h1M754 705h1M771 705h1M181 706h1M193 706h1M273 706h1M275 706h1M285 706h2M382 706h1M386 706h1M570 706h1M769 706h1M192 707h1M198 707h1M288 707h1M372 707h1M379 707h1M382 707h1M466 707h1M472 707h1M479 707h1M570 707h1M671 707h2M275 708h1M277 708h1M285 708h1M293 708h1M373 708h1M385 708h2M664 708h1M758 708h1M290 709h2M293 709h1M367 709h1M375 709h1M389 709h1M473 709h1M583 709h1M675 709h2M775 709h1M188 710h1M191 710h1M196 710h1M288 710h1M373 710h1M390 710h1M466 710h1M672 710h1M753 710h1M177 711h1M186 711h1M282 711h1M374 711h1M463 711h1M574 711h1M581 711h1M669 711h1M769 711h1M193 712h1M278 712h2M290 712h1M381 712h1M384 712h1M389 712h1M561 712h1M563 712h1M574 712h1M658 712h1M660 712h1M677 712h1M756 712h1M172 713h1M177 713h1M197 713h1M468 713h1M476 713h1M565 713h1M577 713h1M581 713h1M659 713h1M676 713h1M765 713h1M768 713h1M276 714h1M281 714h1M283 714h1M382 714h1M466 714h1M475 714h1M662 714h1M665 714h1M180 715h1M190 715h1M279 715h1M293 715h1M484 715h1M565 715h1M669 715h1M675 715h1M770 715h1M180 716h1M187 716h1M382 716h1M580 716h1M582 716h1M662 716h1M757 716h1M763 716h1M765 716h1M769 716h1M192 717h1M384 717h1M479 717h1M482 717h2M578 717h1M774 717h1M196 718h1M478 718h1M544 718h1M676 718h1M769 718h1M179 719h1M185 719h1M292 719h1M386 719h1M293 720h1M676 720h1M288 721h1M476 721h1M480 721h1M767 721h1M189 722h1M671 722h1M183 723h1M185 723h1M191 723h1M195 723h1M188 726h1M476 736h1M423 761h1M425 762h1M420 763h1M422 763h1M422 764h1M441 767h1" stroke="#d4d4d8" stroke-width="1" fill="none"/>
<path d="M138 577h1M541 577h1M540 578h1M667 586h1M669 586h1M277 588h1M282 588h1M472 588h1M277 589h2M283 589h1M383 589h1M482 589h1M662 589h1M669 589h1M672 589h1M675 589h1M189 590h1M277 590h1M281 590h1M288 590h1M383 590h1M482 590h1M484 590h1M650 590h1M674 590h2M286 591h1M292 591h1M474 591h1M577 591h1M195 592h1M275 592h1M279 592h1M285 592h1M291 592h1M383 592h1M467 592h1M473 592h1M477 592h1M574 592h1M663 592h1M768 592h1M184 593h1M275 593h1M279 593h1M282 593h1M369 593h1M388 593h1M473 593h1M480 593h1M572 593h1M666 593h1M669 593h1M676 593h1M767 593h1M769 593h1M772 593h1M286 594h1M290 594h1M292 594h1M380 594h1M383 594h1M470 594h1M568 594h1M662 594h1M677 594h1M183 595h1M194 595h1M196 595h1M198 595h1M295 595h1M368 595h1M381 595h1M387 595h1M464 595h2M470 595h1M477 595h1M564 595h1M576 595h2M676 595h1M769 595h1M772 595h1M183 596h2M195 596h2M371 596h1M386 596h1M475 596h1M479 596h1M486 596h1M566 596h2M574 596h1M673 596h1M677 596h1M764 596h1M774 596h1M283 597h1M294 597h1M367 597h1M381 597h1M477 597h2M569 597h1M571 597h1M581 597h2M660 597h1M669 597h1M677 597h1M679 597h1M760 597h1M198 598h1M276 598h1M284 598h1M361 598h1M381 598h1M390 598h1M480 598h1M482 598h1M563 598h1M570 598h2M666 598h1M675 598h1M768 598h1M183 599h1M283 599h1M290 599h1M371 599h1M381 599h1M388 599h1M390 599h1M466 599h1M471 599h1M564 599h1M677 599h1M763 599h1M770 599h2M175 600h1M180 600h1M193 600h1M274 600h1M367 600h1M370 600h1M467 600h1M476 600h1M667 600h2M670 600h1M672 600h1M178 601h2M181 601h1M280 601h1M284 601h1M290 601h2M378 601h1M380 601h1M473 601h1M579 601h2M675 601h1M184 602h1M284 602h1M289 602h1M368 602h1M372 602h1M379 602h1M387 602h1M390 602h1M469 602h1M473 602h1M481 602h1M562 602h1M569 602h1M582 602h1M763 602h1M766 602h1M771 602h1M176 603h1M183 603h1M275 603h1M369 603h1M385 603h1M576 603h1M663 603h1M673 603h1M754 603h1M761 603h1M770 603h1M773 603h1M182 604h1M187 604h1M281 604h1M371 604h1M470 604h1M474 604h1M477 604h2M482 604h1M485 604h1M571 604h1M581 604h1M663 604h1M670 604h1M673 604h1M177 605h1M181 605h1M187 605h1M384 605h1M481 605h1M564 605h1M579 605h1M673 605h1M761 605h1M766 605h1M177 606h1M188 606h1M288 606h1M371 606h1M472 606h1M563 606h1M576 606h1M760 606h1M768 606h1M190 607h1M196 607h1M292 607h1M376 607h1M569 607h1M675 607h1M762 607h1M196 608h1M277 608h2M291 608h1M469 608h1M482 608h1M484 608h1M570 608h1M575 608h1M581 608h1M760 608h1M770 608h1M189 609h2M278 609h1M284 609h1M484 609h1M570 609h2M187 610h1M190 610h1M184 611h1M189 611h1M195 611h1M280 611h1M286 611h1M380 611h1M571 611h2M385 612h1M577 612h1M766 612h1M769 612h1M771 612h1M190 613h1M192 613h1M574 613h1M766 613h1M767 615h1M772 615h1M577 616h1M768 616h1M770 616h1M168 618h1M171 618h1M461 623h1M284 630h1M674 631h1M673 632h1M66 635h1M83 636h1M83 637h1M76 639h1M86 639h1M84 641h1M75 642h1M77 642h1M86 644h1M278 645h1M90 646h2M93 646h1M96 646h1M77 647h1M304 647h1M366 647h1M95 648h2M312 648h1M363 648h1M76 649h1M89 649h1M74 650h1M303 650h1M313 650h1M74 651h1M89 651h2M222 651h1M306 651h1M309 651h1M312 651h1M314 651h1M618 651h1M78 652h1M84 652h1M219 652h1M309 652h1M614 652h1M85 653h1M93 653h1M222 653h1M307 653h1M310 653h1M614 653h1M616 653h1M223 654h1M90 655h1M93 655h1M222 655h1M218 656h1M625 656h1M616 658h1M620 658h1M624 658h1M86 659h1M92 659h1M623 659h1M90 660h1M221 660h1M87 661h1M90 661h1M620 661h1M89 662h1M623 662h1M381 692h1M359 693h1M374 694h2M571 694h1M388 695h1M379 696h1M382 696h1M568 696h1M581 696h1M376 697h1M381 697h1M384 697h1M674 697h1M371 698h1M672 698h1M370 699h1M568 699h1M577 699h1M582 699h1M669 699h1M672 699h1M760 699h1M768 699h1M280 700h1M289 700h1M375 700h1M388 700h1M390 700h1M567 700h1M569 700h1M668 700h1M670 700h1M678 700h1M765 700h1M770 700h1M380 701h1M389 701h1M479 701h2M566 701h2M759 701h1M761 701h1M773 701h1M184 702h1M186 702h1M287 702h2M382 702h1M390 702h1M481 702h1M483 702h1M573 702h2M762 702h1M766 702h1M773 702h1M190 703h1M288 703h1M292 703h2M369 703h1M377 703h1M472 703h3M581 703h1M675 703h1M774 703h1M183 704h1M274 704h1M389 704h1M474 704h1M572 704h1M669 704h1M674 704h1M760 704h1M768 704h1M775 704h1M287 705h1M296 705h1M377 705h2M390 705h1M483 705h1M563 705h2M678 705h1M766 705h1M769 705h1M772 705h1M184 706h1M195 706h1M277 706h1M280 706h1M292 706h1M295 706h1M375 706h1M388 706h1M390 706h1M471 706h1M474 706h1M480 706h1M566 706h1M575 706h1M661 706h2M669 706h1M762 706h1M193 707h1M195 707h1M271 707h1M282 707h1M294 707h1M387 707h1M467 707h1M477 707h1M564 707h1M567 707h1M768 707h1M774 707h1M194 708h2M198 708h1M282 708h1M286 708h1M290 708h1M387 708h1M565 708h1M576 708h1M665 708h1M675 708h1M677 708h3M771 708h1M215 709h1M282 709h1M287 709h1M377 709h1M382 709h1M481 709h1M484 709h2M678 709h1M755 709h2M764 709h1M766 709h1M179 710h1M216 710h1M295 710h1M384 710h2M388 710h1M486 710h1M563 710h1M573 710h1M579 710h1M584 710h1M670 710h1M178 711h1M190 711h1M193 711h1M284 711h1M286 711h1M290 711h1M367 711h1M381 711h1M389 711h1M480 711h1M486 711h1M567 711h1M576 711h1M578 711h1M658 711h1M666 711h1M677 711h1M755 711h1M758 711h1M763 711h1M768 711h1M775 711h1M187 712h1M190 712h1M291 712h1M377 712h1M380 712h1M472 712h1M475 712h1M485 712h1M659 712h1M665 712h1M668 712h1M676 712h1M755 712h1M758 712h1M764 712h1M773 712h1M185 713h1M195 713h1M199 713h1M289 713h1M380 713h1M478 713h2M562 713h1M564 713h1M573 713h2M665 713h1M753 713h1M757 713h1M767 713h1M769 713h1M184 714h1M186 714h1M192 714h1M197 714h1M282 714h1M293 714h1M381 714h1M385 714h1M388 714h1M468 714h1M477 714h1M559 714h1M562 714h1M567 714h1M570 714h1M574 714h1M581 714h1M772 714h2M191 715h1M286 715h3M383 715h1M475 715h1M477 715h2M573 715h1M582 715h1M658 715h1M661 715h1M753 715h1M766 715h1M774 715h1M174 716h1M177 716h1M179 716h1M278 716h1M284 716h1M380 716h1M468 716h1M477 716h1M482 716h1M562 716h2M581 716h1M671 716h1M185 717h1M275 717h1M279 717h1M282 717h1M294 717h1M469 717h1M476 717h1M581 717h1M665 717h1M670 717h1M755 717h2M277 718h1M282 718h1M384 718h1M472 718h1M661 718h1M186 719h2M192 719h1M197 719h1M290 719h1M480 719h1M669 719h1M674 719h1M765 719h1M768 719h1M770 719h2M182 720h1M190 720h1M194 720h1M287 720h1M477 720h1M481 720h1M671 720h1M771 720h1M186 721h1M191 721h1M287 721h1M671 721h1M189 723h1M769 723h1M183 724h3M193 724h1M186 725h1M186 726h1M189 727h1M476 731h1M418 757h1M420 758h1M419 760h1M418 761h1M426 761h1M421 762h1M420 764h1M440 769h1" stroke="#f7f7f7" stroke-width="1" fill="none"/>
<path d="M138 579h1M540 580h1M668 585h2M279 587h1M665 587h2M381 588h1M475 588h1M477 588h2M663 588h2M284 589h1M377 589h1M469 589h1M472 589h1M278 590h1M289 590h1M291 590h1M374 590h1M468 590h1M476 590h1M667 590h1M676 590h1M187 591h2M275 591h1M278 591h1M377 591h1M473 591h1M767 591h1M282 592h1M571 592h1M649 592h1M677 592h1M273 593h2M373 593h1M468 593h1M479 593h1M567 593h1M570 593h1M763 593h1M189 594h1M369 594h2M569 594h1M180 595h1M187 595h1M275 595h1M376 595h1M385 595h1M569 595h1M669 595h1M198 596h1M272 596h1M290 596h1M465 596h1M470 596h1M472 596h1M760 596h1M763 596h1M178 597h1M184 597h1M192 597h1M275 597h1M280 597h1M372 597h1M380 597h1M470 597h1M659 597h1M671 597h1M765 597h1M771 597h1M755 598h1M176 599h1M271 599h1M277 599h2M367 599h1M473 599h1M567 599h2M571 599h1M658 599h1M186 600h1M189 600h1M279 600h1M289 600h1M371 600h1M482 600h1M566 600h1M572 600h1M662 600h1M754 600h1M183 601h1M278 601h1M466 601h1M469 601h1M471 601h1M570 601h1M760 601h1M176 602h1M183 602h1M283 602h1M376 602h1M466 602h1M474 602h1M565 602h1M661 602h1M670 602h1M764 602h1M177 603h1M185 603h1M188 603h1M272 603h2M666 603h1M677 603h1M753 603h1M759 603h1M767 603h1M176 604h2M276 604h3M378 604h1M468 604h1M479 604h1M669 604h1M763 604h1M176 605h1M183 605h1M288 605h1M371 605h1M375 605h1M379 605h2M468 605h1M670 605h1M759 605h1M765 605h1M190 606h1M193 606h1M293 606h1M372 606h1M470 606h1M479 606h2M567 606h1M755 606h2M761 606h1M185 607h1M187 607h1M276 607h1M473 607h1M564 607h1M576 607h1M760 607h1M180 608h1M194 608h1M280 608h2M384 608h1M475 608h1M762 608h1M580 609h2M195 610h1M380 610h1M383 610h1M569 610h1M572 610h1M578 610h1M766 610h1M761 611h1M764 611h1M184 612h1M761 612h1M764 613h1M189 615h1M169 619h2M285 632h1M374 632h1M672 632h1M84 635h1M91 639h1M77 640h1M85 640h1M76 641h3M84 644h1M89 644h1M94 644h1M72 645h1M88 645h1M306 646h1M75 647h1M81 647h1M84 647h1M76 648h1M78 648h1M80 648h1M309 648h1M75 649h1M85 649h1M219 651h1M308 651h1M77 652h1M81 652h1M310 652h1M616 652h1M223 653h1M313 653h1M618 653h1M82 654h1M84 654h1M616 654h1M618 654h1M83 656h2M220 656h1M82 657h1M614 657h1M617 657h1M624 657h1M89 659h1M614 659h1M616 660h1M617 661h1M622 661h1M577 695h1M374 696h1M378 696h1M378 697h1M572 697h1M581 698h1M666 698h1M284 699h1M373 699h1M375 699h2M573 699h1M664 699h3M287 700h1M376 700h1M554 700h1M566 700h1M660 700h1M759 700h1M773 700h1M277 701h2M281 701h1M370 701h1M373 701h1M376 701h1M379 701h1M470 701h2M477 701h1M565 701h1M659 701h1M664 701h1M758 701h1M771 701h1M283 702h1M375 702h1M663 702h1M768 702h1M283 703h1M370 703h1M376 703h1M467 703h1M475 703h1M567 703h2M671 703h1M757 703h1M759 703h1M276 704h1M282 704h1M381 704h1M468 704h1M472 704h1M565 704h1M660 704h1M662 704h1M766 704h1M179 705h1M181 705h1M189 705h1M276 705h1M385 705h1M565 705h1M758 705h1M762 705h1M185 706h1M278 706h1M284 706h1M567 706h1M759 706h1M761 706h1M180 707h1M276 707h1M373 707h1M376 707h1M474 707h2M578 707h1M664 707h1M666 707h1M764 707h1M181 708h1M184 708h1M272 708h1M279 708h1M465 708h1M469 708h1M567 708h1M180 709h1M183 709h1M190 709h1M212 709h1M379 709h1M384 709h1M464 709h1M478 709h2M571 709h1M579 709h1M757 709h1M184 710h1M273 710h1M282 710h1M290 710h1M366 710h1M379 710h1M386 710h1M464 710h1M574 710h1M664 710h1M667 710h1M762 710h1M770 710h1M198 711h1M272 711h1M369 711h4M384 711h1M471 711h1M569 711h1M179 712h1M276 712h1M284 712h1M465 712h1M468 712h2M578 712h1M657 712h1M662 712h1M666 712h1M671 712h1M751 712h1M175 713h1M274 713h4M290 713h1M370 713h1M464 713h1M569 713h1M576 713h1M174 714h1M188 714h1M273 714h1M463 714h1M566 714h1M669 714h1M760 714h1M769 714h1M176 715h1M186 715h1M188 715h1M277 715h1M464 715h1M470 715h1M561 715h1M656 715h1M767 715h1M184 716h3M561 716h1M579 716h1M669 716h1M182 717h1M194 717h1M291 717h1M471 717h1M477 717h1M481 717h1M658 717h1M758 717h1M770 717h2M183 718h1M193 718h1M281 718h1M382 718h1M473 718h1M671 718h1M771 718h1M177 719h1M282 719h1M764 719h1M675 720h1M675 721h1M183 722h1M187 722h1M187 726h1M417 759h1M419 761h1M422 761h1M419 762h1M418 763h1M421 764h1M439 769h1" stroke="#7eaee0" stroke-width="1" fill="none"/>
<path d="M138 576h1M267 585h1M668 586h1M665 588h1M479 589h1M662 590h1M381 591h1M385 591h1M468 591h1M665 591h1M478 592h1M272 593h1M383 593h1M471 593h2M573 593h1M761 593h1M190 594h1M376 594h1M663 594h1M280 595h1M378 595h1M471 595h1M475 595h1M480 595h1M573 595h1M761 595h1M771 595h1M181 596h1M472 597h1M378 598h1M185 599h1M273 599h1M276 599h1M572 599h1M368 600h1M385 600h1M664 600h1M385 601h1M774 601h1M179 602h1M274 602h1M564 602h1M179 604h1M192 604h1M280 604h1M373 604h1M484 604h1M565 604h1M752 604h1M763 605h1M473 606h1M564 606h1M572 606h1M275 607h1M277 607h1M373 607h1M378 607h1M572 607h1M181 608h1M183 608h1M285 608h1M761 608h1M177 609h1M179 609h1M476 609h1M179 610h1M288 610h1M183 612h1M579 612h1M90 637h1M78 638h1M276 645h1M87 646h1M310 646h1M368 646h1M85 647h1M92 647h1M275 647h1M306 647h1M77 653h1M619 656h1M89 657h1M570 695h1M283 696h1M567 696h1M671 699h1M276 701h1M568 701h1M282 702h1M370 702h2M565 702h2M756 702h1M274 703h1M186 704h1M568 704h1M576 704h1M469 705h1M471 705h1M478 705h1M753 705h1M663 706h1M469 707h1M761 707h1M183 708h1M671 708h1M380 709h1M567 709h1M467 710h1M179 711h1M288 711h1M465 711h1M274 712h1M663 712h1M176 713h1M273 713h1M563 713h1M760 713h1M285 714h1M380 714h1M564 714h1M661 714h1M179 715h1M185 715h1M283 715h1M465 715h1M560 715h1M562 715h1M183 716h1M476 716h1M664 716h1M676 716h1M754 716h1M285 717h1M474 718h1M176 719h1" stroke="#6181cd" stroke-width="1" fill="none"/>
<path d="M541 576h1M265 583h1M670 584h3M281 585h1M666 585h1M675 585h1M677 585h1M280 586h1M380 586h1M481 586h1M662 586h1M185 587h1M375 587h1M377 587h1M465 587h1M468 587h1M475 587h1M179 588h1M289 588h1M377 588h1M772 588h1M191 589h1M573 589h2M771 589h1M180 590h1M466 590h2M570 590h1M577 590h1M767 590h1M180 591h1M273 591h1M369 591h1M389 591h1M465 591h1M567 591h1M772 591h1M294 592h1M580 592h2M756 592h1M390 593h1M581 593h1M660 593h1M681 593h1M758 593h1M174 594h1M177 594h1M774 594h1M364 595h1M488 595h1M752 595h1M297 596h1M681 596h1M559 597h1M175 598h1M462 598h2M560 598h1M200 599h1M296 599h1M360 599h1M681 599h1M777 599h1M270 600h1M364 600h1M658 600h1M751 600h1M777 600h1M558 601h1M584 601h1M462 602h1M200 603h1M463 603h1M680 603h1M366 604h1M368 604h1M656 604h2M391 605h1M466 605h1M660 605h1M371 607h1M466 607h1M486 607h1M271 608h1M388 608h1M563 608h1M388 609h2M176 610h1M273 610h1M373 610h1M375 610h1M757 610h1M775 610h1M387 611h1M757 611h1M475 612h1M773 612h1M185 613h1M281 613h1M284 613h1M286 613h1M477 614h1M381 615h1M478 615h1M480 615h1M572 615h1M763 615h1M572 616h1M765 616h1M190 617h1M478 617h1M765 617h1M767 617h1M193 620h1M575 620h1M83 632h1M675 632h1M81 633h1M374 633h1M68 634h1M76 637h1M72 638h1M71 639h1M74 639h1M69 640h1M71 641h1M97 643h1M69 646h1M279 646h1M220 649h1M97 650h1M219 650h1M318 652h1M75 653h1M98 653h1M78 655h1M314 655h1M80 656h1M224 656h1M224 657h1M609 657h1M216 658h2M96 659h1M93 660h1M614 661h1M625 661h1M625 662h1M627 662h1M378 691h1M389 691h1M570 691h1M289 692h1M573 693h1M581 693h1M284 694h1M662 695h1M767 695h1M389 696h1M275 697h1M666 697h1M670 697h1M293 698h1M393 698h1M474 698h1M481 698h1M662 698h1M664 698h1M297 699h1M369 699h1M473 699h1M679 699h1M759 699h1M192 700h1M295 700h1M468 700h2M659 700h1M296 701h1M368 701h1M466 701h1M563 701h1M680 701h1M392 702h2M488 702h1M585 702h2M273 703h1M392 703h1M485 703h2M178 704h1M365 705h1M561 705h1M658 705h1M269 706h1M366 706h1M488 706h1M657 706h1M752 706h1M365 707h1M488 707h2M584 707h2M750 707h1M270 708h1M464 708h1M488 708h1M174 709h1M199 709h1M173 710h1M296 710h1M750 710h1M173 711h1M214 711h1M172 712h1M653 712h1M270 713h1M585 713h1M376 714h1M556 714h1M776 714h1M373 715h2M378 715h1M487 715h1M172 716h1M274 716h1M463 716h1M485 716h1M169 717h1M485 717h1M585 717h1M656 717h1M754 717h1M275 718h1M390 719h1M472 719h1M582 719h1M664 719h1M758 719h1M763 719h1M201 720h1M294 720h1M175 722h1M767 722h1M177 723h1M290 723h1M475 723h1M477 723h1M767 723h1M774 723h1M288 724h1M290 724h1M485 724h1M198 725h1M287 725h1M184 726h1M772 727h1M418 755h1M420 756h1M422 757h1M415 761h1M427 761h1" stroke="#e6e6e8" stroke-width="1" fill="none"/>
<path d="M138 575h1M136 576h1M140 576h1M672 583h1M287 584h1M481 584h1M673 585h1M678 586h1M290 587h1M380 587h1M385 587h1M471 587h2M181 588h1M186 588h1M190 588h1M274 588h1M385 588h2M466 588h1M470 588h1M481 588h1M769 588h1M190 589h1M274 589h1M291 589h1M375 589h1M767 589h1M182 590h1M372 590h1M486 590h1M565 590h1M573 590h1M769 590h1M177 591h1M679 591h1M771 591h1M487 592h1M564 592h1M199 593h1M582 593h1M176 594h1M199 594h1M366 594h1M660 594h1M175 595h1M173 596h1M366 596h1M174 597h1M359 598h1M269 599h1M298 599h1M560 599h1M488 602h1M488 603h1M656 603h1M174 604h1M389 604h1M465 604h1M660 604h1M294 605h1M751 605h2M294 606h1M465 606h1M486 606h1M669 606h1M372 607h1M583 607h1M487 608h1M174 609h1M470 609h2M198 610h1M275 610h2M674 610h1M277 611h1M475 611h1M582 611h1M284 612h1M286 612h1M378 612h1M676 612h1M760 612h1M285 613h1M288 613h1M571 613h1M579 614h1M773 614h1M382 615h1M380 616h1M481 616h1M195 617h1M766 617h1M576 618h1M769 620h1M463 622h1M674 630h1M377 633h1M78 634h1M89 634h1M93 634h1M80 635h1M87 635h1M78 636h1M76 638h1M94 638h1M96 640h1M313 644h1M369 645h1M97 646h1M615 647h1M72 648h1M97 651h1M620 651h1M317 652h1M621 652h1M316 653h1M317 654h1M98 655h1M313 655h1M96 657h1M625 657h1M82 660h1M94 661h1M615 661h1M378 689h1M380 689h1M379 691h1M372 692h1M582 692h1M286 693h1M576 693h1M566 694h1M579 694h3M282 695h1M285 695h1M289 695h1M567 695h1M580 695h2M280 696h2M369 696h1M390 696h1M564 696h1M676 696h1M370 697h1M562 697h1M676 697h1M562 698h1M758 698h1M761 698h1M394 699h1M661 699h2M755 699h1M189 701h1M192 701h1M295 701h1M584 701h1M777 701h1M181 702h1M183 702h1M753 702h1M298 703h1M562 703h1M681 703h1M271 704h1M586 704h1M487 705h1M562 705h1M297 706h1M463 706h1M487 706h1M364 707h1M465 707h1M176 708h1M200 709h1M200 710h1M391 710h1M462 710h1M657 710h1M172 711h1M270 711h1M391 711h1M461 711h1M488 711h1M585 711h1M748 711h1M295 712h1M366 712h1M460 712h1M559 712h1M751 714h1M171 715h1M295 715h1M485 715h1M678 715h1M169 716h1M199 716h2M462 716h1M558 716h1M272 717h1M295 718h1M775 719h1M666 720h1M199 721h1M677 721h1M774 721h2M176 722h1M479 723h1M484 723h1M671 723h1M196 724h1M198 724h1M182 725h1M187 729h1M473 734h1M417 762h1" stroke="#f1f1f2" stroke-width="1" fill="none"/>
<path d="M705 586h1M709 588h1M709 590h1M704 592h1M707 592h1M707 593h1M408 594h1M117 596h1M224 596h1M705 596h1M117 597h1M323 599h1M410 600h1M609 600h1M615 600h1M711 600h1M122 601h1M615 601h1M707 601h1M711 601h1M118 602h1M409 602h1M121 603h1M227 603h1M612 603h1M615 603h1M617 603h1M119 604h2M229 604h1M320 604h1M323 604h1M615 604h1M710 604h1M123 605h1M228 605h1M519 605h1M619 605h1M620 606h1M708 606h1M234 607h1M621 607h1M223 608h1M320 608h1M609 608h1M708 608h1M715 608h1M717 608h1M121 609h1M229 609h1M317 609h1M320 609h1M328 609h2M521 609h1M716 609h1M122 610h1M230 610h1M323 610h1M420 610h1M608 610h1M710 610h1M224 611h1M234 611h1M326 611h1M415 611h1M704 611h1M224 612h1M227 612h1M234 612h1M320 612h2M323 612h1M412 612h1M522 612h1M129 613h1M416 613h1M517 613h1M703 613h1M710 613h1M329 614h1M410 614h1M413 614h1M425 614h1M518 614h1M528 614h1M707 614h1M123 615h1M127 615h1M330 615h1M513 615h1M522 615h1M526 615h1M126 616h1M131 616h1M131 617h1M417 617h1M515 617h1M126 618h1M130 618h1M416 618h1M418 618h1M519 618h1M124 619h1M517 619h1M409 620h1M417 620h1M124 622h1M23 647h1M24 648h1M31 648h1M28 649h2M29 652h1M28 654h1M32 654h1M29 655h1M34 658h1M27 660h1M35 660h1M34 661h1M25 668h1M32 668h1M27 670h2M24 671h1M28 672h1M30 672h1M32 672h1M31 673h1M132 697h1M129 698h1M423 701h2M216 702h1M307 703h1M609 703h2M131 704h1M504 705h1M133 707h1M506 707h1M511 707h1M132 708h1M609 709h1M131 711h1M130 712h1M134 712h1M611 712h1M423 714h1M614 714h1M419 715h1M422 716h1M425 716h1M428 717h2M133 718h1M423 718h1M128 719h1M417 719h1M518 719h1M511 720h1M127 721h1M131 721h1M513 721h1M127 722h1M132 722h1M509 722h1M615 722h2M225 723h1M233 723h1M421 723h1M615 723h1M128 724h1M133 724h1M228 724h1M504 724h1M520 724h1M703 724h1M231 725h1M315 725h1M515 725h1M703 725h1M705 725h1M707 725h1M129 726h1M515 726h1M517 726h1M222 727h1M224 727h2M317 727h1M704 727h1M231 728h1M317 728h1M512 728h1M223 729h1M225 729h1M509 730h1" stroke="#b0e3e7" stroke-width="1" fill="none"/>
<path d="M705 584h1M707 584h2M706 585h1M706 586h1M710 587h1M706 588h1M710 588h1M710 589h1M706 590h1M404 591h1M711 591h1M604 592h1M705 592h1M318 593h1M118 594h1M319 594h1M407 594h1M409 594h1M606 594h1M704 594h1M114 595h1M116 595h1M118 595h1M317 595h2M321 595h1M406 595h1M516 595h2M607 595h1M703 595h1M705 595h1M225 596h2M232 596h1M318 596h1M320 596h1M409 596h1M711 596h1M116 597h1M223 597h1M225 597h1M230 597h2M233 597h1M406 597h1M610 597h1M703 597h1M710 597h1M120 598h1M319 598h1M517 598h2M710 598h1M118 599h1M223 599h1M227 599h1M231 599h1M517 599h2M616 599h2M706 599h1M226 600h1M229 600h1M232 600h1M519 600h1M610 600h1M119 601h1M225 601h1M230 601h1M321 601h1M408 601h1M709 601h1M713 601h1M121 602h1M619 602h1M118 603h1M228 603h2M233 603h1M409 603h1M411 603h2M118 604h1M122 604h1M233 604h1M410 604h1M613 604h1M124 605h1M227 605h1M232 605h1M319 605h3M325 605h1M410 605h2M621 605h2M706 605h1M710 605h1M713 605h1M121 606h1M231 606h1M327 606h1M521 606h1M613 606h1M618 606h2M621 606h1M706 606h1M711 606h1M715 606h1M223 607h1M237 607h1M319 607h1M322 607h1M329 607h1M527 607h1M611 607h1M615 607h1M618 607h1M620 607h1M706 607h1M332 608h1M413 608h1M423 608h1M526 608h1M528 608h1M612 608h1M615 608h1M621 608h1M707 608h1M710 608h1M716 608h1M119 609h2M221 609h1M226 609h2M234 609h1M238 609h1M318 609h1M326 609h1M413 609h1M415 609h2M424 609h1M518 609h1M612 609h1M615 609h2M620 609h1M703 609h1M714 609h1M234 610h3M317 610h1M322 610h1M326 610h1M333 610h1M413 610h1M415 610h2M421 610h1M518 610h1M612 610h2M701 610h1M703 610h1M705 610h1M717 610h1M123 611h1M227 611h2M236 611h1M322 611h2M332 611h1M407 611h2M423 611h1M522 611h1M525 611h1M527 611h2M616 611h1M702 611h2M707 611h1M713 611h1M125 612h1M222 612h1M226 612h1M240 612h1M325 612h1M422 612h1M424 612h1M513 612h1M516 612h1M527 612h1M609 612h1M700 612h1M704 612h1M712 612h1M224 613h1M226 613h1M231 613h1M234 613h1M318 613h2M329 613h1M408 613h1M419 613h1M425 613h1M514 613h1M518 613h1M529 613h1M608 613h1M610 613h2M233 614h1M238 614h1M314 614h1M316 614h1M318 614h1M334 614h1M411 614h1M415 614h1M421 614h1M423 614h2M427 614h1M512 614h3M521 614h1M699 614h2M702 614h1M704 614h1M706 614h1M709 614h1M713 614h1M125 615h1M130 615h1M133 615h1M229 615h1M232 615h1M318 615h1M320 615h1M322 615h1M325 615h1M407 615h1M410 615h1M413 615h1M416 615h1M421 615h1M423 615h1M426 615h1M512 615h1M515 615h1M518 615h1M524 615h1M528 615h1M703 615h1M130 616h1M225 616h1M230 616h1M327 616h1M331 616h1M333 616h1M407 616h1M411 616h2M416 616h1M419 616h1M513 616h1M522 616h1M525 616h1M133 617h1M318 617h1M326 617h1M408 617h2M420 617h1M423 617h1M516 617h1M519 617h1M522 617h1M529 617h1M123 618h2M127 618h1M131 618h2M413 618h2M421 618h1M520 618h2M122 619h2M129 619h1M407 619h1M409 619h1M412 619h1M416 619h1M519 619h1M525 619h1M125 620h1M412 620h1M419 620h1M124 621h1M127 621h1M134 621h1M422 621h1M123 622h1M132 622h1M128 623h1M131 623h1M130 624h1M131 625h1M22 642h1M25 643h1M24 644h1M24 645h1M27 645h1M27 646h1M27 647h1M32 647h1M30 648h1M27 649h1M28 650h1M28 651h1M36 651h1M28 652h1M34 652h1M33 653h1M34 654h1M33 655h2M28 656h1M32 656h1M34 656h1M36 657h1M27 658h1M32 658h2M38 658h1M30 659h1M34 659h2M26 660h1M32 660h1M33 661h1M27 662h1M30 662h2M38 662h1M26 663h1M34 663h1M24 664h1M26 664h2M32 664h1M38 664h1M26 665h1M36 665h1M29 666h2M33 666h1M36 666h1M25 667h1M28 667h1M36 667h1M26 668h1M31 668h1M34 668h1M37 668h1M22 669h1M28 669h1M23 670h2M26 670h1M33 670h1M20 671h1M33 671h1M21 673h1M23 673h1M26 673h1M29 673h1M34 673h1M33 674h1M39 674h1M42 674h1M34 675h1M41 675h1M22 676h1M36 676h1M34 677h1M32 678h1M129 690h1M131 692h1M129 693h1M133 693h2M129 695h1M131 695h1M501 695h1M607 695h1M501 696h1M502 697h4M609 697h1M503 698h2M131 699h1M502 699h1M505 700h1M509 700h1M607 700h1M609 700h1M132 701h1M218 701h1M305 701h1M506 701h1M508 701h1M217 702h2M307 702h3M423 702h1M132 703h1M218 703h1M309 703h1M504 703h1M507 703h1M612 703h1M217 704h2M310 704h1M505 704h1M507 704h1M510 704h1M608 704h1M217 705h2M423 705h1M507 705h1M511 705h1M611 705h1M133 706h1M217 706h1M309 706h1M425 706h1M606 706h1M613 706h1M134 707h1M310 707h1M312 707h1M423 707h2M426 707h1M507 707h1M509 707h1M608 707h1M614 707h1M133 708h1M135 708h1M312 708h1M423 708h1M507 708h1M510 708h2M132 709h2M314 709h1M316 709h1M428 709h1M506 709h1M614 709h1M131 710h1M134 710h1M219 710h1M313 710h1M426 710h2M509 710h1M219 711h1M222 711h1M315 711h1M608 711h1M615 711h1M315 712h1M509 712h1M132 713h1M135 713h1M221 713h1M508 713h1M510 713h1M609 713h1M614 713h2M130 714h2M225 714h1M316 714h1M421 714h1M426 714h1M431 714h1M511 714h1M514 714h2M609 714h1M616 714h2M425 715h1M609 715h1M316 716h1M318 716h1M608 716h2M419 717h1M422 717h1M425 717h3M509 717h2M130 718h1M222 718h1M318 718h2M424 718h1M426 718h2M430 718h1M607 718h1M609 718h1M612 718h1M614 718h1M618 718h1M129 719h2M318 719h1M414 719h3M426 719h1M429 719h1M513 719h1M618 719h1M134 720h1M221 720h1M223 720h1M319 720h1M416 720h1M425 720h4M514 720h2M607 720h1M609 720h2M613 720h1M128 721h1M135 721h1M321 721h3M415 721h2M425 721h1M508 721h1M517 721h2M613 721h1M616 721h1M128 722h1M131 722h1M135 722h2M222 722h1M227 722h1M316 722h2M418 722h1M423 722h1M511 722h1M514 722h1M518 722h1M613 722h2M705 722h1M127 723h3M132 723h1M134 723h1M222 723h1M228 723h2M231 723h1M318 723h1M323 723h2M422 723h2M509 723h1M518 723h2M702 723h3M708 723h1M710 723h1M129 724h1M134 724h1M226 724h1M315 724h1M318 724h1M320 724h1M419 724h1M509 724h1M513 724h1M516 724h1M702 724h1M705 724h1M136 725h1M222 725h1M225 725h1M230 725h1M233 725h2M318 725h1M325 725h1M422 725h1M424 725h1M508 725h1M522 725h1M616 725h1M619 725h1M698 725h1M708 725h1M136 726h1M220 726h2M223 726h3M232 726h1M314 726h1M513 726h1M520 726h1M698 726h1M704 726h1M708 726h1M710 726h1M128 727h1M221 727h1M223 727h1M227 727h1M230 727h1M235 727h2M238 727h1M323 727h2M512 727h1M514 727h1M518 727h1M705 727h1M709 727h1M125 728h1M223 728h1M237 728h1M315 728h1M322 728h1M326 728h1M515 728h1M706 728h1M128 729h1M229 729h1M234 729h1M321 729h1M514 729h1M517 729h1M130 730h1M230 730h1M233 730h1M508 730h1M700 730h1M130 731h1M220 731h1M223 731h1M226 731h1M228 731h2M231 731h2M514 731h2M229 732h3M230 733h1M234 733h1" stroke="#4fc1c9" stroke-width="1" fill="none"/>
<path d="M705 587h2M705 588h1M705 589h1M709 589h1M706 591h1M710 591h1M706 592h1M516 593h1M158 594h1M321 594h1M705 594h1M709 594h1M115 596h1M158 597h1M318 597h1M408 597h1M410 597h1M612 597h1M705 597h1M226 598h1M409 598h1M610 598h1M614 598h1M520 599h1M710 599h1M224 600h1M231 600h1M321 600h2M408 600h1M517 600h1M520 600h1M611 600h2M706 600h1M118 601h1M232 601h1M612 601h2M159 602h2M321 602h1M613 602h1M616 602h1M119 603h1M122 603h1M153 603h1M157 603h1M322 603h2M706 603h2M710 603h1M160 604h1M227 604h1M232 604h1M412 604h1M706 604h1M708 604h1M155 605h1M326 605h1M520 605h1M616 605h1M158 606h1M163 606h1M320 606h1M328 606h1M614 606h1M617 606h1M707 606h1M709 606h1M712 606h1M120 607h1M227 607h1M236 607h1M323 607h1M613 607h2M619 607h1M122 608h1M227 608h1M321 608h1M329 608h1M616 608h1M705 608h1M709 608h1M711 608h2M233 609h1M418 609h1M445 609h2M704 609h1M708 609h2M158 610h1M232 610h1M238 610h1M318 610h1M443 610h1M447 610h1M523 610h1M526 610h1M122 611h1M124 611h1M235 611h1M418 611h1M516 611h1M610 611h1M701 611h1M705 611h1M230 612h1M333 612h1M409 612h1M448 612h2M517 612h1M525 612h1M616 612h1M639 612h1M641 612h1M228 613h1M233 613h1M235 613h1M237 613h1M441 613h1M444 613h1M516 613h1M520 613h1M525 613h1M636 613h1M700 613h1M706 613h1M131 614h1M235 614h1M324 614h1M438 614h2M443 614h1M451 614h1M411 615h1M447 615h1M521 615h1M525 615h1M636 615h1M638 615h2M128 616h1M351 616h2M409 616h1M420 616h1M519 616h1M526 616h1M638 616h1M645 616h1M419 617h1M443 617h1M521 617h1M524 617h1M639 617h1M648 617h1M125 618h1M129 618h1M133 618h1M412 618h1M422 618h1M516 618h1M261 619h1M345 619h1M514 619h2M731 619h1M126 620h1M132 620h1M257 620h1M348 620h1M411 620h1M413 620h1M416 620h1M639 620h1M645 620h1M734 620h1M260 621h1M351 621h1M355 621h1M548 621h1M640 621h1M644 621h1M126 622h2M250 622h1M252 622h1M257 622h1M543 622h3M640 622h1M346 623h1M354 623h1M262 624h1M546 624h1M727 624h1M251 625h1M257 625h1M352 625h1M544 625h1M552 625h1M733 625h1M255 626h1M350 626h1M353 626h1M541 626h1M547 626h1M736 626h1M551 627h1M730 627h1M734 627h1M352 628h2M738 628h1M255 629h1M347 629h2M542 629h1M545 630h1M548 630h1M550 630h1M734 630h1M351 631h1M735 633h1M646 637h1M641 638h1M645 639h1M647 639h1M651 642h1M24 643h1M646 643h1M641 644h1M644 644h2M641 645h1M723 645h1M726 645h1M148 646h1M642 646h1M649 646h1M253 647h1M344 647h1M652 647h1M25 648h1M28 648h1M147 648h1M149 648h2M253 648h2M437 648h1M445 648h1M531 648h1M533 648h1M639 648h1M723 648h1M728 648h1M254 649h1M341 649h1M345 649h1M535 649h1M538 649h1M723 649h1M731 649h1M149 650h1M249 650h1M261 650h1M344 650h1M349 650h1M443 650h1M447 650h1M719 650h1M721 650h2M27 651h1M255 651h1M263 651h1M531 651h1M729 651h1M30 652h1M260 652h1M340 652h2M350 652h1M444 652h1M535 652h2M719 652h1M28 653h2M149 653h1M153 653h1M155 653h2M264 653h1M339 653h1M344 653h2M445 653h1M730 653h1M30 654h1M144 654h1M261 654h1M529 654h1M727 654h1M145 655h1M255 655h1M437 655h1M449 655h1M538 655h1M726 655h1M36 656h1M145 656h1M150 656h1M251 656h1M341 656h1M346 656h1M438 656h1M440 656h1M444 656h1M531 656h1M542 656h1M730 656h2M149 657h1M255 657h1M445 657h1M536 657h1M732 657h1M36 658h1M255 658h1M342 658h1M347 658h1M349 658h1M532 658h1M32 659h1M342 659h1M351 659h1M437 659h1M148 660h1M444 660h1M726 660h1M31 661h1M26 662h1M25 663h1M35 663h1M28 665h2M27 666h1M22 668h1M29 668h1M38 668h1M26 669h1M30 669h1M37 669h1M22 670h1M32 670h1M64 670h1M31 671h1M66 671h1M29 672h1M57 672h1M60 672h1M62 674h1M59 676h1M65 676h1M55 677h1M62 678h1M64 678h1M130 695h1M133 697h1M607 697h1M61 699h1M504 699h1M55 700h1M60 700h1M504 700h1M506 700h1M608 700h1M507 701h1M609 701h1M55 702h1M59 703h1M63 703h1M133 703h1M133 704h1M423 704h1M609 704h1M613 704h1M51 705h1M130 705h1M608 705h1M610 705h1M424 706h1M608 706h1M55 707h1M505 707h1M508 707h1M56 708h1M134 708h1M609 708h1M58 709h1M61 709h1M130 709h1M610 710h1M614 710h1M56 711h1M59 711h1M507 711h1M511 711h1M613 711h1M258 712h1M314 712h1M316 712h1M131 713h1M133 713h1M252 713h1M315 713h2M133 714h1M422 714h1M133 715h1M424 715h1M429 715h1M514 715h1M607 715h1M610 715h1M129 716h1M317 716h1M429 716h1M509 716h1M610 716h1M225 717h1M255 717h1M260 717h1M613 717h1M127 718h1M131 718h1M225 718h1M352 718h1M516 718h1M518 718h1M260 719h1M317 719h1M319 719h1M322 719h1M511 719h1M517 719h1M615 719h1M132 720h1M251 720h1M355 720h1M431 720h1M509 720h1M224 721h1M226 721h1M254 721h2M347 721h2M423 721h1M510 721h1M610 721h1M615 721h1M320 722h1M323 722h1M347 722h1M357 722h1M420 722h1M428 722h1M507 722h1M515 722h1M315 723h1M319 723h1M325 723h1M348 723h1M514 723h2M736 723h1M127 724h1M130 724h1M132 724h1M221 724h1M225 724h1M227 724h1M233 724h1M255 724h1M257 724h1M317 724h1M325 724h1M359 724h1M506 724h1M514 724h2M617 724h1M128 725h1M130 725h1M220 725h2M223 725h1M348 725h1M505 725h1M513 725h1M517 725h1M730 725h1M156 726h1M231 726h1M235 726h1M317 726h1M321 726h2M353 726h1M511 726h1M707 726h1M728 726h1M153 727h1M234 727h1M237 727h1M320 727h1M444 727h1M513 727h1M699 727h1M701 727h2M706 727h1M729 727h1M153 728h1M160 728h1M226 728h1M321 728h1M352 728h1M447 728h1M511 728h1M516 728h1M700 728h1M704 728h1M734 728h1M156 729h1M318 729h2M352 729h1M452 729h1M510 729h1M553 729h1M701 729h1M737 729h1M164 730h1M350 730h1M442 730h1M452 730h1M549 730h1M551 730h2M646 730h1M735 730h1M739 730h1M158 731h1M440 731h1M452 731h1M641 731h1M163 732h1M355 732h1M450 732h1M552 732h1M643 732h1M646 732h1M154 733h1M645 733h1M647 733h1M452 734h1M553 734h1M444 735h1M550 735h2M637 735h1M639 735h1M646 735h1M545 737h1M549 737h1M551 738h1M454 749h1M456 749h1M450 750h1M453 750h4M458 750h1M454 751h1M450 752h1M455 752h1M460 752h1M454 754h2M148 755h1M343 755h1M457 755h1M144 756h1M150 756h1M452 756h3M461 756h1M542 756h1M248 757h1M348 757h1M458 757h1M544 757h1M146 758h2M153 758h2M340 758h1M458 758h1M721 758h1M726 758h1M143 759h1M152 759h1M343 759h1M346 759h1M348 759h1M460 759h1M627 759h1M630 759h1M729 759h1M244 760h1M341 760h1M625 760h1M627 760h1M635 760h1M729 760h1M144 761h1M151 761h1M244 761h1M541 761h1M630 761h1M146 762h1M249 762h1M251 762h1M539 762h1M550 762h2M625 762h1M721 762h1M725 762h1M734 762h1M253 763h1M337 763h1M344 763h1M536 763h1M626 763h1M639 763h1M153 764h1M249 764h1M253 764h1M337 764h1M343 764h2M546 764h1M625 764h1M728 764h1M732 764h3M149 765h2M253 765h1M341 765h1M350 765h1M536 765h1M635 765h1M723 765h1M247 766h2M339 766h1M543 766h1M549 766h1M627 766h1M149 767h1M154 767h1M245 767h1M248 767h1M255 767h1M341 767h1M350 767h1M540 767h1M728 767h1M730 767h1M734 767h1M248 768h1M345 768h1M549 768h1M551 768h1M634 768h1M638 768h1M152 769h1M543 769h1M545 769h1M346 770h1M546 770h1" stroke="#ffffff" stroke-width="1" fill="none"/>
<path d="M697 608h1M601 613h1M498 614h1M218 615h1M690 616h1M700 616h1M606 617h1M609 618h1M411 619h1M414 619h1M301 620h1M320 620h1M687 621h1M122 622h1M203 622h1M493 622h1M496 623h1M205 624h1M687 624h1M115 625h1M318 625h1M205 627h1M306 628h1M596 629h1M700 630h1M311 631h1M128 632h1M311 632h1M219 633h1M128 635h1M407 638h1M118 643h1M6 671h1M8 671h1M21 671h1M7 673h1M25 675h1M10 680h1M602 718h1M602 719h1M218 722h1M607 725h1M123 727h1M220 727h1M413 728h1M224 729h1M320 729h1M495 730h1M405 731h1M496 731h1M303 732h1M318 732h1M493 732h1M206 733h1M493 733h1M302 734h1M125 736h1M322 736h1M688 736h1M300 737h1M493 737h1M124 739h1M304 740h1M500 742h1M516 745h1M705 745h1M313 746h1M706 746h1M711 746h1M514 747h1M701 747h1M704 747h1" stroke="#f6c3dc" stroke-width="1" fill="none"/>
<path d="M609 613h1M708 613h1M712 613h1M619 614h1M621 614h2M714 614h2M227 615h1M231 615h1M328 615h2M701 615h1M222 616h1M322 616h1M324 616h1M223 617h1M319 617h1M332 617h1M627 617h1M718 617h1M237 618h1M316 618h1M336 618h1M515 618h1M518 618h1M419 619h1M604 619h2M625 619h1M129 620h1M219 620h2M316 620h1M335 620h1M430 620h1M510 620h1M719 620h1M125 621h2M315 621h1M413 621h1M219 622h1M315 622h1M412 622h1M528 622h1M698 622h1M124 623h1M335 623h1M412 623h1M434 623h1M614 623h1M239 624h1M434 624h1M700 624h1M335 625h1M144 626h2M239 626h1M706 626h1M222 627h1M329 627h2M332 627h1M706 627h1M714 627h1M222 628h1M329 628h1M431 628h1M145 629h1M328 629h1M431 629h1M516 629h1M140 630h1M229 630h1M234 630h1M417 630h1M131 631h1M421 631h1M138 632h1M34 671h1M25 672h2M33 672h2M25 673h1M39 673h1M21 678h1M42 678h1M40 682h1M24 683h2M39 683h1M28 684h1M35 684h1M37 684h1M31 685h1M35 685h1M605 725h1M612 725h1M131 726h1M330 726h1M409 726h2M416 726h1M516 726h1M518 726h2M132 727h1M136 727h1M318 727h1M331 727h1M121 728h1M124 728h1M126 728h1M139 728h1M229 728h1M508 728h1M527 728h2M602 728h1M711 728h1M142 729h1M317 729h1M409 729h1M506 729h1M530 729h1M121 730h1M240 730h1M242 730h1M317 730h1M426 730h1M122 731h1M336 731h1M123 732h1M143 732h1M314 732h1M605 732h1M625 732h1M144 733h1M219 733h1M241 733h1M719 733h1M243 734h1M334 734h1M534 734h1M698 734h1M718 734h1M335 735h1M427 735h1M532 735h1M217 736h1M219 736h1M241 736h2M316 736h2M413 736h1M425 736h1M530 736h1M532 736h1M623 736h1M700 736h1M125 737h1M415 737h1M530 737h1M130 738h1M224 738h1M422 738h1M424 738h1M510 738h1M701 738h1M704 738h1M134 739h1M136 739h1M222 739h1M229 739h1M239 739h1M242 739h1M231 740h1M236 740h1M515 740h1M529 740h1M706 740h1M233 741h1" stroke="#f5e41a" stroke-width="1" fill="none"/>
<path d="M329 576h1M712 576h1M337 577h1M414 577h1M422 577h1M711 577h1M719 577h1M610 578h1M713 578h1M720 578h1M413 579h1M420 579h1M530 579h1M710 579h1M225 580h1M324 580h1M327 580h1M722 580h1M729 580h1M125 581h1M321 581h1M416 581h1M427 581h1M517 581h1M526 581h1M612 581h1M117 582h1M219 582h1M428 582h1M523 582h1M710 582h1M119 583h1M223 583h1M320 583h2M601 583h1M713 583h1M723 583h1M725 583h1M218 584h1M227 584h1M314 584h1M330 584h1M406 584h1M121 585h1M317 585h1M411 585h1M527 585h1M533 585h1M596 585h1M718 585h1M216 586h1M321 586h1M595 586h1M604 586h1M709 586h1M522 587h1M216 588h2M222 588h1M406 588h1M537 588h1M605 588h1M322 589h1M518 589h1M731 589h1M122 590h2M120 591h1M122 591h1M315 591h2M603 591h1M606 591h1M317 592h1M518 592h1M528 592h1M122 593h1M602 593h1M120 594h1M219 594h1M518 594h1M409 595h1M603 596h1M607 596h1M119 598h1M609 598h1M521 602h1M39 628h1M39 631h1M44 631h1M35 633h1M33 638h1M23 640h1M29 640h2M29 642h1M26 645h1M32 648h1M32 649h1M139 685h1M323 685h1M437 685h1M618 685h1M714 685h1M431 686h1M328 687h1M433 688h1M438 688h1M505 688h1M623 688h1M628 688h1M234 689h1M305 689h1M504 689h1M525 689h1M222 690h1M229 690h1M236 690h1M504 690h1M720 690h1M215 691h1M223 691h1M328 691h1M438 691h2M508 691h1M529 691h1M619 691h1M138 692h1M150 692h1M319 692h1M325 692h1M518 692h1M527 692h1M723 692h1M155 693h1M221 693h1M241 693h1M311 693h1M313 693h1M318 693h1M512 693h1M530 693h1M537 693h1M621 693h1M713 693h1M139 694h1M142 694h1M330 694h1M429 694h1M504 694h1M522 694h1M525 694h1M538 694h1M608 694h1M429 695h1M625 695h1M700 695h1M143 696h1M148 696h1M237 696h1M240 696h1M312 696h1M441 696h1M614 696h2M707 696h1M725 696h1M141 697h1M143 697h1M528 697h1M620 697h1M706 697h1M155 698h1M513 698h1M709 698h2M136 699h1M217 699h1M310 699h1M515 699h1M708 699h1M215 700h1M307 700h1M510 700h1M220 701h1M612 701h1M614 701h1M152 702h1M512 702h1M608 702h1M701 702h1M310 703h1M312 703h1M311 704h1M313 707h1" stroke="#7f99d6" stroke-width="1" fill="none"/>
<path d="M228 616h1M712 616h1M609 617h1M320 618h1M706 618h1M713 618h1M620 619h1M420 620h1M522 620h1M140 621h1M326 621h1M425 621h1M614 621h1M621 621h1M138 622h1M225 622h1M609 622h1M717 622h1M510 623h1M618 623h1M700 623h1M705 623h1M318 624h1M418 624h1M425 624h1M431 624h1M511 624h1M705 624h1M137 625h1M231 625h1M238 625h1M320 625h1M235 626h1M324 626h1M513 626h1M519 626h1M422 627h1M710 627h1M229 628h1M418 628h1M138 629h1M418 629h1M133 630h1M136 630h1M424 630h1M33 673h1M27 677h1M26 681h1M28 681h1M31 681h1M37 682h1M412 727h2M614 727h1M123 729h1M324 729h1M413 729h1M606 729h1M709 729h2M332 730h1M424 730h1M518 730h1M610 730h1M623 730h1M137 731h1M238 731h1M321 731h1M415 731h1M610 731h1M705 731h1M612 732h1M711 732h1M222 733h1M229 733h1M327 733h1M418 733h1M230 734h1M512 734h1M524 734h1M527 734h1M232 735h1M322 735h1M142 736h1M320 736h2M328 736h1M524 736h1M710 736h1M231 737h1M233 737h1M703 737h1M230 738h1M512 738h1M523 738h1" stroke="#f8ed6a" stroke-width="1" fill="none"/>
<path d="M334 585h1M339 586h1M624 587h1M622 589h1M613 590h1M718 590h1M728 590h1M730 591h1M127 592h1M727 592h1M125 593h2M428 593h1M528 593h1M619 593h1M240 594h1M243 594h1M328 594h1M332 594h1M429 594h1M129 595h1M235 595h1M243 595h1M336 595h1M417 595h1M421 595h1M527 595h1M730 595h1M231 596h1M422 596h1M529 596h1M135 597h1M331 597h1M426 597h1M623 597h1M232 598h1M236 598h1M327 598h1M623 598h1M723 598h1M245 599h1M322 599h1M429 599h1M536 599h1M619 599h1M730 599h1M323 600h1M340 600h1M713 600h1M727 600h1M326 601h1M626 601h1M722 601h1M130 602h1M231 602h1M238 602h2M430 602h1M128 603h2M336 603h2M531 603h1M716 603h1M327 604h1M535 604h1M537 604h1M723 605h1M133 606h1M535 607h1M718 607h1M129 608h1M43 639h1M48 645h1M44 647h1M39 651h1M35 655h1M37 656h1M40 657h1M35 658h1M46 658h1M37 659h1M331 695h1M334 699h1M526 699h2M529 699h1M139 700h1M319 700h1M431 700h1M621 700h1M324 701h1M517 701h1M706 701h1M134 702h1M227 702h1M704 702h1M711 702h2M227 703h1M320 703h1M328 703h1M432 703h1M512 703h1M523 703h1M139 704h1M142 704h1M516 704h1M710 704h1M713 704h1M517 705h1M329 706h1M526 706h1M710 706h1M333 707h1M435 707h1M630 707h2M706 707h1M712 707h1M141 708h1M320 708h1M616 708h1M721 708h1M139 709h1M335 709h1M432 709h1M617 709h1M624 709h1M713 709h1M222 710h1M330 710h1M429 710h1M516 710h1M530 710h1M326 711h1M435 711h1M514 711h1M718 711h1M235 712h1M432 712h1M528 712h1M623 712h1M139 713h1M702 713h1M721 713h1M146 714h1M521 714h1M516 715h1M140 716h1M716 717h1" stroke="#f07e7f" stroke-width="1" fill="none"/>
<path d="M235 579h1M240 580h1M234 581h1M340 581h1M622 581h1M241 582h1M336 583h2M243 584h1M342 584h1M243 585h1M244 586h1M342 586h1M433 586h1M628 586h1M229 587h1M326 587h1M430 587h1M628 587h2M730 587h1M136 588h2M419 588h1M422 588h1M539 588h1M247 589h1M326 589h1M611 589h1M632 589h1M719 589h1M611 590h1M229 591h1M433 591h1M634 591h1M712 591h1M733 591h1M139 592h1M343 592h1M417 592h1M541 592h1M633 592h1M124 593h1M342 593h1M414 593h1M733 593h1M124 594h1M320 594h1M322 594h1M523 594h1M711 594h1M228 595h1M319 595h1M411 595h1M433 595h1M523 595h1M121 596h1M321 596h1M433 596h1M229 597h1M248 597h1M320 597h1M433 597h1M522 597h1M708 597h1M732 597h1M343 598h1M731 598h1M120 599h1M343 599h1M410 599h1M247 600h1M540 600h1M614 600h1M631 600h1M709 600h1M228 601h1M246 601h1M341 601h1M409 601h1M618 601h1M632 601h1M122 602h1M230 602h1M247 602h1M323 602h1M411 602h1M540 602h1M625 602h1M241 603h3M341 603h2M321 604h1M538 604h1M236 605h1M324 605h1M428 605h1M711 605h1M726 605h1M143 606h1M413 606h1M723 606h1M728 606h1M338 607h1M427 607h1M536 607h1M538 607h1M711 607h2M717 607h1M722 607h1M726 607h1M138 608h1M326 608h1M417 608h1M424 608h1M532 608h1M536 608h1M718 608h1M125 609h1M135 609h1M138 609h2M528 609h1M536 609h1M726 609h1M133 610h1M130 611h1M134 611h1M45 637h1M45 638h1M36 641h1M48 641h1M48 642h1M35 643h1M33 645h1M31 647h1M30 650h1M31 656h1M49 656h1M35 661h1M36 662h1M43 662h1M39 663h1M42 663h1M37 664h1M328 693h2M335 695h1M334 696h1M521 696h1M528 696h1M531 696h1M534 696h1M536 696h1M526 697h1M721 697h1M141 698h1M153 698h1M228 698h1M316 698h1M536 698h1M149 699h1M240 699h1M318 699h1M335 699h1M430 699h1M618 699h1M620 699h1M632 699h2M705 699h1M712 699h1M716 699h1M725 699h1M226 700h1M512 700h1M516 700h1M618 700h1M134 701h1M242 701h1M335 701h1M427 701h1M615 701h1M426 702h1M535 702h1M155 703h1M335 703h1M511 703h1M537 703h1M613 703h1M509 704h1M700 704h1M132 705h1M314 705h1M426 705h1M509 705h1M242 706h1M698 706h2M723 706h1M336 707h1M700 707h1M221 708h1M313 708h1M533 708h1M698 708h1M153 709h1M443 709h1M508 709h1M611 709h1M152 710h2M723 710h1M221 711h1M533 711h1M150 712h2M220 712h1M510 712h1M612 712h1M722 712h1M318 713h1M511 713h1M222 714h1M430 714h1M432 714h1M436 714h1M630 714h1M722 714h1M146 715h1M149 715h1M222 715h2M238 715h1M320 715h1M438 715h1M513 715h1M614 715h2M722 715h1M323 716h1M511 716h1M702 716h1M144 717h1M150 717h1M229 717h1M231 717h1M236 717h1M518 717h1M522 717h1M524 717h1M616 717h3M625 717h1M704 717h1M226 718h1M233 718h1M235 718h1M439 718h1M515 718h1M706 718h1M709 718h1M716 718h1M621 719h1M714 719h1" stroke="#f29293" stroke-width="1" fill="none"/>
<path d="M708 585h1M516 590h1M318 592h1M322 592h1M113 593h1M317 593h1M316 594h1M318 594h1M229 595h1M608 595h1M323 596h1M704 596h1M614 597h1M704 598h1M324 600h1M115 601h1M324 601h1M235 602h1M320 602h1M408 602h1M620 602h1M713 602h1M117 603h1M225 605h1M705 605h1M319 606h1M412 606h1M519 606h1M716 606h1M418 608h1M423 609h1M524 609h1M700 609h1M240 610h1M528 610h1M607 610h1M314 611h1M334 611h1M425 611h1M513 611h1M607 611h1M618 612h1M121 613h1M313 613h1M315 613h1M220 614h1M222 614h1M333 614h1M611 614h1M614 614h2M228 615h1M237 615h1M335 615h1M614 615h1M618 615h1M234 616h1M316 616h1M325 616h1M327 617h1M333 617h1M511 617h1M526 617h1M327 618h1M526 618h1M135 619h1M526 619h1M134 620h1M407 620h1M422 620h1M515 620h1M133 621h1M421 621h1M130 622h2M125 623h2M23 638h1M25 639h2M22 640h1M26 641h1M33 649h1M27 655h1M36 655h1M26 659h1M37 661h1M18 669h1M20 669h1M26 674h1M30 674h1M36 674h1M32 675h1M30 676h2M608 696h1M423 697h1M506 697h1M506 698h1M507 699h1M607 699h1M610 699h1M422 700h1M508 700h1M217 701h1M422 701h1M134 703h1M308 703h1M607 703h1M606 704h1M312 705h1M221 706h1M135 707h1M218 708h1M615 709h1M506 710h1M135 711h1M606 711h1M425 714h1M427 714h1M605 716h1M618 716h1M431 718h1M323 719h1M432 719h1M432 720h1M430 721h1M612 723h2M135 724h1M698 724h1M504 725h1M521 725h1M132 726h1M615 726h2M134 727h1M238 728h1M517 728h1M519 728h1M707 728h1M129 729h1M131 729h1M240 729h1M518 729h1M702 729h1M127 730h1M129 730h1M236 730h1M238 730h1M321 730h1M514 730h1M227 731h1M230 731h1M316 731h1M223 732h1M226 732h1M507 732h1M232 733h1M507 733h1M512 733h1M507 734h1" stroke="#9edde1" stroke-width="1" fill="none"/>
<path d="M615 577h1M234 578h1M612 578h1M236 579h1M620 579h1M230 583h1M613 583h1M610 584h1M136 585h1M140 585h1M607 585h1M129 586h1M420 586h1M717 586h1M737 586h1M137 587h1M608 587h1M721 587h1M228 588h1M327 588h1M534 588h1M540 588h1M608 588h1M736 588h1M713 590h1M142 591h1M609 591h1M710 592h1M734 592h1M119 593h1M226 593h1M436 593h1M410 594h1M344 595h1M412 595h1M707 595h1M633 596h1M412 597h1M634 597h1M342 598h1M318 599h1M411 599h1M436 599h1M251 600h1M345 600h1M226 601h1M345 601h1M433 603h1M121 604h1M241 604h1M409 604h1M623 604h1M412 605h1M435 605h1M240 607h1M335 607h1M420 607h1M727 607h1M127 608h1M238 608h1M324 608h1M421 608h1M721 608h1M419 609h1M327 610h1M426 610h1M536 610h1M724 610h1M530 611h1M534 611h1M718 611h1M721 611h1M47 632h1M45 634h1M39 637h1M46 637h1M29 647h1M50 651h1M27 653h1M49 654h1M29 657h1M29 658h1M35 665h1M38 665h1M39 666h1M331 690h1M542 693h1M629 693h1M534 694h1M628 694h1M630 694h1M150 695h1M431 696h1M155 697h1M320 697h1M430 697h1M726 697h1M137 698h1M143 698h1M227 699h1M425 699h1M223 700h1M243 700h1M129 701h1M133 701h1M221 701h2M444 701h1M723 701h1M131 702h1M315 702h1M159 703h1M219 704h1M424 704h1M244 705h1M446 705h1M725 705h1M728 705h1M700 706h1M536 707h1M337 708h1M695 708h1M725 708h1M152 709h1M218 710h1M425 710h1M240 711h1M337 711h1M424 712h1M130 713h1M319 713h1M338 713h1M634 713h1M151 714h2M438 714h1M134 715h1M611 715h1M697 715h1M724 715h1M145 716h1M328 716h1M437 716h1M142 717h1M513 717h1M140 718h1M240 718h1M134 719h1M236 719h1M622 719h1M617 720h1M622 720h1M706 720h1M718 721h1" stroke="#f6afb0" stroke-width="1" fill="none"/>
<path d="M697 610h1M698 611h1M507 612h1M694 612h1M310 613h1M691 613h2M312 615h1M598 616h1M210 617h1M594 617h1M596 617h1M207 618h1M593 618h1M607 618h1M207 620h1M591 620h1M403 621h1M222 622h2M319 622h1M510 622h2M591 622h1M687 622h1M702 622h1M413 623h1M610 623h1M118 624h1M121 624h1M206 624h1M495 624h2M116 625h1M398 625h1M496 625h1M123 626h1M317 626h1M398 626h1M499 626h1M506 626h1M704 626h1M114 627h1M500 627h1M502 627h1M505 627h2M692 627h1M399 628h1M126 629h1M209 629h1M399 629h1M602 629h2M608 629h1M610 629h1M697 629h1M702 629h1M219 630h1M310 630h1M397 630h1M701 630h1M212 631h1M112 632h1M126 632h1M211 632h1M399 632h2M126 633h1M113 634h1M126 634h1M414 634h1M401 635h1M414 636h1M411 637h1M114 639h1M116 639h1M117 640h1M116 641h1M121 641h2M120 643h1M20 670h1M22 671h1M23 672h1M6 675h1M7 676h1M10 679h1M11 680h1M20 681h1M17 682h1M404 716h1M406 716h2M405 717h1M410 718h1M601 719h1M594 720h2M602 720h1M604 720h1M120 724h2M217 724h1M119 725h1M506 725h1M606 725h1M123 726h1M212 726h1M217 726h1M505 726h1M508 726h1M114 727h1M313 727h1M400 727h1M605 727h1M307 728h1M309 728h1M509 728h1M222 729h1M305 730h1M403 730h2M408 730h1M318 731h1M124 732h1M209 732h1M222 732h1M594 732h1M598 733h2M696 733h1M110 734h1M303 734h1M495 734h1M111 735h1M302 735h1M494 735h2M700 735h1M207 736h1M303 737h1M323 737h1M689 737h1M122 738h1M116 739h1M120 739h1M122 739h1M209 739h1M703 739h1M224 740h1M223 741h1M322 741h1M515 742h1M707 742h1M222 743h2M310 743h1M503 743h1M514 743h1M220 744h1M306 744h1M310 744h1M312 744h1M318 744h1M323 744h1M688 744h1M318 745h1M697 746h1" stroke="#e868a8" stroke-width="1" fill="none"/>
<path d="M618 577h1M620 578h1M238 579h1M614 579h1M616 579h1M618 579h1M238 580h1M618 580h1M338 581h1M242 582h1M335 583h1M340 584h1M625 584h1M328 585h1M429 585h1M329 586h1M341 586h1M428 586h2M432 586h1M611 586h1M721 586h1M728 586h1M245 587h1M429 587h1M734 587h1M245 588h1M325 588h1M538 588h1M631 588h1M721 588h1M137 589h1M245 589h1M323 589h1M715 589h1M248 590h1M325 590h1M342 590h1M432 590h1M536 590h1M734 590h1M123 591h1M140 591h1M342 591h1M417 591h2M527 591h1M611 591h1M714 591h1M229 592h1M248 592h1M323 592h1M416 592h1M540 592h1M228 593h2M249 593h1M433 593h1M524 593h1M543 593h1M710 593h1M712 593h1M123 594h1M610 594h1M733 594h1M140 595h1M432 595h1M541 595h1M633 595h1M227 596h3M434 596h1M709 596h1M119 597h2M228 597h1M321 597h1M611 597h1M632 597h1M707 597h1M709 597h1M140 598h1M228 598h1M612 598h1M631 598h1M709 598h1M121 599h1M613 599h2M631 599h1M732 599h1M432 600h1M616 600h1M229 601h1M249 601h1M411 601h1M521 601h1M540 601h1M614 601h1M732 601h1M120 602h1M244 602h1M246 602h1M432 602h1M618 602h1M627 602h1M631 602h2M708 602h1M732 602h1M230 603h1M432 603h1M521 603h1M539 603h1M619 603h1M624 603h1M711 603h1M729 603h1M727 604h2M235 605h1M237 605h1M336 605h1M432 605h1M712 605h1M235 606h1M325 606h1M335 606h2M522 606h1M713 606h1M123 607h1M142 607h1M325 607h1M333 607h1M421 607h1M537 607h1M720 607h1M124 608h1M126 608h1M327 608h2M336 608h1M535 608h1M720 608h1M725 608h1M123 609h1M129 609h2M133 609h1M327 609h1M426 609h1M127 610h1M129 610h1M132 610h1M40 636h1M47 636h1M43 637h1M47 637h1M33 643h1M49 645h1M30 647h1M30 651h1M30 653h1M48 660h1M37 662h1M41 662h1M44 662h1M43 663h1M331 692h1M335 693h1M323 694h1M334 694h1M334 695h1M335 696h1M522 696h1M539 696h1M239 697h2M436 697h1M523 697h1M535 697h2M140 698h1M146 698h1M151 698h2M232 698h1M317 698h1M538 698h1M622 698h1M625 698h1M708 698h1M715 698h1M717 698h1M724 698h1M242 699h1M429 699h1M622 699h1M709 699h2M228 700h1M316 700h1M536 700h1M707 700h3M224 701h1M314 701h2M426 701h1M512 701h1M537 701h1M701 701h1M155 702h1M225 702h1M336 702h1M536 702h1M700 702h1M702 702h1M536 703h1M241 704h1M314 704h1M425 704h2M632 704h1M724 704h2M155 705h1M219 705h2M427 705h1M612 705h1M632 705h1M724 705h1M130 706h1M132 706h1M241 706h1M444 706h1M612 706h1M132 707h1M221 707h1M338 707h1M427 707h1M610 707h1M612 707h1M632 707h1M153 708h1M155 708h1M535 708h1M612 708h1M533 709h1M631 709h2M221 710h1M240 710h1M242 710h1M315 710h3M507 710h1M533 710h1M612 710h1M611 711h2M133 712h1M222 712h1M442 712h1M532 712h1M613 712h1M633 712h1M723 712h1M150 713h2M222 713h1M333 713h1M439 713h1M441 713h1M722 713h1M317 714h1M320 714h1M323 714h1M429 714h1M440 714h1M632 714h1M135 715h1M148 715h1M224 715h1M436 715h1M440 715h1M613 715h1M703 715h1M721 715h1M136 716h2M227 716h1M520 716h1M615 716h1M627 716h1M721 716h1M724 716h1M135 717h1M140 717h1M145 717h1M224 717h1M228 717h1M234 717h1M514 717h1M516 717h1M520 717h2M525 717h1M703 717h1M705 717h1M722 717h1M141 718h1M237 718h1M616 718h2M619 718h1M628 718h1M708 718h1M711 718h1M718 718h1M620 719h1M624 719h1M715 719h1M717 719h1M149 721h1" stroke="#e8383a" stroke-width="1" fill="none"/>
<path d="M240 577h1M232 578h1M617 578h1M704 578h1M612 579h1M236 580h1M241 580h1M705 581h1M340 582h1M229 583h1M231 584h1M133 585h1M424 585h2M707 585h1M732 585h1M430 586h1M131 587h1M431 587h1M539 587h1M541 587h1M127 588h1M229 588h1M322 588h1M431 588h1M127 589h1M516 589h1M542 589h1M544 589h1M734 589h1M115 590h1M125 590h1M226 590h1M415 590h1M633 590h1M126 591h1M155 591h1M159 591h1M220 591h1M321 591h1M435 591h1M125 592h1M251 592h1M526 592h1M709 592h1M160 593h1M319 593h1M115 594h1M119 594h1M434 594h1M521 594h1M112 595h1M226 595h2M233 595h1M252 595h1M520 595h1M543 595h1M610 595h1M710 595h1M161 596h1M343 596h1M432 596h1M164 597h1M343 597h1M615 597h1M617 597h1M635 597h1M735 597h1M616 598h1M122 599h1M251 599h1M435 600h1M541 600h1M733 600h1M410 601h1M518 601h1M714 601h1M731 601h1M115 602h1M410 602h1M542 602h1M143 603h1M151 604h1M236 604h1M238 604h1M329 604h1M521 604h1M618 604h1M622 604h1M709 604h1M119 605h1M234 605h1M322 605h1M413 605h1M542 605h1M117 606h1M339 606h1M714 606h1M230 607h1M239 607h1M326 607h1M410 607h1M414 607h2M432 607h1M519 607h1M622 607h1M710 607h1M121 608h1M140 608h1M337 608h1M441 608h1M519 608h1M706 608h1M142 609h1M325 609h1M336 609h1M438 609h1M449 609h1M517 609h1M523 609h1M525 609h1M712 609h1M717 609h1M513 610h1M695 610h1M722 610h2M133 611h1M136 611h1M155 611h1M158 611h1M325 611h1M635 611h1M714 611h1M155 612h1M219 612h1M408 612h1M437 612h1M608 612h1M612 612h1M703 612h1M708 612h1M304 613h1M306 613h1M312 613h1M605 613h1M619 613h1M634 613h1M715 613h3M257 614h1M307 614h1M603 614h1M216 615h1M224 615h1M236 615h1M434 615h1M532 615h1M608 615h1M616 615h1M705 615h1M711 615h1M733 615h1M122 616h1M262 616h1M315 616h1M590 616h1M593 616h1M627 616h2M634 616h1M698 616h1M736 616h1M235 617h1M238 617h1M241 617h1M260 617h1M406 617h1M496 617h1M520 617h1M550 617h1M612 617h1M629 617h1M317 618h1M324 618h1M407 618h1M409 618h1M448 618h2M511 618h1M552 618h1M652 618h1M132 619h1M142 619h1M301 619h1M323 619h1M431 619h1M509 619h1M520 619h1M552 619h1M702 619h1M127 620h1M328 620h1M404 620h1M414 620h1M421 620h1M495 620h1M545 620h1M628 620h1M206 621h1M263 621h1M313 621h2M410 621h1M432 621h1M515 621h1M605 621h1M651 621h1M742 621h1M116 622h1M118 622h1M150 622h1M216 622h1M226 622h1M311 622h1M407 622h1M411 622h1M516 622h1M636 622h1M721 622h1M117 623h1M320 623h1M417 623h1M529 623h1M612 623h1M703 623h1M720 623h1M127 624h1M248 624h1M494 624h1M652 624h1M697 624h1M718 624h1M724 624h1M114 625h1M147 625h1M240 625h1M263 625h1M434 625h1M509 625h1M632 625h1M641 625h1M688 625h1M718 625h1M127 626h1M240 626h1M334 626h1M343 626h1M437 626h1M495 626h1M540 626h1M590 626h1M592 626h1M640 626h1M700 626h1M128 627h1M157 627h1M220 627h1M241 627h1M433 627h1M530 627h1M632 627h1M713 627h1M316 628h1M324 628h1M443 628h1M512 628h1M514 628h1M540 628h1M614 628h1M632 628h1M716 628h1M224 629h1M432 629h1M522 629h1M694 629h1M128 630h1M233 630h1M432 630h1M517 630h1M528 630h1M603 630h1M616 630h1M138 631h1M220 631h1M356 631h1M137 632h1M141 632h1M208 632h1M230 632h1M307 632h1M340 632h1M728 632h1M131 633h1M218 633h1M727 633h1M42 634h1M47 634h1M212 634h1M647 634h1M729 634h1M45 635h1M335 635h1M334 636h1M399 636h1M438 636h1M717 636h1M731 636h1M734 636h1M41 637h1M112 637h1M439 638h1M127 639h1M406 639h1M409 639h1M36 640h1M112 640h1M441 640h1M638 640h1M31 641h1M638 642h1M119 643h1M152 643h1M436 643h1M655 643h1M33 644h1M153 644h1M722 644h1M253 645h1M344 645h1M346 645h1M533 645h1M251 646h1M259 646h2M342 646h1M529 646h1M543 646h1M637 646h1M155 647h1M349 647h1M528 647h1M655 647h1M731 647h1M156 648h1M354 648h1M50 649h1M434 649h1M527 649h1M543 649h1M639 649h1M27 650h1M52 650h1M265 650h1M338 650h1M354 650h1M264 651h1M335 651h1M737 651h1M38 652h1M156 652h1M647 652h1M243 653h1M246 654h1M718 654h1M30 655h1M736 655h1M267 657h1M353 657h1M719 657h1M248 658h1M261 658h1M356 658h1M451 658h1M547 658h1M718 658h1M250 659h1M720 659h1M730 659h1M39 660h1M262 660h1M448 660h1M159 661h1M256 661h1M720 661h1M436 662h1M440 662h1M343 663h1M436 663h1M443 663h1M44 664h1M442 664h1M63 666h1M18 667h1M21 668h1M60 669h1M67 669h1M37 670h1M18 672h1M37 672h1M19 673h1M45 673h1M21 674h1M25 674h1M19 675h1M23 675h1M51 676h1M43 677h1M8 678h1M19 678h1M36 678h1M41 678h1M23 679h1M25 679h1M31 679h1M50 679h1M33 680h1M36 680h1M42 680h1M62 682h1M59 684h1M128 684h1M30 685h1M128 685h1M134 688h1M336 689h1M130 690h1M605 690h1M332 691h2M130 692h1M533 693h1M633 693h1M625 694h1M629 694h1M237 695h1M717 695h1M721 695h1M238 696h1M506 696h1M537 696h1M541 696h1M145 697h1M215 697h1M303 697h1M435 697h1M534 697h1M608 697h1M623 697h1M433 698h1M515 698h1M705 698h1M711 698h1M505 699h1M514 699h1M129 700h1M425 700h1M710 700h1M48 701h1M697 701h2M48 702h1M425 702h1M633 702h1M635 702h1M222 703h1M132 704h1M158 704h1M612 704h1M699 704h1M157 705h1M339 705h1M633 705h1M726 705h1M46 706h1M312 706h1M314 706h1M506 706h1M634 706h1M49 707h1M220 707h1M533 707h1M609 707h1M129 708h1M220 708h1M241 708h1M255 708h1M607 708h1M610 708h1M696 708h1M218 709h1M259 709h1M512 709h1M67 710h1M260 710h1M532 710h1M52 711h1M129 711h1M154 711h1M424 711h1M427 711h2M510 711h1M609 711h1M616 711h1M722 711h1M428 712h1M446 712h1M697 712h1M250 713h1M314 713h1M317 713h1M337 713h1M424 713h1M697 713h1M326 714h1M331 714h1M350 714h1M417 714h1M533 714h1M724 714h1M240 715h1M405 715h1M409 715h1M415 715h1M507 715h1M534 715h1M702 715h1M149 716h1M355 716h1M438 716h1M507 716h1M514 716h1M222 717h1M320 717h1M432 717h1M699 717h1M723 717h1M148 718h1M248 718h1M400 718h1M433 718h1M524 718h1M526 718h1M624 718h1M144 719h1M226 719h1M228 719h1M239 719h1M355 719h1M512 719h1M520 719h1M525 719h1M603 719h1M725 719h1M142 720h1M231 720h1M249 720h1M325 720h1M516 720h1M608 720h1M621 720h1M721 720h1M227 721h1M414 721h1M506 721h1M523 721h1M619 721h1M623 721h1M706 721h1M115 722h1M123 722h1M125 722h1M219 722h1M345 723h1M729 723h1M154 724h1M160 724h1M162 724h1M261 724h1M344 724h1M412 724h1M429 724h1M505 724h1M510 724h1M725 724h1M134 725h1M262 725h1M359 725h1M448 725h1M511 725h1M743 725h2M125 726h1M161 726h1M237 726h1M312 726h1M421 726h1M424 726h1M526 726h1M127 727h1M307 727h1M327 727h1M438 727h1M500 727h1M525 727h1M590 727h1M618 727h1M712 727h1M743 727h1M164 728h1M221 728h1M310 728h1M316 728h1M319 728h1M334 728h1M424 728h1M454 728h1M556 728h1M617 728h1M621 728h1M119 729h1M127 729h1M218 729h1M401 729h1M438 729h1M502 729h1M711 729h1M126 730h1M210 730h1M219 730h1M304 730h1M319 730h1M336 730h1M401 730h1M534 730h1M603 730h1M111 731h1M124 731h1M129 731h1M219 731h1M324 731h1M403 731h1M412 731h1M429 731h1M505 731h1M512 731h1M517 731h1M555 731h1M729 731h1M144 732h1M149 732h1M235 732h1M243 732h1M405 732h1M453 732h1M541 732h1M593 732h1M629 732h1M236 733h1M253 733h1M358 733h1M506 733h1M511 733h1M604 733h1M123 734h1M227 734h1M358 734h1M412 734h1M592 734h1M594 734h1M606 734h1M629 734h1M697 734h1M125 735h1M536 735h1M555 735h1M691 735h1M717 735h1M719 735h1M220 736h1M300 736h1M434 736h1M726 736h1M120 737h1M123 737h1M154 737h1M525 737h1M144 738h1M150 738h1M218 738h1M332 738h1M427 738h1M507 738h1M539 738h1M635 738h1M688 738h1M123 739h1M158 739h1M301 739h1M318 739h1M639 739h1M646 739h1M700 739h1M124 740h1M127 740h1M137 740h1M227 740h1M242 740h1M324 740h1M327 740h1M332 740h1M523 740h1M530 740h1M536 740h1M329 741h1M343 741h1M513 741h1M525 741h1M711 741h1M498 742h1M526 742h1M710 742h1M324 743h1M430 743h1M525 743h1M714 743h1M214 744h1M311 744h1M507 744h1M514 744h2M718 744h1M142 745h1M216 745h1M308 745h1M704 745h1M217 746h1M314 746h1M214 747h1M314 747h1M456 747h1M707 747h1M217 748h1M448 748h1M146 751h1M465 751h1M464 752h1M545 753h1M244 754h1M243 755h1M253 755h1M347 755h1M140 756h1M336 756h1M353 756h1M463 756h1M540 756h1M626 756h1M337 757h1M538 757h1M540 757h1M240 758h1M730 758h1M734 758h1M241 759h1M335 759h1M640 759h1M354 760h1M537 760h1M734 760h1M534 761h1M554 761h1M139 762h1M238 762h1M533 764h1M621 764h1M553 765h1M643 766h1M142 767h1M553 767h1M738 767h1M259 768h1M553 768h1M349 769h1M626 769h1M735 769h1M352 770h1M639 770h1M151 771h1M155 771h1M634 771h1M638 771h2M732 771h1M148 772h1M348 772h1M545 772h2M631 772h1M635 772h1M344 774h1" stroke="#dedede" stroke-width="1" fill="none"/>
<path d="M319 589h1M227 594h1M322 595h1M405 595h1M411 596h1M619 600h1M235 603h1M712 603h1M409 605h1M331 606h1M521 607h1M524 607h1M333 609h1M718 609h1M408 610h1M404 612h1M338 613h1M699 613h1M315 614h1M529 614h1M532 614h1M610 614h1M716 614h1M699 615h1M528 616h1M614 616h1M708 616h1M122 618h1M135 618h1M402 618h1M405 618h1M522 619h1M319 620h1M406 621h1M409 623h1M30 643h1M32 644h1M37 652h1M36 654h1M19 668h1M16 670h1M33 677h1M36 677h1M502 692h1M610 693h1M511 700h1M311 702h1M607 705h1M315 707h1M136 710h1M422 713h1M606 713h1M516 714h1M606 715h1M617 715h1M418 716h1M138 718h1M434 719h1M701 723h1M125 725h1M520 725h1M609 725h1M239 726h1M621 726h1M523 728h1M615 728h1M135 729h1M225 731h1M503 731h1M518 732h1M505 733h1M225 736h1" stroke="#b9e6e9" stroke-width="1" fill="none"/>
<path d="M614 580h2M617 581h1M234 582h1M236 582h1M335 582h2M612 582h4M617 582h3M236 583h1M238 583h1M334 583h1M611 583h1M614 583h3M618 583h1M620 583h1M234 584h2M237 584h2M240 584h1M331 584h2M334 584h4M611 584h4M618 584h2M232 585h1M234 585h4M239 585h2M331 585h3M335 585h1M612 585h1M614 585h5M132 586h2M231 586h1M234 586h4M330 586h4M335 586h2M338 586h1M424 586h2M613 586h7M726 586h1M128 587h2M133 587h3M232 587h2M235 587h4M240 587h1M331 587h1M334 587h4M423 587h6M536 587h1M613 587h1M616 587h1M619 587h1M723 587h3M727 587h1M128 588h1M131 588h1M133 588h2M232 588h1M236 588h2M331 588h1M335 588h2M421 588h1M423 588h5M535 588h1M614 588h1M617 588h1M619 588h1M722 588h2M727 588h2M129 589h1M131 589h1M134 589h1M136 589h1M232 589h4M237 589h1M330 589h5M336 589h2M420 589h5M428 589h1M532 589h1M535 589h2M722 589h7M129 590h1M132 590h1M135 590h2M332 590h3M337 590h1M421 590h1M423 590h1M426 590h3M530 590h6M722 590h1M724 590h1M726 590h2M131 591h3M420 591h2M425 591h1M427 591h1M531 591h2M534 591h1M536 591h1M538 591h1M720 591h8M131 592h1M133 592h1M136 592h1M420 592h2M424 592h1M427 592h1M534 592h1M536 592h3M721 592h1M723 592h4M130 593h3M134 593h1M421 593h4M426 593h1M532 593h3M537 593h2M722 593h3M726 593h2M130 594h1M132 594h1M423 594h3M532 594h1M535 594h4M724 594h4M535 595h1M537 595h1M533 596h2M536 596h1M44 638h1M42 639h1M44 639h2M39 640h2M42 640h4M38 641h4M43 641h1M36 642h5M42 642h1M44 642h1M36 643h2M39 643h1M42 643h1M35 644h7M35 645h2M38 645h4M33 646h1M35 646h1M37 646h2M33 647h1M35 647h1M37 647h2M33 648h4M34 649h3M32 650h1M34 650h1M32 651h2M443 692h1M438 693h6M234 694h1M326 694h2M441 694h1M443 694h1M231 695h2M235 695h1M320 695h1M323 695h3M327 695h1M438 695h6M627 695h2M229 696h7M321 696h8M330 696h1M439 696h2M442 696h2M626 696h1M628 696h1M228 697h3M232 697h1M234 697h5M322 697h4M327 697h1M329 697h1M438 697h4M443 697h1M524 697h2M625 697h1M628 697h2M229 698h1M231 698h1M233 698h5M322 698h1M325 698h5M440 698h1M443 698h2M520 698h1M522 698h1M623 698h2M626 698h1M629 698h1M720 698h2M147 699h2M228 699h1M233 699h6M323 699h1M325 699h3M329 699h1M438 699h1M440 699h1M442 699h1M518 699h1M520 699h1M522 699h2M625 699h3M630 699h1M719 699h1M721 699h1M143 700h4M149 700h1M230 700h1M233 700h1M237 700h1M323 700h2M326 700h1M328 700h2M441 700h2M521 700h1M523 700h1M526 700h1M629 700h2M718 700h1M721 700h1M145 701h2M150 701h1M232 701h7M327 701h2M439 701h3M519 701h1M523 701h1M526 701h2M624 701h2M627 701h1M629 701h1M715 701h3M719 701h1M721 701h1M143 702h4M149 702h2M232 702h4M237 702h1M441 702h1M521 702h1M523 702h4M624 702h1M628 702h1M715 702h7M144 703h1M146 703h1M148 703h1M150 703h1M233 703h1M236 703h2M520 703h1M525 703h1M624 703h1M626 703h3M715 703h7M144 704h1M149 704h2M232 704h2M235 704h1M237 704h1M521 704h2M524 704h1M626 704h1M716 704h2M719 704h1M721 704h1M144 705h5M716 705h2M147 706h1" stroke="#2f4f4f" stroke-width="1" fill="none"/>
<path d="M696 611h2M500 612h1M504 612h1M693 612h1M698 612h2M311 614h1M689 614h1M316 615h1M690 615h1M209 616h1M212 616h1M219 616h1M305 616h1M510 616h1M603 616h1M592 617h1M595 617h1M689 617h1M219 618h1M221 618h1M304 618h1M511 620h1M687 620h2M412 621h1M301 622h1M402 622h1M414 622h1M610 622h1M319 623h1M414 623h1M688 623h1M119 624h1M509 624h1M123 625h1M415 625h2M592 625h1M704 625h1M415 626h1M501 626h2M508 626h1M688 626h1M207 627h1M305 627h1M207 628h1M398 628h1M610 628h1M111 629h1M312 629h1M416 629h1M605 629h1M607 629h1M699 629h1M703 629h1M221 630h1M400 633h1M413 635h1M412 636h1M402 637h1M405 637h1M408 638h1M115 639h1M118 640h1M125 640h1M123 641h1M16 667h1M13 669h1M9 670h2M21 670h1M22 672h1M8 673h1M22 674h1M24 674h1M20 680h1M404 717h1M409 717h1M412 719h1M593 721h1M604 722h1M121 723h1M414 723h1M591 723h2M119 724h1M122 724h1M590 724h1M399 725h1M501 726h1M503 726h2M606 726h1M311 727h1M497 727h1M501 727h2M311 728h1M314 728h1M401 728h1M412 728h1M510 728h1M211 729h1M307 729h1M309 729h1M316 729h1M411 729h1M510 730h1M319 731h2M404 731h1M511 731h1M511 732h1M303 733h1M597 733h1M601 733h1M320 734h1M694 734h2M123 735h1M208 735h1M223 735h1M690 735h1M223 736h1M512 736h1M494 737h1M114 738h1M323 738h1M495 738h1M113 739h1M119 740h1M687 740h1M514 742h1M688 742h1M212 743h2M322 743h1M513 743h1M710 743h1M320 744h2M505 744h1M508 744h1M512 744h2M218 745h2M316 745h1M319 745h1M702 746h1" stroke="#f2accf" stroke-width="1" fill="none"/>
<path d="M326 614h1M711 614h1M319 615h1M231 616h1M235 616h2M323 616h1M624 616h1M603 617h1M333 618h1M697 618h2M511 619h1M130 620h2M138 620h1M218 620h1M239 620h1M605 620h1M696 620h1M431 621h1M526 621h1M697 621h1M218 622h1M240 623h1M411 623h1M433 623h1M509 623h1M528 623h1M620 623h2M623 623h1M718 623h2M219 624h2M508 624h1M530 624h1M612 624h1M145 625h1M219 625h1M529 625h1M125 626h1M509 626h1M412 627h1M511 627h1M707 627h1M715 627h2M125 628h1M226 628h1M321 628h1M328 628h1M711 628h2M142 629h1M433 629h1M127 630h1M428 630h1M132 631h1M423 631h1M32 671h1M36 672h1M40 673h1M23 674h1M21 677h1M21 679h1M21 681h1M39 682h1M23 683h1M26 684h1M32 684h1M39 684h1M29 685h1M411 725h1M608 725h1M324 726h1M418 726h1M126 727h1M135 727h1M408 727h1M520 727h1M604 727h1M617 727h1M332 728h2M422 728h1M507 728h1M526 728h1M603 728h1M705 728h1M141 729h1M226 729h1M228 729h1M232 729h1M238 729h1M601 729h1M622 729h2M123 730h1M142 730h1M222 730h1M334 730h1M532 730h1M144 731h1M146 731h1M221 731h1M699 731h1M122 732h1M220 732h1M508 732h1M607 732h1M410 733h1M427 733h1M508 733h1M698 733h1M218 734h1M242 734h1M610 734h1M144 735h1M217 735h1M334 735h1M612 735h1M533 736h1M615 736h1M617 736h1M717 736h1M122 737h1M220 737h1M332 737h1M425 737h1M699 737h1M126 738h1M133 738h1M141 738h1M419 738h1M529 738h1M715 738h1M225 739h1M326 739h1M418 739h1M512 739h1M228 740h1M237 740h1M514 740h1M525 740h1M234 741h1M523 741h1M520 742h1" stroke="#faf081" stroke-width="1" fill="none"/>
<path d="M333 573h1M330 574h1M332 574h2M335 574h1M411 574h1M413 574h1M616 574h2M709 574h1M716 574h1M718 574h1M724 574h1M238 575h1M240 575h1M322 575h1M341 575h1M408 575h1M418 575h1M527 575h1M532 575h1M612 575h1M617 575h1M707 575h1M712 575h1M722 575h1M729 575h1M230 576h1M241 576h1M410 576h1M521 576h1M524 576h1M528 576h1M607 576h1M619 576h1M707 576h1M710 576h1M727 576h1M127 577h1M226 577h1M315 577h1M318 577h1M424 577h1M427 577h1M531 577h1M534 577h1M536 577h1M708 577h1M730 577h1M126 578h1M128 578h1M340 578h1M402 578h1M406 578h1M429 578h1M515 578h1M731 578h1M115 579h1M240 579h1M402 579h1M514 579h1M516 579h1M599 579h1M707 579h1M110 580h1M114 580h1M120 580h1M131 580h1M218 580h1M220 580h1M312 580h1M404 580h1M432 580h1M538 580h1M619 580h1M732 580h1M734 580h2M114 581h1M401 581h1M138 582h1M214 582h1M434 582h1M592 582h1M139 583h1M339 583h1M735 583h1M109 584h1M136 584h1M311 584h1M433 584h1M736 584h1M401 585h1M544 585h1M312 586h1M403 586h1M541 586h1M593 586h1M735 586h2M110 587h2M515 588h1M590 588h1M592 588h1M707 588h1M135 589h1M212 589h1M425 589h1M515 589h1M592 589h1M708 589h1M111 590h1M310 590h1M725 590h1M110 591h2M591 591h1M112 592h1M213 592h1M215 592h1M311 592h1M419 592h1M514 592h1M592 592h1M708 592h1M313 593h1M404 593h1M708 593h2M715 593h1M217 594h1M527 594h1M596 594h1M708 594h1M113 595h1M313 595h1M613 595h1M113 596h1M220 596h1M405 596h1M602 596h1M612 596h1M405 597h1M515 597h1M601 597h2M115 598h1M314 598h1M316 598h1M516 598h1M226 599h1M230 599h1M320 599h1M405 599h1M516 599h1M609 599h3M118 600h2M121 600h1M225 600h1M515 601h1M227 602h1M408 603h1M519 604h1M42 626h1M27 627h1M36 627h1M42 627h1M44 627h1M48 627h1M21 628h1M49 629h1M21 630h1M50 630h1M19 631h1M20 632h1M48 632h1M20 634h1M20 635h2M20 636h1M21 639h1M21 640h1M20 644h1M22 646h1M25 647h1M231 683h1M320 683h1M519 683h1M614 683h1M713 683h1M216 684h1M221 684h1M224 684h1M232 684h1M310 684h1M313 684h1M316 684h1M325 684h2M441 684h1M505 684h1M514 684h1M615 684h1M708 684h2M712 684h1M715 684h1M136 685h1M143 685h1M221 685h1M223 685h1M227 685h1M236 685h1M311 685h2M315 685h1M321 685h1M324 685h1M425 685h1M427 685h2M430 685h1M432 685h1M506 685h1M519 685h1M525 685h2M613 685h1M615 685h1M621 685h1M623 685h1M626 685h2M630 685h1M708 685h2M147 686h1M149 686h1M152 686h1M215 686h1M234 686h1M306 686h1M423 686h1M440 686h1M508 686h1M530 686h1M706 686h2M718 686h1M151 687h1M215 687h1M422 687h1M444 687h1M500 687h1M502 687h1M505 687h1M608 687h1M629 687h2M702 687h1M152 688h2M213 688h1M242 688h1M304 688h1M337 688h2M424 688h1M444 688h1M447 688h1M537 688h1M634 688h2M726 688h1M212 689h1M214 689h1M338 689h1M535 689h1M725 689h1M153 690h1M240 690h1M302 690h1M445 690h1M606 690h1M157 691h1M211 691h3M241 691h1M635 691h1M698 691h1M212 692h1M448 692h1M500 692h1M639 692h1M727 692h1M130 693h2M157 693h2M242 693h1M421 693h2M500 693h1M540 693h1M638 693h2M699 693h1M727 693h1M131 694h1M157 694h1M300 694h1M303 694h1M445 694h1M500 694h1M606 694h1M729 694h1M242 695h1M303 695h1M605 695h1M637 695h1M699 695h1M157 696h2M212 696h1M303 696h1M422 696h1M500 696h1M635 696h1M131 697h1M159 697h1M242 697h1M421 697h1M501 697h1M538 697h1M697 697h1M158 698h1M240 698h1M303 698h1M320 698h1M501 698h1M605 698h2M697 698h1M158 699h1M212 699h1M302 699h1M422 699h1M722 699h2M728 699h1M160 700h1M213 700h1M300 700h1M502 700h1M619 700h1M147 701h1M228 701h1M302 701h1M499 701h1M607 701h1M617 701h1M137 702h1M213 702h1M502 702h1M513 702h1M515 702h1M708 702h1M157 703h1M301 703h1M500 703h1M697 703h1M154 704h1M226 704h1M422 704h1M213 705h1M305 705h1M216 706h1M218 706h1M609 706h1M611 706h1M217 707h1M425 707h1M305 708h2M311 709h1" stroke="#3a62c0" stroke-width="1" fill="none"/>
<path d="M335 573h1M713 574h1M728 574h1M231 575h1M332 575h1M415 575h1M423 575h1M529 575h1M531 575h1M615 575h2M621 575h1M710 575h1M226 576h1M337 576h2M408 576h1M412 576h1M422 576h2M430 576h1M518 576h1M520 576h1M527 576h1M606 576h1M617 576h1M231 577h1M319 577h1M341 577h1M425 577h1M428 577h1M514 577h1M521 577h1M525 577h1M606 577h2M707 577h1M223 578h1M240 578h1M316 578h2M599 578h1M604 578h1M708 578h1M128 579h1M344 579h1M537 579h1M540 579h1M705 579h1M708 579h1M130 580h1M133 580h1M342 580h1M403 580h1M433 580h1M514 580h1M541 580h1M599 580h1M708 580h1M110 581h2M214 581h1M216 581h1M403 581h2M541 581h1M597 581h2M734 581h1M736 581h1M216 582h1M310 582h1M540 582h1M403 583h1M310 584h1M541 584h1M594 584h1M110 586h1M544 586h1M738 586h1M542 587h1M594 587h1M707 587h1M111 588h1M312 588h1M738 588h1M404 589h1M614 589h1M707 589h1M231 590h1M312 590h1M515 590h1M614 590h1M313 591h1M514 591h1M539 591h1M593 591h1M129 592h1M533 592h1M720 592h1M215 593h1M314 593h1M402 593h1M594 593h1M706 593h1M314 594h1M403 594h2M514 594h1M614 594h1M715 594h1M216 595h1M124 597h1M313 597h1M315 597h1M404 597h1M114 598h1M220 598h1M317 598h1M322 598h1M403 598h1M407 598h1M611 598h1M220 599h1M222 599h1M223 600h1M515 600h1M708 600h1M224 601h1M407 601h1M516 601h1M225 602h1M407 603h1M28 625h1M35 626h1M26 627h1M31 627h1M33 627h1M37 627h1M45 627h1M46 628h1M20 629h1M21 631h1M20 633h1M47 633h1M18 636h1M20 637h2M20 643h1M22 643h1M22 645h1M34 647h1M27 648h1M221 683h1M229 683h1M428 683h1M515 683h1M610 683h1M624 683h1M132 684h1M136 684h1M143 684h1M226 684h1M229 684h1M322 684h1M333 684h1M430 684h1M510 684h2M617 684h2M623 684h1M629 684h1M714 684h1M138 685h1M218 685h2M308 685h1M322 685h1M329 685h2M336 685h1M505 685h1M508 685h1M512 685h1M516 685h1M524 685h1M608 685h1M619 685h1M624 685h2M628 685h1M713 685h1M133 686h1M150 686h1M236 686h1M238 686h2M304 686h1M311 686h1M330 686h2M333 686h1M441 686h1M445 686h1M528 686h1M627 686h2M719 686h1M212 687h1M237 687h1M338 687h1M503 687h1M634 687h1M704 687h1M133 688h1M214 688h1M501 688h1M239 689h1M501 689h1M538 689h1M605 689h1M607 689h1M304 690h1M422 690h1M446 690h1M638 690h1M700 690h1M728 690h1M129 691h1M132 691h1M335 691h1M634 691h1M700 691h1M243 692h1M300 692h1M303 692h1M422 692h1M538 692h1M604 692h1M606 693h1M332 694h1M423 694h1M541 694h1M604 694h1M639 694h1M699 694h1M731 694h1M244 695h1M638 695h1M728 695h1M538 696h1M730 696h1M212 697h1M241 697h1M606 697h1M130 698h1M422 698h1M502 698h1M157 699h1M239 699h1M433 699h1M501 699h1M525 699h1M130 700h1M132 700h1M433 700h1M605 700h2M697 700h1M699 700h1M160 701h1M214 701h1M606 701h1M618 701h1M300 702h1M606 702h2M226 703h1M303 703h1M499 703h1M706 703h1M215 704h1M225 704h1M501 704h1M303 705h1M503 705h1M700 705h1M224 706h1M304 706h2M307 706h1M504 706h2M509 706h1M308 707h1M219 708h1M309 708h1" stroke="#93a9dc" stroke-width="1" fill="none"/>
<path d="M533 578h1M427 579h1M730 579h1M422 580h1M523 580h1M328 581h1M115 582h1M430 582h1M121 584h1M215 584h1M713 584h1M537 585h1M313 586h1M230 587h1M520 588h1M414 589h1M599 589h1M320 590h1M526 590h1M516 592h1M608 592h1M115 595h1M223 595h1M25 633h1M30 646h1M29 648h1M232 687h1M146 688h1M144 690h1M215 690h1M513 691h1M617 691h1M713 691h1M721 692h1M139 693h1M225 694h1M315 694h1M631 694h1M224 695h1M519 695h1M701 695h1M704 695h1M427 696h1M617 697h1M700 697h1M306 698h1M509 698h1M722 698h1M617 700h1M423 703h1M311 706h1" stroke="#c4d0ec" stroke-width="1" fill="none"/>
<path d="M616 580h1M614 581h3M618 581h1M616 582h1M234 583h2M237 583h1M239 583h1M333 583h1M612 583h1M617 583h1M619 583h1M232 584h1M236 584h1M239 584h1M615 584h1M620 584h1M238 585h1M337 585h1M232 586h2M240 586h1M334 586h1M426 586h1M725 586h1M239 587h1M330 587h1M333 587h1M338 587h1M422 587h1M534 587h1M614 587h1M726 587h1M728 587h1M129 588h2M132 588h1M135 588h1M235 588h1M239 588h1M330 588h1M333 588h1M536 588h1M618 588h1M725 588h2M130 589h1M132 589h2M238 589h1M335 589h1M426 589h2M533 589h1M130 590h2M134 590h1M331 590h1M422 590h1M537 590h1M721 590h1M723 590h1M129 591h1M135 591h2M336 591h1M424 591h1M426 591h1M537 591h1M130 592h1M135 592h1M426 592h1M535 592h1M133 593h1M135 593h1M420 593h1M425 593h1M536 593h1M133 594h1M135 594h1M422 594h1M426 594h1M533 594h2M723 594h1M532 595h3M536 595h1M723 595h2M44 637h1M43 638h1M45 641h1M43 642h1M38 643h1M40 643h1M37 645h1M34 646h1M36 646h1M39 646h1M39 647h1M33 650h1M35 650h1M325 694h1M438 694h3M322 695h1M328 695h1M627 696h1M233 697h1M522 697h1M624 697h1M627 697h1M321 698h1M324 698h1M439 698h1M524 698h1M627 698h1M145 699h2M229 699h4M324 699h1M328 699h1M439 699h1M519 699h1M624 699h1M628 699h2M717 699h2M229 700h1M325 700h1M327 700h1M439 700h1M519 700h2M524 700h1M623 700h1M625 700h1M627 700h2M719 700h2M722 700h1M143 701h1M149 701h1M231 701h1M329 701h1M521 701h1M524 701h2M626 701h1M628 701h1M718 701h1M720 701h1M147 702h2M236 702h1M519 702h2M522 702h1M627 702h1M722 702h1M147 703h1M149 703h1M230 703h1M235 703h1M521 703h2M524 703h1M625 703h1M236 704h1M519 704h1M523 704h1M148 706h1" stroke="#1f3a36" stroke-width="1" fill="none"/>
<path d="M620 585h1M236 589h1M529 591h1M431 592h1M615 594h1M124 595h1M342 595h1M530 595h1M618 596h1M136 597h1M244 597h1M230 598h1M334 599h1M538 599h1M621 599h1M127 600h1M233 601h1M727 601h1M135 602h1M423 603h1M39 648h1M42 648h1M35 657h1M317 700h2M153 702h1M319 702h1M528 702h1M434 703h1M614 704h1M238 705h1M324 705h1M436 706h1M516 706h1M148 708h1M236 708h3M430 709h1M515 709h1M140 710h1M135 712h1M627 712h1M239 713h1M526 713h1M713 713h1M629 714h1M232 716h1M710 718h1" stroke="#f8c3c4" stroke-width="1" fill="none"/>
<path d="M603 618h1M311 620h1M209 623h1M497 623h1M306 624h1M316 624h1M595 625h1M598 625h1M216 626h1M218 626h1M408 627h1M120 629h1M116 631h1M114 632h1M411 634h1M16 672h1M16 675h1M404 724h1M594 726h1M599 728h1M118 729h1M510 733h1M114 734h1M211 736h1M211 741h1M503 742h1M314 743h1" stroke="#f8d2e5" stroke-width="1" fill="none"/>
<path d="M504 614h1M507 614h1M694 614h1M693 615h1M215 616h1M311 616h1M502 617h1M506 617h1M312 618h1M209 619h1M496 619h1M209 620h1M694 620h1M208 621h1M500 621h1M689 621h1M221 622h1M597 622h1M690 622h1M694 622h1M217 623h1M303 623h1M408 623h1M698 623h1M307 624h1M408 624h1M598 624h1M499 625h1M610 625h1M611 626h1M413 627h1M308 628h1M607 628h1M611 628h1M698 628h1M704 628h1M406 629h1M415 630h1M411 631h1M403 632h1M114 634h1M116 635h1M412 635h1M119 637h1M125 637h1M119 638h1M10 677h1M19 677h1M14 678h1M15 679h1M408 722h1M410 722h1M595 725h1M403 726h1M406 726h1M601 726h1M120 727h1M407 727h1M596 727h1M115 729h2M312 729h1M112 733h1M319 735h1M210 736h1M216 736h1M304 736h1M213 737h1M304 737h1M694 737h1M312 738h1M693 738h1M697 738h1M119 739h1M310 739h1M505 739h1M509 739h1M688 739h1M313 740h1M505 740h2M511 740h1M513 740h1M216 741h1M221 741h1M313 741h1M319 741h1M503 741h1M506 741h1M693 741h1M695 741h1M702 741h1M216 743h1M698 745h1" stroke="#f09dc6" stroke-width="1" fill="none"/>
<path d="M710 611h1M705 612h1M229 613h1M322 613h1M707 613h1M322 614h1M332 614h1M699 616h1M314 617h1M626 617h1M239 618h1M220 619h1M413 619h1M128 620h1M410 622h1M505 622h1M626 622h1M123 623h1M336 623h1M622 623h1M412 624h1M614 624h1M125 625h1M338 625h1M409 625h1M619 625h1M123 627h1M221 627h1M331 627h1M718 627h1M124 628h1M146 628h1M224 628h1M227 629h1M414 629h1M436 629h1M237 630h1M328 630h1M413 630h1M143 631h1M224 631h1M425 631h1M127 632h1M429 632h2M423 633h1M24 672h1M40 672h1M19 679h1M45 680h1M43 681h1M324 725h1M415 725h1M506 726h1M523 726h1M141 727h1M240 727h1M334 727h1M233 728h1M239 729h1M316 730h1M337 730h1M531 730h1M625 730h1M119 731h1M123 731h1M315 731h1M407 731h1M533 731h1M718 731h1M408 733h1M720 734h1M245 735h1M316 735h1M607 735h1M119 736h1M146 736h1M215 736h1M535 737h1M123 738h1M714 738h1M319 739h1M322 739h1M510 739h1M529 739h1M701 739h1M704 739h1M326 740h1M229 741h1M523 742h1" stroke="#fbf4a3" stroke-width="1" fill="none"/>
<path d="M435 623h1M438 623h1M628 623h1M147 624h1M336 624h1M531 624h1M621 624h1M720 624h1M155 625h1M439 625h1M722 625h1M242 626h1M341 626h1M239 627h1M242 627h1M341 627h1M157 628h1M235 628h1M244 628h1M618 630h1M244 631h1M443 631h1M233 632h1M244 632h1M527 632h1M152 633h1M154 633h2M433 633h1M531 633h1M232 634h1M433 634h1M714 634h1M241 635h1M332 635h1M334 635h1M436 635h1M715 635h1M47 673h1M45 674h1M49 676h1M50 678h1M42 679h1M49 682h1M44 683h1M48 683h1M241 729h1M430 731h1M242 732h1M145 733h2M625 733h1M629 733h1M141 734h1M144 734h1M433 734h1M624 734h1M244 735h1M338 735h1M723 735h1M148 736h1M248 736h1M251 736h1M624 736h1M623 737h1M139 738h1M433 738h1M148 739h1M343 740h1M332 741h1M431 741h1M624 741h1M139 742h1M723 742h1M142 743h1M333 743h2M716 743h1M336 744h2M531 745h2" stroke="#b06020" stroke-width="1" fill="none"/>
<path d="M234 618h1M609 619h1M135 620h1M224 620h1M140 622h1M707 623h1M712 623h1M237 624h1M330 624h1M518 624h1M324 627h1M523 627h1M25 677h1M35 679h1M34 683h1M616 727h1M134 728h1M522 729h1M131 732h1M526 732h1M137 733h1M222 734h1M136 735h1M421 735h1M132 737h1M521 737h1M702 737h1" stroke="#fcf7ba" stroke-width="1" fill="none"/>
<path d="M338 623h1M437 623h1M440 625h1M721 625h1M714 626h1M155 627h1M243 627h2M617 627h1M631 627h1M156 628h1M341 628h1M433 628h1M235 629h1M535 629h1M158 630h1M434 630h1M627 630h1M157 631h1M340 631h1M618 631h1M434 632h1M337 633h1M712 633h1M233 634h1M329 634h1M336 634h1M437 634h1M237 637h1M50 676h1M243 728h1M253 732h1M628 732h1M253 734h1M342 735h1M140 736h1M247 736h1M721 736h1M149 737h1M529 737h1M533 738h1M149 739h1M427 739h1M344 740h1M629 740h1M725 740h1M629 741h1M713 741h1M332 742h1M522 742h1M724 742h1M628 743h1M533 744h1M523 746h1" stroke="#d4a884" stroke-width="1" fill="none"/>
<path d="M435 624h1M531 627h1M619 627h1M152 628h1M332 629h1M621 629h1M713 629h1M236 630h1M242 631h1M329 631h1M338 632h1M528 632h1M436 634h1M440 634h1M717 634h1M46 679h1M244 729h1M248 733h1M143 736h1M148 737h1M625 737h1M627 737h1M143 738h1M340 738h1M724 738h1M335 739h1M427 740h1M721 740h1M341 741h1M529 741h1M526 744h1M529 745h1" stroke="#cc986e" stroke-width="1" fill="none"/>
<path d="M148 626h1M335 626h1M621 626h1M151 630h1M714 633h1M236 636h1M48 675h1M430 736h1" stroke="#e7cfbc" stroke-width="1" fill="none"/>
<path d="M157 595h1M159 596h1M156 598h1M155 600h1M159 601h1M164 602h1M155 606h1M159 608h1M453 611h1M453 612h1M439 613h1M442 613h1M452 613h1M638 614h1M640 614h1M642 615h1M443 616h1M646 616h1M440 617h1M445 617h1M449 617h1M644 617h1M258 618h1M346 618h1M446 618h1M645 618h1M252 619h2M256 619h1M347 619h1M349 619h1M351 620h2M641 620h1M644 620h1M730 620h1M348 621h1M732 621h1M641 622h1M256 623h1M730 623h1M738 623h1M545 624h1M739 624h1M739 625h1M257 626h1M345 626h1M545 628h1M729 628h1M352 630h1M729 630h1M736 631h1M58 676h1M60 677h1M61 679h1M65 679h1M254 715h1M260 715h1M250 718h1M351 718h1M349 720h1M256 721h1M350 722h1M252 723h1M256 723h1M350 724h1M735 724h1M737 725h1M160 726h1M355 726h2M727 726h1M357 727h1M354 728h1M638 728h1M356 729h2M352 730h1M731 730h1M550 731h1M635 731h1M161 732h1M736 732h1M155 733h1M444 733h1M157 734h1M444 734h1M548 734h1M635 734h1M540 736h1M553 736h1M644 736h2M540 737h1M545 739h1" stroke="#e0d6ed" stroke-width="1" fill="none"/>
<path d="M156 593h1M155 594h2M161 594h1M162 596h1M165 602h1M153 605h1M448 609h1M158 612h1M455 612h2M646 612h1M436 614h1M436 615h1M256 616h1M650 616h1M634 617h2M251 618h1M260 618h1M356 618h1M250 619h1M549 619h1M650 619h1M737 619h1M650 620h1M343 621h1M262 622h1M553 622h1M638 622h1M741 623h1M344 624h1M249 626h1M645 626h1M262 627h1M251 629h1M258 630h1M541 630h1M728 630h1M739 630h1M257 631h1M353 631h1M551 631h1M739 632h1M547 633h1M63 669h1M56 671h1M68 672h1M55 678h1M66 680h1M61 682h1M255 710h1M259 710h1M251 713h1M261 713h1M349 716h1M249 717h1M262 717h1M262 718h1M249 719h1M731 722h1M359 723h1M739 723h1M252 724h1M158 725h1M260 725h1M155 726h1M637 726h1M641 726h1M644 726h1M645 727h1M164 729h1M439 729h1M550 729h2M555 729h1M151 730h1M358 730h1M151 731h1M554 731h1M741 731h2M349 732h1M741 732h1M151 733h1M733 733h1M353 734h1M453 734h1M635 736h1M164 737h1M637 737h1M159 738h1M162 738h1M637 738h1M639 738h1M542 740h1M551 740h1" stroke="#dacce8" stroke-width="1" fill="none"/>
<path d="M157 594h1M157 597h1M153 598h1M158 598h1M154 599h1M158 599h1M157 600h2M152 601h1M164 601h1M152 603h1M154 603h1M156 603h1M154 604h1M163 604h1M164 605h2M162 606h1M157 607h1M160 607h1M162 607h1M156 608h1M443 608h1M448 608h1M155 609h1M160 609h1M452 609h2M445 610h1M445 611h1M637 611h2M644 611h1M442 612h3M640 612h1M159 613h1M440 613h1M446 613h1M454 613h1M635 613h1M637 613h1M647 613h1M641 614h1M349 615h1M442 615h1M647 615h1M346 616h1M446 616h1M450 616h1M730 616h1M257 617h1M346 617h2M436 617h1M646 617h2M348 618h1M355 618h1M439 618h1M636 618h1M730 618h2M255 619h1M356 619h2M642 619h1M730 619h1M733 619h1M253 620h1M262 620h1M344 620h1M354 620h1M636 620h1M729 620h1M250 621h1M255 621h1M262 621h1M550 621h1M645 621h2M731 621h1M735 621h1M737 621h1M249 622h1M345 622h1M546 622h2M650 622h1M252 623h1M255 623h1M355 623h1M543 623h1M546 623h1M548 623h1M553 623h1M638 623h1M732 623h1M739 623h1M254 624h1M258 624h1M354 624h1M357 624h1M548 624h1M726 624h1M731 624h2M249 625h2M262 625h1M346 625h1M356 625h1M549 625h1M551 625h1M642 625h1M646 625h1M736 625h1M256 626h1M260 626h2M344 626h1M553 626h1M648 626h1M728 626h1M739 626h1M249 627h2M255 627h1M346 627h1M355 627h1M357 627h1M550 627h1M553 627h1M726 627h1M729 627h1M731 627h1M739 627h1M741 627h1M347 628h2M351 628h1M543 628h1M549 628h1M726 628h1M739 628h1M256 629h1M352 629h1M541 629h1M544 629h2M739 629h1M254 630h1M257 630h1M353 630h1M543 630h1M551 630h1M553 630h1M730 630h1M254 631h1M258 631h1M348 631h1M352 631h1M730 631h1M734 631h1M354 632h1M730 632h1M732 632h1M734 632h3M731 634h1M736 634h1M738 634h1M731 635h1M65 669h1M57 670h1M59 670h1M57 671h1M65 671h1M54 672h1M58 672h1M57 673h1M65 673h1M55 674h1M57 674h1M66 674h1M56 675h1M61 675h1M68 675h1M60 676h2M64 676h1M69 676h1M59 677h1M58 678h1M57 679h1M67 679h1M59 681h1M64 682h1M256 710h1M256 711h1M260 712h1M253 713h1M253 714h1M260 714h1M258 715h1M262 715h1M257 716h1M261 716h1M250 717h1M253 717h1M349 717h1M351 717h1M253 718h1M257 718h1M258 719h1M250 720h1M261 720h1M354 720h1M357 720h1M257 721h2M732 722h1M736 722h1M255 723h1M257 723h1M346 723h1M352 723h1M355 723h1M731 723h1M251 724h1M256 724h1M259 724h1M345 724h1M737 724h1M255 725h1M352 725h4M447 725h1M642 725h1M727 725h1M731 725h1M739 725h1M258 726h1M345 726h1M348 726h1M352 726h1M359 726h1M448 726h1M726 726h1M737 726h2M740 726h2M156 727h1M257 727h1M353 727h2M442 727h1M640 727h1M728 727h1M740 727h1M154 728h1M156 728h2M161 728h1M355 728h1M440 728h1M442 728h1M445 728h1M555 728h1M644 728h1M648 728h2M158 729h1M160 729h1M163 729h1M637 729h1M640 729h3M645 729h1M736 729h1M741 729h1M159 730h2M351 730h1M438 730h1M450 730h2M553 730h1M636 730h1M641 730h1M643 730h1M729 730h1M737 730h1M155 731h2M163 731h1M358 731h1M441 731h1M445 731h1M449 731h1M551 731h1M636 731h1M727 731h1M733 731h1M736 731h1M738 731h1M151 732h1M160 732h1M162 732h1M353 732h1M358 732h1M438 732h1M448 732h1M452 732h1M547 732h1M549 732h1M641 732h1M737 732h1M354 733h1M356 733h1M441 733h1M447 733h1M451 733h1M541 733h2M551 733h1M642 733h1M739 733h1M741 733h1M159 734h1M354 734h2M449 734h2M545 734h1M547 734h1M552 734h1M352 735h1M442 735h1M546 735h1M549 735h1M553 735h1M648 735h1M154 736h1M160 736h1M162 736h1M446 736h1M548 736h1M638 736h1M643 736h1M646 736h2M159 737h1M543 737h1M552 737h1M642 737h2M546 738h1M640 738h2M538 739h1M551 739h1" stroke="#bba3d6" stroke-width="1" fill="none"/>
<path d="M159 590h1M162 593h1M167 603h1M166 605h1M643 611h1M647 612h1M650 613h1M345 614h1M254 616h1M345 616h1M729 616h1M357 617h1M734 617h1M441 619h1M448 619h1M740 621h1M263 622h1M358 622h1M725 627h1M263 628h1M553 628h1M357 629h1M345 630h1M259 631h1M259 632h1M552 634h1M728 635h1M67 670h1M71 678h1M55 680h1M67 682h1M66 683h1M62 684h1M250 711h1M248 714h1M348 715h1M247 716h1M246 717h2M348 717h1M264 719h1M449 724h1M742 724h1M444 725h1M640 725h1M163 726h1M259 726h1M645 726h1M726 727h1M453 728h1M745 729h1M255 730h1M348 730h1M360 731h1M730 733h1M349 734h1M650 734h1M353 735h1M636 737h1M538 738h1M639 740h1" stroke="#e4daef" stroke-width="1" fill="none"/>
<path d="M644 635h1M641 636h1M644 638h2M651 638h1M640 639h1M653 639h1M642 640h2M643 641h1M645 641h1M649 641h1M651 641h1M643 642h1M654 642h1M642 643h1M648 643h1M724 643h1M440 644h1M443 644h1M638 644h1M649 644h1M654 644h2M720 644h1M255 645h1M537 645h1M640 645h1M644 645h1M724 645h1M728 645h1M256 646h1M436 646h1M441 646h3M638 646h1M648 646h1M651 646h2M721 646h1M729 646h1M150 647h1M250 647h1M252 647h1M255 647h1M259 647h1M437 647h2M446 647h1M648 647h1M726 647h1M148 648h1M252 648h1M255 648h1M347 648h1M350 648h1M439 648h1M444 648h1M532 648h1M534 648h1M540 648h1M722 648h1M148 649h1M256 649h1M339 649h1M437 649h1M442 649h1M528 649h1M542 649h1M641 649h1M643 649h1M717 649h1M719 649h2M722 649h1M144 650h1M151 650h1M341 650h1M353 650h1M435 650h1M533 650h1M541 650h1M642 650h1M647 650h1M154 651h1M248 651h1M254 651h1M261 651h1M266 651h1M345 651h2M348 651h1M352 651h1M439 651h1M532 651h1M542 651h1M646 651h1M648 651h2M721 651h1M723 651h1M727 651h1M734 651h1M143 652h1M145 652h1M151 652h1M247 652h1M251 652h2M257 652h1M265 652h1M346 652h1M349 652h1M351 652h2M435 652h2M438 652h2M443 652h1M445 652h1M529 652h2M534 652h1M538 652h1M644 652h2M728 652h1M150 653h1M152 653h1M247 653h1M250 653h3M349 653h1M433 653h1M440 653h2M443 653h1M446 653h1M450 653h1M531 653h1M542 653h1M726 653h1M143 654h1M149 654h1M155 654h1M248 654h1M253 654h1M260 654h1M263 654h1M265 654h1M341 654h1M345 654h1M347 654h1M432 654h2M435 654h1M439 654h1M444 654h1M533 654h1M541 654h4M724 654h1M729 654h1M156 655h1M247 655h1M336 655h1M344 655h1M351 655h1M432 655h1M438 655h1M444 655h2M447 655h1M543 655h1M545 655h1M141 656h1M143 656h1M154 656h1M248 656h2M338 656h1M340 656h1M345 656h1M431 656h1M448 656h1M528 656h1M533 656h1M723 656h1M726 656h1M141 657h1M146 657h1M157 657h1M254 657h1M258 657h1M262 657h1M264 657h1M345 657h1M349 657h1M440 657h1M449 657h1M540 657h1M542 657h1M545 657h1M718 657h1M722 657h2M726 657h1M143 658h1M151 658h1M251 658h2M256 658h2M262 658h1M340 658h1M344 658h1M351 658h1M443 658h2M448 658h1M531 658h1M533 658h2M724 658h1M730 658h1M147 659h1M155 659h1M158 659h1M248 659h1M259 659h1M261 659h1M339 659h1M345 659h1M353 659h1M436 659h1M441 659h3M539 659h1M541 659h1M543 659h1M722 659h2M726 659h1M731 659h1M150 660h1M254 660h1M339 660h2M345 660h1M347 660h1M433 660h1M440 660h1M537 660h4M730 660h1M146 661h2M255 661h1M348 661h1M438 661h1M442 661h1M538 661h1M727 661h1M147 662h2M542 662h2M52 699h1M57 700h1M52 701h2M56 701h1M58 701h2M62 701h1M56 702h1M61 702h1M65 702h1M58 703h1M53 704h1M63 704h1M52 705h1M60 705h2M58 706h1M62 706h1M64 706h1M54 707h1M57 707h1M59 707h1M61 707h1M63 707h1M65 708h1M60 709h1M54 710h1M61 710h2M51 711h1M61 711h1M452 748h2M447 749h1M451 749h1M452 751h1M463 752h1M148 753h1M446 753h1M451 753h1M458 753h1M143 754h1M147 754h1M248 754h1M340 754h1M343 754h1M453 754h1M460 754h1M544 754h1M144 755h1M147 755h1M151 755h1M346 755h1M451 755h1M542 755h1M625 755h1M627 755h1M146 756h1M244 756h1M343 756h2M458 756h1M543 756h2M624 756h1M627 756h1M629 756h1M727 756h1M146 757h1M153 757h1M245 757h1M247 757h1M249 757h1M456 757h1M460 757h1M463 757h1M543 757h1M545 757h1M631 757h1M633 757h1M141 758h1M149 758h1M242 758h1M244 758h2M343 758h2M347 758h1M452 758h1M459 758h1M542 758h1M549 758h1M150 759h1M156 759h1M245 759h1M342 759h1M349 759h1M453 759h1M455 759h1M541 759h1M625 759h1M629 759h1M633 759h2M639 759h1M719 759h1M726 759h1M731 759h3M141 760h1M240 760h1M242 760h1M249 760h1M257 760h1M349 760h1M351 760h1M463 760h1M541 760h1M546 760h1M548 760h2M626 760h1M628 760h2M636 760h1M718 760h1M724 760h1M731 760h1M156 761h3M249 761h1M339 761h1M350 761h1M539 761h1M636 761h1M639 761h1M723 761h1M731 761h1M737 761h1M142 762h1M149 762h1M152 762h1M242 762h1M245 762h1M255 762h1M641 762h1M722 762h1M142 763h1M146 763h1M158 763h1M252 763h1M255 763h1M336 763h1M345 763h1M348 763h1M352 763h1M543 763h1M627 763h1M632 763h1M634 763h1M638 763h1M721 763h1M728 763h1M150 764h2M157 764h1M159 764h1M247 764h1M250 764h1M341 764h1M350 764h1M545 764h1M547 764h1M549 764h1M552 764h1M624 764h1M628 764h1M635 764h1M638 764h1M640 764h1M726 764h1M729 764h1M731 764h1M148 765h1M154 765h2M157 765h1M248 765h2M336 765h2M340 765h1M343 765h1M535 765h1M537 765h1M539 765h2M543 765h1M546 765h1M629 765h1M639 765h1M718 765h1M722 765h1M726 765h1M729 765h1M736 765h1M147 766h2M151 766h1M153 766h1M245 766h1M256 766h1M336 766h1M341 766h1M344 766h1M346 766h2M352 766h2M547 766h1M630 766h1M726 766h1M732 766h1M734 766h1M737 766h1M148 767h1M153 767h1M158 767h1M249 767h1M338 767h1M550 767h1M627 767h1M637 767h1M735 767h2M149 768h1M152 768h1M243 768h1M247 768h1M257 768h1M338 768h1M343 768h1M351 768h1M538 768h1M543 768h1M625 768h1M727 768h1M148 769h1M247 769h1M338 769h1M342 769h1M346 769h1M350 769h1M551 769h1M633 769h1M638 769h1M736 769h1M337 770h1M340 770h1M343 770h1M632 770h1M636 770h1M732 770h1M149 771h2M248 771h1M340 771h1M344 771h1M548 771h1M635 771h1M252 772h1M340 772h1" stroke="#82bd62" stroke-width="1" fill="none"/>
<path d="M648 637h1M650 639h1M640 641h1M646 641h1M652 641h1M650 642h1M652 642h1M645 643h1M439 646h1M725 646h1M147 647h1M535 647h1M644 647h2M343 648h1M348 648h1M152 649h1M250 649h1M440 649h1M648 649h1M651 649h1M730 649h1M258 650h1M262 650h1M340 650h1M434 650h1M530 650h1M534 650h1M644 650h1M726 650h1M257 651h1M436 651h1M438 651h1M722 651h1M724 651h1M249 652h1M542 652h1M730 652h1M735 652h1M147 653h1M346 653h1M350 653h1M536 653h1M540 653h1M543 653h1M722 653h1M727 653h1M249 654h1M251 654h1M258 654h1M353 654h1M442 654h1M445 654h1M539 654h1M725 654h1M148 655h1M537 655h1M725 655h1M149 656h1M337 656h1M348 656h1M436 656h1M538 656h1M540 656h1M155 657h1M260 657h1M543 657h1M733 657h1M146 658h1M346 658h1M435 658h1M256 659h1M344 659h1M535 659h1M537 659h1M153 660h1M445 660h1M148 661h1M59 700h1M55 701h1M60 701h1M57 702h1M59 702h1M62 705h1M60 706h1M54 708h1M63 708h1M52 709h1M460 751h1M453 753h2M149 754h1M344 754h1M448 754h1M248 755h1M458 755h1M450 756h1M546 756h1M243 757h1M461 757h1M148 758h1M450 758h1M454 758h1M543 758h1M635 758h1M723 758h2M147 759h1M339 759h1M628 759h1M632 759h1M635 759h1M727 759h1M730 759h1M152 760h2M253 760h2M342 760h1M456 760h1M147 761h1M538 761h1M546 761h1M625 761h1M719 761h1M250 762h1M542 762h1M548 762h1M728 762h1M731 762h2M144 763h1M147 763h2M248 763h1M251 763h1M542 763h1M548 763h1M550 763h1M719 763h1M734 763h1M252 764h1M541 764h1M637 764h1M724 764h1M735 764h1M252 765h1M541 765h1M630 765h1M724 765h1M243 766h1M538 766h1M632 766h1M638 766h1M729 766h1M144 767h1M638 767h1M147 768h1M246 768h1M636 768h1M149 769h1M248 769h2M340 769h1M634 769h1M250 770h1" stroke="#c7e1b8" stroke-width="1" fill="none"/>
<path d="M645 635h1M641 637h1M652 637h1M652 638h1M639 639h1M653 640h1M439 643h1M536 644h1M725 644h1M152 645h1M254 645h1M444 645h1M535 645h1M720 645h1M147 646h1M435 647h1M637 647h1M339 648h1M351 648h2M638 648h1M154 649h1M264 649h1M448 649h1M155 650h2M246 650h1M433 650h1M448 650h1M529 650h1M336 651h2M645 651h1M266 652h1M354 652h1M448 652h1M245 653h1M335 653h1M545 653h1M247 654h1M335 654h1M247 656h1M547 656h1M547 657h1M158 658h1M249 658h1M337 658h1M433 658h1M530 658h1M732 658h1M448 659h1M734 659h1M144 660h1M447 660h1M534 660h1M544 660h1M157 661h1M259 661h1M342 661h1M346 661h1M541 661h2M723 661h1M146 662h1M438 662h1M348 663h1M50 702h1M66 704h1M48 707h1M49 708h2M50 709h1M64 710h1M53 712h1M59 712h1M62 712h1M450 748h1M455 748h1M460 749h1M463 751h1M249 752h1M145 753h1M147 753h1M447 753h1M463 753h1M245 754h1M250 755h1M153 756h1M252 756h1M447 756h1M718 756h2M242 757h1M253 757h1M626 757h1M728 757h1M337 758h2M350 758h1M158 759h1M461 759h1M540 759h1M623 759h2M718 759h1M455 760h1M733 760h1M257 761h1M455 761h1M552 761h1M141 762h1M240 762h1M258 762h1M737 762h1M553 764h1M141 765h1M242 766h1M551 766h1M623 766h1M640 766h1M156 767h1M537 767h1M144 768h1M146 768h1M626 768h2M146 769h1M629 769h1M151 770h1M253 770h1M548 770h1M735 770h1M249 771h1M339 771h1M341 771h1M343 771h1M251 772h1" stroke="#badba9" stroke-width="1" fill="none"/>
<path d="M646 632h1M644 633h1M643 635h1M653 638h1M250 644h1M257 644h1M535 644h1M153 645h1M247 645h1M260 645h1M337 646h1M531 646h1M350 647h1M431 648h1M245 650h1M265 653h1M545 654h1M160 657h1M451 657h1M350 661h1M435 661h1M440 661h1M725 661h1M152 662h1M539 663h1M155 664h1M439 664h1M56 698h1M47 702h1M67 703h1M66 705h1M64 712h1M444 748h1M449 749h1M464 749h1M247 751h1M346 751h1M152 754h1M628 756h1M352 757h1M447 757h1M719 758h1M735 758h1M465 759h1M637 759h1M714 759h1M735 759h1M158 760h1M458 760h1M456 761h1M551 761h1M553 761h1M735 761h1M715 762h1M553 763h1M555 763h1M257 764h2M241 765h1M257 765h1M538 767h1M722 767h2M142 768h1M256 768h1M737 768h1M142 769h1M256 769h1M352 769h1M624 769h1M154 770h1M245 770h1M254 770h1M631 770h1M729 770h1M253 771h1M348 771h1M350 771h1M554 771h1M738 771h1M154 772h1M343 772h1M344 773h1" stroke="#cde5c0" stroke-width="1" fill="none"/>
<path d="M437 621h1M149 622h1M151 622h1M340 625h1M342 626h1M343 627h1M534 631h1M721 631h1M341 632h1M243 633h1M242 634h1M527 634h1M238 637h1M629 730h1M242 731h1M340 733h2M630 734h1M139 737h1M631 737h1M332 739h1M344 741h1M428 742h1M341 743h1M717 743h1M530 747h1" stroke="#dfbfa6" stroke-width="1" fill="none"/></g>
<text x="0.30" y="12.80" font-size="15" font-weight="bold" fill="#000" stroke="#000" stroke-width="0.5">a</text>
<text x="451.50" y="13.40" font-size="15" font-weight="bold" fill="#000" stroke="#000" stroke-width="0.5">b</text>
<text x="0.20" y="305.60" font-size="15" font-weight="bold" fill="#000" stroke="#000" stroke-width="0.5">c</text>
<text x="0.00" y="557.40" font-size="15" font-weight="bold" fill="#000" stroke="#000" stroke-width="0.5">d</text>
<text x="0.00" y="827.60" font-size="15" font-weight="bold" fill="#000" stroke="#000" stroke-width="0.5">e</text>
<text x="171.60" y="13.80" font-size="10.8" text-anchor="middle" fill="#231f20" textLength="79.8" lengthAdjust="spacingAndGlyphs">De novo training</text>
<text x="54.57" y="36.70" font-size="10.2" text-anchor="middle" fill="#231f20">LLL_ctrl</text>
<text x="132.52" y="36.70" font-size="10.2" text-anchor="middle" fill="#231f20">LLL_stim</text>
<text x="210.47" y="36.70" font-size="10.2" text-anchor="middle" fill="#231f20">DIG_ctrl</text>
<text x="288.42" y="36.70" font-size="10.2" text-anchor="middle" fill="#231f20">DIG_stim</text>
<text x="9.20" y="81.35" font-size="10" text-anchor="middle" transform="rotate(-90 9.20 81.35)" fill="#231f20" textLength="27.8" lengthAdjust="spacingAndGlyphs">ATAC</text>
<text x="9.20" y="157.85" font-size="10" text-anchor="middle" transform="rotate(-90 9.20 157.85)" fill="#231f20">RNA</text>
<text x="9.20" y="235.80" font-size="10" text-anchor="middle" transform="rotate(-90 9.20 235.80)" fill="#231f20">ADT</text>
<line x1="15.50" y1="41.90" x2="15.50" y2="276.10" stroke="#222" stroke-width="1.2"/>
<line x1="93.50" y1="41.90" x2="93.50" y2="276.10" stroke="#222" stroke-width="1.2"/>
<line x1="171.50" y1="41.90" x2="171.50" y2="276.10" stroke="#222" stroke-width="1.2"/>
<line x1="249.50" y1="41.90" x2="249.50" y2="276.10" stroke="#222" stroke-width="1.2"/>
<line x1="327.50" y1="41.90" x2="327.50" y2="276.10" stroke="#222" stroke-width="1.2"/>
<line x1="14.90" y1="42.50" x2="328.10" y2="42.50" stroke="#222" stroke-width="1.2"/>
<line x1="14.90" y1="120.50" x2="328.10" y2="120.50" stroke="#222" stroke-width="1.2"/>
<line x1="14.90" y1="198.50" x2="328.10" y2="198.50" stroke="#222" stroke-width="1.2"/>
<line x1="14.90" y1="275.50" x2="328.10" y2="275.50" stroke="#222" stroke-width="1.2"/>
<text x="628.40" y="13.80" font-size="10.8" text-anchor="middle" fill="#231f20" textLength="82.2" lengthAdjust="spacingAndGlyphs">Transfer learning</text>
<text x="511.65" y="36.70" font-size="10.2" text-anchor="middle" fill="#231f20">LLL_ctrl</text>
<text x="589.55" y="36.70" font-size="10.2" text-anchor="middle" fill="#231f20">LLL_stim</text>
<text x="667.45" y="36.70" font-size="10.2" text-anchor="middle" fill="#231f20">DIG_ctrl</text>
<text x="745.35" y="36.70" font-size="10.2" text-anchor="middle" fill="#231f20">DIG_stim</text>
<text x="460.90" y="81.35" font-size="10" text-anchor="middle" transform="rotate(-90 460.90 81.35)" fill="#231f20" textLength="27.8" lengthAdjust="spacingAndGlyphs">ATAC</text>
<text x="460.90" y="157.85" font-size="10" text-anchor="middle" transform="rotate(-90 460.90 157.85)" fill="#231f20">RNA</text>
<text x="460.90" y="235.80" font-size="10" text-anchor="middle" transform="rotate(-90 460.90 235.80)" fill="#231f20">ADT</text>
<line x1="472.50" y1="41.90" x2="472.50" y2="276.10" stroke="#222" stroke-width="1.2"/>
<line x1="550.50" y1="41.90" x2="550.50" y2="276.10" stroke="#222" stroke-width="1.2"/>
<line x1="628.50" y1="41.90" x2="628.50" y2="276.10" stroke="#222" stroke-width="1.2"/>
<line x1="706.50" y1="41.90" x2="706.50" y2="276.10" stroke="#222" stroke-width="1.2"/>
<line x1="784.50" y1="41.90" x2="784.50" y2="276.10" stroke="#222" stroke-width="1.2"/>
<line x1="471.90" y1="42.50" x2="785.10" y2="42.50" stroke="#222" stroke-width="1.2"/>
<line x1="471.90" y1="120.50" x2="785.10" y2="120.50" stroke="#222" stroke-width="1.2"/>
<line x1="471.90" y1="198.50" x2="785.10" y2="198.50" stroke="#222" stroke-width="1.2"/>
<line x1="471.90" y1="275.50" x2="785.10" y2="275.50" stroke="#222" stroke-width="1.2"/>
<text x="349.60" y="103.30" font-size="11.2" fill="#231f20">Seurat cell type</text>
<circle cx="360.1" cy="117.60" r="3" fill="#86c06a"/>
<text x="368.70" y="120.70" font-size="9.0" letter-spacing="0.2" fill="#231f20">B</text>
<circle cx="360.1" cy="128.40" r="3" fill="#e8403f"/>
<text x="368.70" y="131.50" font-size="9.0" letter-spacing="0.2" fill="#231f20">CD4<tspan font-size="5.5" dy="-3.5">+</tspan><tspan dy="3.5"> T</tspan></text>
<circle cx="360.1" cy="139.20" r="3" fill="#3a5fbf"/>
<text x="368.70" y="142.30" font-size="9.0" letter-spacing="0.2" fill="#231f20">CD8<tspan font-size="5.5" dy="-3.5">+</tspan><tspan dy="3.5"> T</tspan></text>
<circle cx="360.1" cy="150.00" r="3" fill="#a64ca6"/>
<text x="368.70" y="153.10" font-size="9.0" letter-spacing="0.2" fill="#231f20">DC</text>
<circle cx="360.1" cy="160.80" r="3" fill="#7aa8e0"/>
<text x="368.70" y="163.90" font-size="9.0" letter-spacing="0.2" fill="#231f20">Mono</text>
<circle cx="360.1" cy="171.60" r="3" fill="#c2a8d8"/>
<text x="368.70" y="174.70" font-size="9.0" letter-spacing="0.2" fill="#231f20">NK</text>
<circle cx="360.1" cy="182.40" r="3" fill="#1b7a3a"/>
<text x="368.70" y="185.50" font-size="9.0" letter-spacing="0.2" fill="#231f20">Other</text>
<circle cx="360.1" cy="193.20" r="3" fill="#f0e020"/>
<text x="368.70" y="196.30" font-size="9.0" letter-spacing="0.2" fill="#231f20">Other T</text>
<circle cx="360.1" cy="204.00" r="3" fill="#dcdcdc"/>
<text x="368.70" y="207.10" font-size="9.0" letter-spacing="0.2" fill="#231f20">Unselected</text>
<line x1="60.00" y1="309.40" x2="756.70" y2="309.40" stroke="#b7c4c9" stroke-width="1.1"/>
<text x="55.90" y="312.40" font-size="9.4" text-anchor="end" letter-spacing="0.25" fill="#231f20">0.85</text>
<line x1="60.00" y1="322.57" x2="756.70" y2="322.57" stroke="#b7c4c9" stroke-width="1.1"/>
<text x="55.90" y="325.57" font-size="9.4" text-anchor="end" letter-spacing="0.25" fill="#231f20">0.80</text>
<line x1="60.00" y1="335.75" x2="756.70" y2="335.75" stroke="#b7c4c9" stroke-width="1.1"/>
<text x="55.90" y="338.75" font-size="9.4" text-anchor="end" letter-spacing="0.25" fill="#231f20">0.75</text>
<line x1="60.00" y1="348.93" x2="756.70" y2="348.93" stroke="#b7c4c9" stroke-width="1.1"/>
<text x="55.90" y="351.93" font-size="9.4" text-anchor="end" letter-spacing="0.25" fill="#231f20">0.70</text>
<line x1="60.00" y1="362.10" x2="756.70" y2="362.10" stroke="#b7c4c9" stroke-width="1.1"/>
<text x="55.90" y="365.10" font-size="9.4" text-anchor="end" letter-spacing="0.25" fill="#231f20">0.65</text>
<line x1="60.00" y1="375.27" x2="756.70" y2="375.27" stroke="#b7c4c9" stroke-width="1.1"/>
<text x="55.90" y="378.27" font-size="9.4" text-anchor="end" letter-spacing="0.25" fill="#231f20">0.60</text>
<line x1="60.00" y1="388.45" x2="756.70" y2="388.45" stroke="#b7c4c9" stroke-width="1.1"/>
<text x="55.90" y="391.45" font-size="9.4" text-anchor="end" letter-spacing="0.25" fill="#231f20">0.55</text>
<line x1="60.00" y1="401.62" x2="756.70" y2="401.62" stroke="#b7c4c9" stroke-width="1.1"/>
<text x="55.90" y="404.62" font-size="9.4" text-anchor="end" letter-spacing="0.25" fill="#231f20">0.50</text>
<line x1="60.00" y1="414.80" x2="756.70" y2="414.80" stroke="#b7c4c9" stroke-width="1.1"/>
<text x="55.90" y="417.80" font-size="9.4" text-anchor="end" letter-spacing="0.25" fill="#231f20">0.45</text>
<text x="28.60" y="361.30" font-size="10.8" text-anchor="middle" transform="rotate(-90 28.60 361.30)" fill="#231f20" textLength="67.2" lengthAdjust="spacingAndGlyphs">Overall score</text>
<rect x="72.30" y="324.68" width="7.30" height="90.12" fill="#a6cee3"/>
<rect x="81.57" y="324.68" width="7.30" height="90.12" fill="#1f78b4"/>
<rect x="90.84" y="320.73" width="7.30" height="94.07" fill="#b2df8a"/>
<rect x="100.11" y="320.20" width="7.30" height="94.60" fill="#33a02c"/>
<text x="88.35" y="425.20" font-size="9.5" text-anchor="end" transform="rotate(-45 88.35 425.20)" fill="#231f20">Dogma-full</text>
<rect x="121.30" y="327.58" width="7.30" height="87.22" fill="#a6cee3"/>
<rect x="130.57" y="328.90" width="7.30" height="85.90" fill="#1f78b4"/>
<rect x="139.84" y="323.37" width="7.30" height="91.43" fill="#b2df8a"/>
<rect x="149.11" y="324.42" width="7.30" height="90.38" fill="#33a02c"/>
<text x="140.95" y="425.20" font-size="9.5" text-anchor="end" transform="rotate(-45 140.95 425.20)" fill="#231f20">Dogma-paired+full</text>
<rect x="170.30" y="327.58" width="7.30" height="87.22" fill="#a6cee3"/>
<rect x="179.57" y="328.37" width="7.30" height="86.43" fill="#1f78b4"/>
<rect x="188.84" y="325.74" width="7.30" height="89.06" fill="#b2df8a"/>
<rect x="198.11" y="324.68" width="7.30" height="90.12" fill="#33a02c"/>
<text x="189.16" y="425.20" font-size="9.5" text-anchor="end" transform="rotate(-45 189.16 425.20)" fill="#231f20">Dogma-paired-abc</text>
<rect x="219.30" y="335.49" width="7.30" height="79.31" fill="#a6cee3"/>
<rect x="228.57" y="330.22" width="7.30" height="84.58" fill="#1f78b4"/>
<rect x="237.84" y="331.80" width="7.30" height="83.00" fill="#b2df8a"/>
<rect x="247.11" y="325.74" width="7.30" height="89.06" fill="#33a02c"/>
<text x="238.66" y="425.20" font-size="9.5" text-anchor="end" transform="rotate(-45 238.66 425.20)" fill="#231f20">Dogma-paired-ab</text>
<rect x="268.30" y="328.11" width="7.30" height="86.69" fill="#a6cee3"/>
<rect x="277.57" y="336.54" width="7.30" height="78.26" fill="#1f78b4"/>
<rect x="286.84" y="327.05" width="7.30" height="87.75" fill="#b2df8a"/>
<rect x="296.11" y="328.90" width="7.30" height="85.90" fill="#33a02c"/>
<text x="289.56" y="425.20" font-size="9.5" text-anchor="end" transform="rotate(-45 289.56 425.20)" fill="#231f20">Dogma-paired-ac</text>
<rect x="317.30" y="330.74" width="7.30" height="84.06" fill="#a6cee3"/>
<rect x="326.57" y="327.84" width="7.30" height="86.96" fill="#1f78b4"/>
<rect x="335.84" y="330.22" width="7.30" height="84.58" fill="#b2df8a"/>
<rect x="345.11" y="324.68" width="7.30" height="90.12" fill="#33a02c"/>
<text x="338.16" y="425.20" font-size="9.5" text-anchor="end" transform="rotate(-45 338.16 425.20)" fill="#231f20">Dogma-paired-bc</text>
<rect x="366.30" y="344.97" width="7.30" height="69.83" fill="#a6cee3"/>
<rect x="375.57" y="346.03" width="7.30" height="68.77" fill="#1f78b4"/>
<rect x="384.84" y="339.18" width="7.30" height="75.62" fill="#b2df8a"/>
<rect x="394.11" y="337.59" width="7.30" height="77.21" fill="#33a02c"/>
<text x="388.16" y="425.20" font-size="9.5" text-anchor="end" transform="rotate(-45 388.16 425.20)" fill="#231f20">Dogma-diagonal+full</text>
<rect x="415.30" y="402.68" width="7.30" height="12.12" fill="#a6cee3"/>
<rect x="424.57" y="344.97" width="7.30" height="69.83" fill="#1f78b4"/>
<rect x="433.84" y="398.20" width="7.30" height="16.60" fill="#b2df8a"/>
<rect x="443.11" y="340.49" width="7.30" height="74.31" fill="#33a02c"/>
<text x="436.56" y="425.20" font-size="9.5" text-anchor="end" transform="rotate(-45 436.56 425.20)" fill="#231f20">Dogma-diagonal</text>
<rect x="464.30" y="335.49" width="7.30" height="79.31" fill="#a6cee3"/>
<rect x="473.57" y="327.32" width="7.30" height="87.48" fill="#1f78b4"/>
<text x="490.44" y="414.70" font-size="10" transform="rotate(-90 490.44 414.70)" fill="#231f20" stroke="#231f20" stroke-width="0.25">NA</text>
<text x="500.61" y="414.70" font-size="10" transform="rotate(-90 500.61 414.70)" fill="#231f20" stroke="#231f20" stroke-width="0.25">NA</text>
<text x="482.46" y="425.20" font-size="9.5" text-anchor="end" transform="rotate(-45 482.46 425.20)" fill="#231f20">Dogma-paired-a</text>
<rect x="513.30" y="330.74" width="7.30" height="84.06" fill="#a6cee3"/>
<rect x="522.57" y="328.90" width="7.30" height="85.90" fill="#1f78b4"/>
<text x="539.44" y="414.70" font-size="10" transform="rotate(-90 539.44 414.70)" fill="#231f20" stroke="#231f20" stroke-width="0.25">NA</text>
<text x="549.61" y="414.70" font-size="10" transform="rotate(-90 549.61 414.70)" fill="#231f20" stroke="#231f20" stroke-width="0.25">NA</text>
<text x="532.95" y="425.20" font-size="9.5" text-anchor="end" transform="rotate(-45 532.95 425.20)" fill="#231f20">Dogma-paired-b</text>
<rect x="562.30" y="329.95" width="7.30" height="84.85" fill="#a6cee3"/>
<rect x="571.57" y="325.74" width="7.30" height="89.06" fill="#1f78b4"/>
<text x="588.44" y="414.70" font-size="10" transform="rotate(-90 588.44 414.70)" fill="#231f20" stroke="#231f20" stroke-width="0.25">NA</text>
<text x="598.61" y="414.70" font-size="10" transform="rotate(-90 598.61 414.70)" fill="#231f20" stroke="#231f20" stroke-width="0.25">NA</text>
<text x="587.55" y="425.20" font-size="9.5" text-anchor="end" transform="rotate(-45 587.55 425.20)" fill="#231f20">Dogma-paired-c</text>
<rect x="611.30" y="367.11" width="7.30" height="47.69" fill="#a6cee3"/>
<rect x="620.57" y="332.59" width="7.30" height="82.21" fill="#1f78b4"/>
<text x="637.44" y="414.70" font-size="10" transform="rotate(-90 637.44 414.70)" fill="#231f20" stroke="#231f20" stroke-width="0.25">NA</text>
<text x="647.61" y="414.70" font-size="10" transform="rotate(-90 647.61 414.70)" fill="#231f20" stroke="#231f20" stroke-width="0.25">NA</text>
<text x="632.25" y="425.20" font-size="9.5" text-anchor="end" transform="rotate(-45 632.25 425.20)" fill="#231f20">Dogma-atac</text>
<rect x="660.30" y="352.09" width="7.30" height="62.71" fill="#a6cee3"/>
<rect x="669.57" y="333.12" width="7.30" height="81.69" fill="#1f78b4"/>
<text x="686.44" y="414.70" font-size="10" transform="rotate(-90 686.44 414.70)" fill="#231f20" stroke="#231f20" stroke-width="0.25">NA</text>
<text x="696.61" y="414.70" font-size="10" transform="rotate(-90 696.61 414.70)" fill="#231f20" stroke="#231f20" stroke-width="0.25">NA</text>
<text x="683.85" y="425.20" font-size="9.5" text-anchor="end" transform="rotate(-45 683.85 425.20)" fill="#231f20">Dogma-rna</text>
<rect x="709.30" y="334.70" width="7.30" height="80.10" fill="#a6cee3"/>
<rect x="718.57" y="332.59" width="7.30" height="82.21" fill="#1f78b4"/>
<text x="735.44" y="414.70" font-size="10" transform="rotate(-90 735.44 414.70)" fill="#231f20" stroke="#231f20" stroke-width="0.25">NA</text>
<text x="745.61" y="414.70" font-size="10" transform="rotate(-90 745.61 414.70)" fill="#231f20" stroke="#231f20" stroke-width="0.25">NA</text>
<text x="732.05" y="425.20" font-size="9.5" text-anchor="end" transform="rotate(-45 732.05 425.20)" fill="#231f20">Dogma-adt</text>
<text x="408.50" y="498.20" font-size="10" text-anchor="middle" fill="#231f20">Task</text>
<text x="145.60" y="521.30" font-size="10.9" fill="#231f20">Training strategy</text>
<rect x="242.40" y="510.00" width="15.40" height="15.40" fill="#a6cee3"/>
<text x="264.80" y="521.30" font-size="10.7" fill="#231f20">De novo (scIB)</text>
<rect x="348.60" y="510.00" width="15.40" height="15.40" fill="#1f78b4"/>
<text x="371.00" y="521.30" font-size="10.7" fill="#231f20">Transfer (scIB)</text>
<rect x="454.80" y="510.00" width="15.40" height="15.40" fill="#b2df8a"/>
<text x="477.20" y="521.30" font-size="10.7" fill="#231f20">De novo (scMIB)</text>
<rect x="569.80" y="510.00" width="15.40" height="15.40" fill="#33a02c"/>
<text x="592.20" y="521.30" font-size="10.7" fill="#231f20">Transfer (scMIB)</text>
<line x1="61.60" y1="831.40" x2="756.70" y2="831.40" stroke="#b7c4c9" stroke-width="1.1"/>
<text x="55.90" y="834.40" font-size="9.4" text-anchor="end" letter-spacing="0.25" fill="#231f20">1.00</text>
<line x1="61.60" y1="843.67" x2="756.70" y2="843.67" stroke="#b7c4c9" stroke-width="1.1"/>
<text x="55.90" y="846.67" font-size="9.4" text-anchor="end" letter-spacing="0.25" fill="#231f20">0.95</text>
<line x1="61.60" y1="855.93" x2="756.70" y2="855.93" stroke="#b7c4c9" stroke-width="1.1"/>
<text x="55.90" y="858.93" font-size="9.4" text-anchor="end" letter-spacing="0.25" fill="#231f20">0.90</text>
<line x1="61.60" y1="868.20" x2="756.70" y2="868.20" stroke="#b7c4c9" stroke-width="1.1"/>
<text x="55.90" y="871.20" font-size="9.4" text-anchor="end" letter-spacing="0.25" fill="#231f20">0.85</text>
<line x1="61.60" y1="880.47" x2="756.70" y2="880.47" stroke="#b7c4c9" stroke-width="1.1"/>
<text x="55.90" y="883.47" font-size="9.4" text-anchor="end" letter-spacing="0.25" fill="#231f20">0.80</text>
<line x1="61.60" y1="892.73" x2="756.70" y2="892.73" stroke="#b7c4c9" stroke-width="1.1"/>
<text x="55.90" y="895.73" font-size="9.4" text-anchor="end" letter-spacing="0.25" fill="#231f20">0.75</text>
<line x1="61.60" y1="905.00" x2="756.70" y2="905.00" stroke="#b7c4c9" stroke-width="1.1"/>
<text x="55.90" y="908.00" font-size="9.4" text-anchor="end" letter-spacing="0.25" fill="#231f20">0.70</text>
<line x1="61.60" y1="917.27" x2="756.70" y2="917.27" stroke="#b7c4c9" stroke-width="1.1"/>
<text x="55.90" y="920.27" font-size="9.4" text-anchor="end" letter-spacing="0.25" fill="#231f20">0.65</text>
<line x1="61.60" y1="929.53" x2="756.70" y2="929.53" stroke="#b7c4c9" stroke-width="1.1"/>
<text x="55.90" y="932.53" font-size="9.4" text-anchor="end" letter-spacing="0.25" fill="#231f20">0.60</text>
<line x1="61.60" y1="941.80" x2="756.70" y2="941.80" stroke="#b7c4c9" stroke-width="1.1"/>
<text x="55.90" y="944.80" font-size="9.4" text-anchor="end" letter-spacing="0.25" fill="#231f20">0.55</text>
<text x="28.90" y="886.60" font-size="10.8" text-anchor="middle" transform="rotate(-90 28.90 886.60)" fill="#231f20">Micro F1 score</text>
<rect x="76.00" y="851.27" width="8.00" height="90.53" fill="#d7191c"/>
<rect x="86.70" y="850.05" width="8.00" height="91.75" fill="#377eb8"/>
<rect x="97.40" y="840.72" width="8.00" height="101.08" fill="#4daf4a"/>
<text x="88.40" y="952.00" font-size="9.5" text-anchor="end" transform="rotate(-45 88.40 952.00)" fill="#231f20">Dogma-full</text>
<rect x="125.00" y="852.99" width="8.00" height="88.81" fill="#d7191c"/>
<rect x="135.70" y="848.82" width="8.00" height="92.98" fill="#377eb8"/>
<rect x="146.40" y="843.67" width="8.00" height="98.13" fill="#4daf4a"/>
<text x="141.00" y="952.00" font-size="9.5" text-anchor="end" transform="rotate(-45 141.00 952.00)" fill="#231f20">Dogma-paired+full</text>
<rect x="174.00" y="855.20" width="8.00" height="86.60" fill="#d7191c"/>
<rect x="184.70" y="852.01" width="8.00" height="89.79" fill="#377eb8"/>
<rect x="195.40" y="843.91" width="8.00" height="97.89" fill="#4daf4a"/>
<text x="189.20" y="952.00" font-size="9.5" text-anchor="end" transform="rotate(-45 189.20 952.00)" fill="#231f20">Dogma-paired-abc</text>
<rect x="223.00" y="855.20" width="8.00" height="86.60" fill="#d7191c"/>
<rect x="233.70" y="854.22" width="8.00" height="87.58" fill="#377eb8"/>
<rect x="244.40" y="845.14" width="8.00" height="96.66" fill="#4daf4a"/>
<text x="238.70" y="952.00" font-size="9.5" text-anchor="end" transform="rotate(-45 238.70 952.00)" fill="#231f20">Dogma-paired-ab</text>
<rect x="272.00" y="854.71" width="8.00" height="87.09" fill="#d7191c"/>
<rect x="282.70" y="855.44" width="8.00" height="86.36" fill="#377eb8"/>
<rect x="293.40" y="846.12" width="8.00" height="95.68" fill="#4daf4a"/>
<text x="289.60" y="952.00" font-size="9.5" text-anchor="end" transform="rotate(-45 289.60 952.00)" fill="#231f20">Dogma-paired-ac</text>
<rect x="321.00" y="855.93" width="8.00" height="85.87" fill="#d7191c"/>
<rect x="331.70" y="852.99" width="8.00" height="88.81" fill="#377eb8"/>
<rect x="342.40" y="843.91" width="8.00" height="97.89" fill="#4daf4a"/>
<text x="338.20" y="952.00" font-size="9.5" text-anchor="end" transform="rotate(-45 338.20 952.00)" fill="#231f20">Dogma-paired-bc</text>
<rect x="370.00" y="862.56" width="8.00" height="79.24" fill="#d7191c"/>
<rect x="380.70" y="857.65" width="8.00" height="84.15" fill="#377eb8"/>
<rect x="391.40" y="851.76" width="8.00" height="90.04" fill="#4daf4a"/>
<text x="388.20" y="952.00" font-size="9.5" text-anchor="end" transform="rotate(-45 388.20 952.00)" fill="#231f20">Dogma-diagonal+full</text>
<rect x="419.00" y="866.73" width="8.00" height="75.07" fill="#d7191c"/>
<rect x="429.70" y="896.41" width="8.00" height="45.39" fill="#377eb8"/>
<rect x="440.40" y="853.48" width="8.00" height="88.32" fill="#4daf4a"/>
<text x="436.60" y="952.00" font-size="9.5" text-anchor="end" transform="rotate(-45 436.60 952.00)" fill="#231f20">Dogma-diagonal</text>
<rect x="468.00" y="856.91" width="8.00" height="84.89" fill="#d7191c"/>
<rect x="478.70" y="863.05" width="8.00" height="78.75" fill="#377eb8"/>
<rect x="489.40" y="848.33" width="8.00" height="93.47" fill="#4daf4a"/>
<text x="482.50" y="952.00" font-size="9.5" text-anchor="end" transform="rotate(-45 482.50 952.00)" fill="#231f20">Dogma-paired-a</text>
<rect x="517.00" y="856.18" width="8.00" height="85.62" fill="#d7191c"/>
<rect x="527.70" y="851.52" width="8.00" height="90.28" fill="#377eb8"/>
<rect x="538.40" y="843.42" width="8.00" height="98.38" fill="#4daf4a"/>
<text x="533.00" y="952.00" font-size="9.5" text-anchor="end" transform="rotate(-45 533.00 952.00)" fill="#231f20">Dogma-paired-b</text>
<rect x="566.00" y="854.71" width="8.00" height="87.09" fill="#d7191c"/>
<rect x="576.70" y="854.22" width="8.00" height="87.58" fill="#377eb8"/>
<rect x="587.40" y="844.16" width="8.00" height="97.64" fill="#4daf4a"/>
<text x="587.60" y="952.00" font-size="9.5" text-anchor="end" transform="rotate(-45 587.60 952.00)" fill="#231f20">Dogma-paired-c</text>
<rect x="615.00" y="865.26" width="8.00" height="76.54" fill="#d7191c"/>
<rect x="625.70" y="899.60" width="8.00" height="42.20" fill="#377eb8"/>
<rect x="636.40" y="858.14" width="8.00" height="83.66" fill="#4daf4a"/>
<text x="632.30" y="952.00" font-size="9.5" text-anchor="end" transform="rotate(-45 632.30 952.00)" fill="#231f20">Dogma-atac</text>
<rect x="664.00" y="868.69" width="8.00" height="73.11" fill="#d7191c"/>
<rect x="674.70" y="932.48" width="8.00" height="9.32" fill="#377eb8"/>
<rect x="685.40" y="856.18" width="8.00" height="85.62" fill="#4daf4a"/>
<text x="683.90" y="952.00" font-size="9.5" text-anchor="end" transform="rotate(-45 683.90 952.00)" fill="#231f20">Dogma-rna</text>
<rect x="713.00" y="871.14" width="8.00" height="70.66" fill="#d7191c"/>
<rect x="723.70" y="887.09" width="8.00" height="54.71" fill="#377eb8"/>
<rect x="734.40" y="852.01" width="8.00" height="89.79" fill="#4daf4a"/>
<text x="732.10" y="952.00" font-size="9.5" text-anchor="end" transform="rotate(-45 732.10 952.00)" fill="#231f20">Dogma-adt</text>
<text x="408.70" y="1024.50" font-size="10" text-anchor="middle" fill="#231f20">Task</text>
<text x="189.00" y="1049.40" font-size="11.2" fill="#231f20">Mapping strategy</text>
<rect x="283.30" y="1037.50" width="15.20" height="15.20" fill="#d7191c"/>
<text x="305.50" y="1049.40" font-size="10.9" fill="#231f20">Query–to–reference</text>
<rect x="418.30" y="1037.50" width="15.20" height="15.20" fill="#377eb8"/>
<text x="440.50" y="1049.40" font-size="10.9" fill="#231f20">Reference–to–query</text>
<rect x="554.80" y="1037.50" width="15.20" height="15.20" fill="#4daf4a"/>
<text x="577.00" y="1049.40" font-size="10.9" fill="#231f20">Reciprocal</text>
<text x="154.94" y="568.20" font-size="9.4" text-anchor="middle" fill="#231f20">Dogma-full</text>
<text x="251.21" y="568.20" font-size="9.4" text-anchor="middle" fill="#231f20">Dogma-paired+full</text>
<text x="347.48" y="568.20" font-size="9.4" text-anchor="middle" fill="#231f20">Dogma-paired-abc</text>
<text x="443.75" y="568.20" font-size="9.4" text-anchor="middle" fill="#231f20">Dogma-paired-ab</text>
<text x="540.02" y="568.20" font-size="9.4" text-anchor="middle" fill="#231f20">Dogma-paired-ac</text>
<text x="636.29" y="568.20" font-size="9.4" text-anchor="middle" fill="#231f20">Dogma-paired-bc</text>
<text x="732.56" y="568.20" font-size="9.4" text-anchor="middle" fill="#231f20">Dogma-diagonal+full</text>
<line x1="106.50" y1="570.90" x2="106.50" y2="667.10" stroke="#222" stroke-width="1.2"/>
<line x1="203.50" y1="570.90" x2="203.50" y2="667.10" stroke="#222" stroke-width="1.2"/>
<line x1="299.50" y1="570.90" x2="299.50" y2="667.10" stroke="#222" stroke-width="1.2"/>
<line x1="395.50" y1="570.90" x2="395.50" y2="667.10" stroke="#222" stroke-width="1.2"/>
<line x1="491.50" y1="570.90" x2="491.50" y2="667.10" stroke="#222" stroke-width="1.2"/>
<line x1="588.50" y1="570.90" x2="588.50" y2="667.10" stroke="#222" stroke-width="1.2"/>
<line x1="684.50" y1="570.90" x2="684.50" y2="667.10" stroke="#222" stroke-width="1.2"/>
<line x1="780.50" y1="570.90" x2="780.50" y2="667.10" stroke="#222" stroke-width="1.2"/>
<line x1="105.90" y1="571.50" x2="781.10" y2="571.50" stroke="#222" stroke-width="1.2"/>
<line x1="105.90" y1="666.50" x2="781.10" y2="666.50" stroke="#222" stroke-width="1.2"/>
<text x="154.94" y="677.60" font-size="9.4" text-anchor="middle" fill="#231f20">Dogma-diagonal</text>
<text x="251.21" y="677.60" font-size="9.4" text-anchor="middle" fill="#231f20">Dogma-paired-a</text>
<text x="347.48" y="677.60" font-size="9.4" text-anchor="middle" fill="#231f20">Dogma-paired-b</text>
<text x="443.75" y="677.60" font-size="9.4" text-anchor="middle" fill="#231f20">Dogma-paired-c</text>
<text x="540.02" y="677.60" font-size="9.4" text-anchor="middle" fill="#231f20">Dogma-atac</text>
<text x="636.29" y="677.60" font-size="9.4" text-anchor="middle" fill="#231f20">Dogma-rna</text>
<text x="732.56" y="677.60" font-size="9.4" text-anchor="middle" fill="#231f20">Dogma-adt</text>
<line x1="106.50" y1="680.90" x2="106.50" y2="776.10" stroke="#222" stroke-width="1.2"/>
<line x1="203.50" y1="680.90" x2="203.50" y2="776.10" stroke="#222" stroke-width="1.2"/>
<line x1="299.50" y1="680.90" x2="299.50" y2="776.10" stroke="#222" stroke-width="1.2"/>
<line x1="395.50" y1="680.90" x2="395.50" y2="776.10" stroke="#222" stroke-width="1.2"/>
<line x1="491.50" y1="680.90" x2="491.50" y2="776.10" stroke="#222" stroke-width="1.2"/>
<line x1="588.50" y1="680.90" x2="588.50" y2="776.10" stroke="#222" stroke-width="1.2"/>
<line x1="684.50" y1="680.90" x2="684.50" y2="776.10" stroke="#222" stroke-width="1.2"/>
<line x1="780.50" y1="680.90" x2="780.50" y2="776.10" stroke="#222" stroke-width="1.2"/>
<line x1="105.90" y1="681.50" x2="781.10" y2="681.50" stroke="#222" stroke-width="1.2"/>
<line x1="105.90" y1="775.50" x2="781.10" y2="775.50" stroke="#222" stroke-width="1.2"/>
<text x="52.80" y="620.70" font-size="11.0" text-anchor="middle" fill="#231f20">Dogma-full (atlas)</text>
<rect x="5.5" y="624.5" width="95" height="94" fill="none" stroke="#222" stroke-width="1.2"/>
<text x="29.20" y="796.30" font-size="10.8" fill="#231f20">MIDAS cell type</text>
<circle cx="118.1" cy="786.9" r="3.1" fill="#dcdcdc"/>
<circle cx="118.1" cy="799.7" r="3.1" fill="#4fc1c9"/>
<text x="129.40" y="790.60" font-size="10.6" letter-spacing="0.15" fill="#231f20">Unselected</text>
<text x="129.40" y="803.40" font-size="10.6" letter-spacing="0.15" fill="#231f20">DP T</text>
<circle cx="199.4" cy="786.9" r="3.1" fill="#82bd62"/>
<circle cx="199.4" cy="799.7" r="3.1" fill="#1f7a40"/>
<text x="210.70" y="790.60" font-size="10.6" letter-spacing="0.15" fill="#231f20">B</text>
<text x="210.70" y="803.40" font-size="10.6" letter-spacing="0.15" fill="#231f20">HSC</text>
<circle cx="256.6" cy="786.9" r="3.1" fill="#e8383a"/>
<circle cx="256.6" cy="799.7" r="3.1" fill="#7eaee0"/>
<text x="267.90" y="790.60" font-size="10.6" letter-spacing="0.15" fill="#231f20">CD4<tspan font-size="5.5" dy="-3.5">+</tspan><tspan dy="3.5"> memory T</tspan></text>
<text x="267.90" y="803.40" font-size="10.6" letter-spacing="0.15" fill="#231f20">Monocytes</text>
<circle cx="360.0" cy="786.9" r="3.1" fill="#3a62c0"/>
<circle cx="360.0" cy="799.7" r="3.1" fill="#c3a8d8"/>
<text x="371.30" y="790.60" font-size="10.6" letter-spacing="0.15" fill="#231f20">CD4<tspan font-size="5.5" dy="-3.5">+</tspan><tspan dy="3.5"> naive T</tspan></text>
<text x="371.30" y="803.40" font-size="10.6" letter-spacing="0.15" fill="#231f20">NK</text>
<circle cx="454.8" cy="786.9" r="3.1" fill="#f5e41a"/>
<circle cx="454.8" cy="799.7" r="3.1" fill="#e8dea0"/>
<text x="466.10" y="790.60" font-size="10.6" letter-spacing="0.15" fill="#231f20">CD8<tspan font-size="5.5" dy="-3.5">+</tspan><tspan dy="3.5"> memory T</tspan></text>
<text x="466.10" y="803.40" font-size="10.6" letter-spacing="0.15" fill="#231f20">Platelet</text>
<circle cx="561.0" cy="786.9" r="3.1" fill="#e868a8"/>
<circle cx="561.0" cy="799.7" r="3.1" fill="#2f4f4f"/>
<text x="572.30" y="790.60" font-size="10.6" letter-spacing="0.15" fill="#231f20">CD8<tspan font-size="5.5" dy="-3.5">+</tspan><tspan dy="3.5"> naive T</tspan></text>
<text x="572.30" y="803.40" font-size="10.6" letter-spacing="0.15" fill="#231f20">T<tspan font-size="7.2" dy="2.8">reg</tspan></text>
<circle cx="658.5" cy="786.9" r="3.1" fill="#b050b0"/>
<circle cx="658.5" cy="799.7" r="3.1" fill="#b06020"/>
<text x="669.80" y="790.60" font-size="10.6" letter-spacing="0.15" fill="#231f20">DC</text>
<text x="669.80" y="803.40" font-size="10.6" letter-spacing="0.15" fill="#231f20">Unconventional T</text>
</svg></body></html>
